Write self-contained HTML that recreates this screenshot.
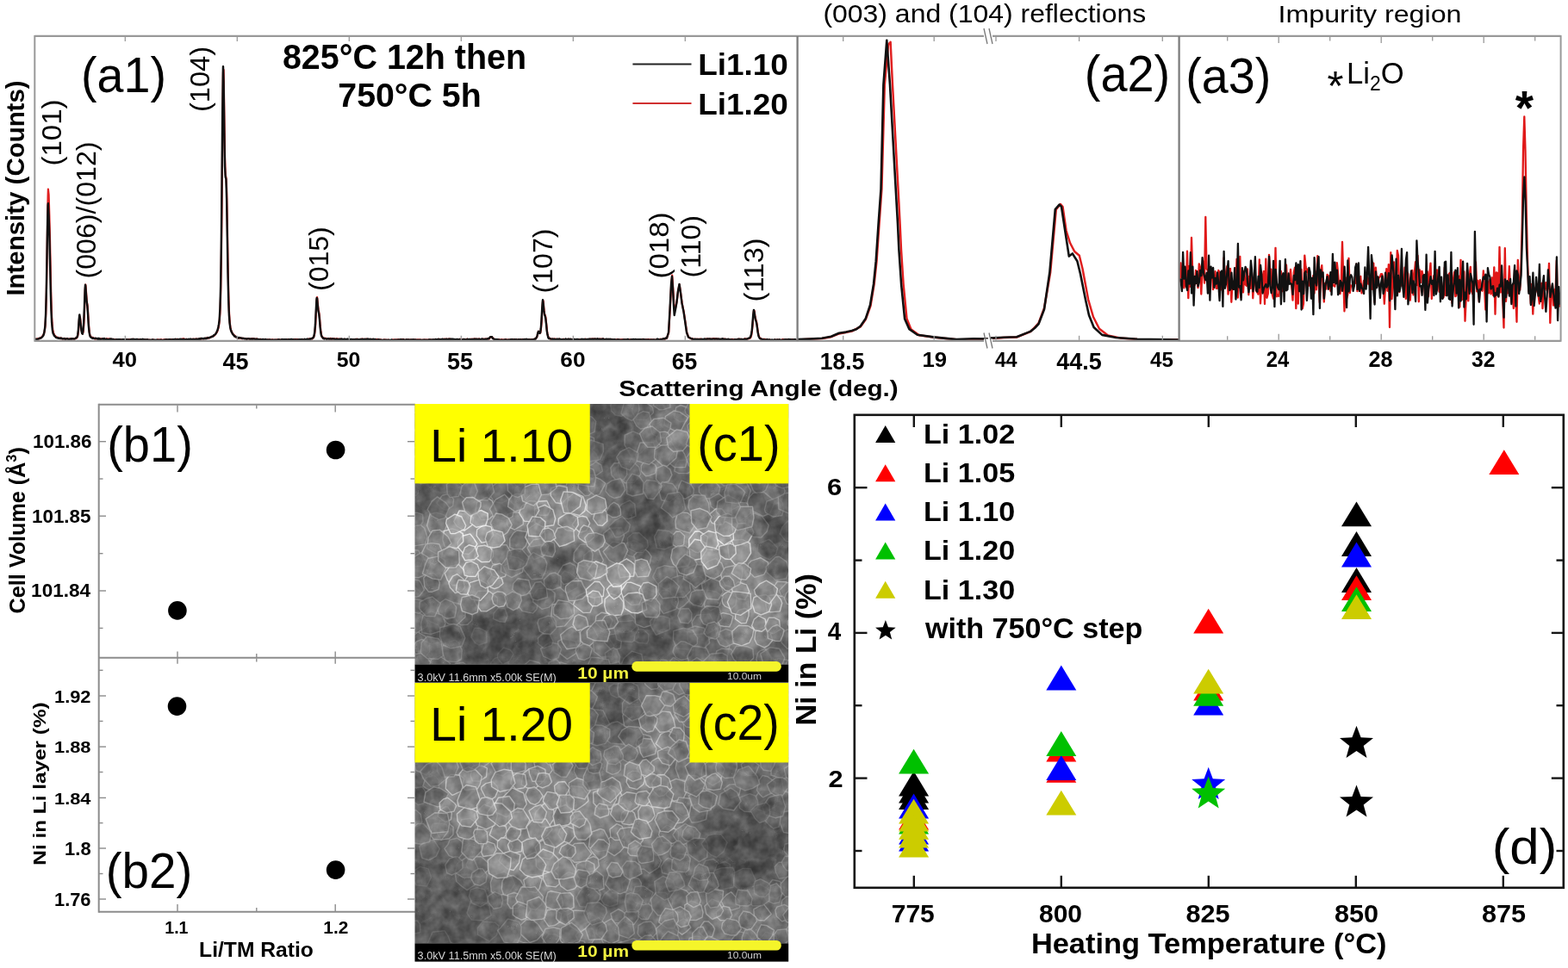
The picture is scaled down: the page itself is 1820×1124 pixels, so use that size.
<!DOCTYPE html><html><head><meta charset="utf-8"><title>Figure</title><style>html,body{margin:0;padding:0;background:#fff;overflow:hidden}svg{display:block}</style></head><body><svg width="1820" height="1124" viewBox="0 0 1820 1124" font-family='"Liberation Sans", Arial, sans-serif'>
<rect width="1820" height="1124" fill="#fff"/>
<polyline points="40.5,393.9 41.2,393.9 41.9,393.7 42.6,393.5 43.3,393.5 44.0,393.2 44.7,393.3 45.4,393.4 46.1,392.7 46.8,392.3 47.5,392.2 48.2,391.7 48.9,391.0 49.6,389.9 50.3,389.0 51.0,387.5 51.7,384.4 52.4,379.5 53.1,367.7 53.8,344.0 54.5,303.0 55.2,252.4 55.6,228.7 55.9,219.5 56.6,225.9 57.3,249.2 58.0,277.6 58.7,314.4 59.4,346.6 60.1,367.7 60.8,378.6 61.5,384.3 62.2,386.9 62.9,388.5 63.6,390.0 64.3,390.3 65.0,391.1 65.7,391.7 66.4,391.7 67.1,392.1 67.8,392.4 68.5,392.5 69.2,392.4 69.9,392.8 70.6,393.2 71.3,392.6 72.0,393.3 72.7,393.2 73.4,393.0 74.1,393.7 74.8,393.5 75.5,393.0 76.2,393.4 76.9,393.5 77.6,393.4 78.3,393.6 79.0,393.5 79.7,393.7 80.4,393.9 81.1,393.4 81.8,393.6 82.5,393.4 83.2,393.5 83.9,393.2 84.6,393.3 85.3,393.4 86.0,393.6 86.7,393.5 87.4,392.8 88.1,392.7 88.8,392.7 89.5,391.4 90.2,390.2 90.9,385.8 91.6,376.9 92.2,368.0 92.3,366.9 93.0,368.2 93.7,375.0 94.4,381.7 95.1,385.8 95.8,387.4 96.5,385.8 97.2,378.9 97.9,364.2 98.6,343.0 99.0,333.7 99.3,330.6 100.0,338.6 100.7,349.1 101.4,353.7 102.1,361.9 102.8,373.8 103.5,383.5 104.2,388.3 104.9,390.6 105.6,391.1 106.3,392.0 107.0,391.9 107.7,392.1 108.4,392.7 109.1,392.7 109.8,393.0 110.5,393.6 111.2,392.9 111.9,393.0 112.6,393.3 113.3,393.4 114.0,393.3 114.7,393.3 115.4,393.6 116.1,393.6 116.8,393.2 117.5,393.5 118.2,393.5 118.9,393.3 119.6,393.7 120.3,393.4 121.0,393.9 121.7,393.7 122.4,393.8 123.1,393.6 123.8,393.8 124.5,393.3 125.2,393.6 125.9,394.0 126.6,393.4 127.3,394.2 128.0,393.6 128.7,394.3 129.4,393.9 130.1,394.3 130.8,394.2 131.5,393.8 132.2,394.6 132.9,394.6 133.6,394.3 134.3,394.3 135.0,394.3 135.7,394.1 136.4,394.7 137.1,394.3 137.8,394.4 138.5,394.2 139.2,394.3 139.9,394.1 140.6,394.8 141.3,394.4 142.0,394.7 142.7,394.5 143.4,394.3 144.1,394.4 144.8,394.3 145.5,394.4 146.2,394.3 146.9,394.3 147.6,394.0 148.3,394.2 149.0,394.8 149.7,394.2 150.4,394.1 151.1,394.4 151.8,394.7 152.5,393.9 153.2,394.2 153.9,394.1 154.6,393.8 155.3,394.4 156.0,394.2 156.7,394.3 157.4,394.1 158.1,394.4 158.8,394.1 159.5,394.2 160.2,394.0 160.9,394.0 161.6,394.6 162.3,394.2 163.0,394.4 163.7,394.3 164.4,394.2 165.1,394.2 165.8,394.6 166.5,394.3 167.2,394.4 167.9,394.5 168.6,394.8 169.3,394.7 170.0,394.7 170.7,394.4 171.4,394.3 172.1,394.9 172.8,394.9 173.5,394.7 174.2,394.9 174.9,394.9 175.6,395.0 176.3,395.0 177.0,394.7 177.7,395.2 178.4,394.5 179.1,395.1 179.8,395.0 180.5,395.1 181.2,395.3 181.9,395.2 182.6,394.6 183.3,394.4 184.0,395.1 184.7,394.6 185.4,394.8 186.1,395.0 186.8,394.4 187.5,394.3 188.2,394.8 188.9,394.8 189.6,394.7 190.3,394.7 191.0,394.4 191.7,394.2 192.4,394.6 193.1,394.3 193.8,394.1 194.5,394.6 195.2,394.5 195.9,394.5 196.6,394.2 197.3,394.2 198.0,394.1 198.7,394.1 199.4,394.3 200.1,394.1 200.8,394.3 201.5,394.3 202.2,394.7 202.9,393.8 203.6,394.4 204.3,394.1 205.0,394.1 205.7,393.7 206.4,394.0 207.1,394.3 207.8,394.1 208.5,394.1 209.2,394.0 209.9,394.4 210.6,394.1 211.3,393.5 212.0,393.9 212.7,393.6 213.4,393.3 214.1,393.9 214.8,394.4 215.5,394.1 216.2,393.8 216.9,393.9 217.6,394.4 218.3,394.1 219.0,394.1 219.7,394.1 220.4,394.1 221.1,394.3 221.8,394.2 222.5,394.1 223.2,393.8 223.9,394.2 224.6,393.9 225.3,394.3 226.0,393.7 226.7,393.9 227.4,393.9 228.1,393.6 228.8,394.3 229.5,394.2 230.2,393.7 230.9,393.9 231.6,393.8 232.3,392.9 233.0,393.6 233.7,393.5 234.4,393.4 235.1,393.0 235.8,393.2 236.5,393.1 237.2,393.3 237.9,393.0 238.6,392.8 239.3,393.1 240.0,392.5 240.7,392.4 241.4,391.9 242.1,392.6 242.8,392.2 243.5,392.0 244.2,391.8 244.9,391.4 245.6,391.2 246.3,390.7 247.0,390.4 247.7,390.1 248.4,390.0 249.1,389.2 249.8,388.4 250.5,387.4 251.2,386.4 251.9,385.7 252.6,383.8 253.3,381.5 254.0,378.2 254.7,372.9 255.4,363.6 256.1,344.0 256.8,305.3 257.5,241.9 258.2,159.6 258.9,89.8 259.0,83.5 259.6,81.1 260.3,129.6 261.0,181.0 261.7,203.3 262.4,205.7 263.1,219.3 263.8,257.7 264.5,302.7 265.2,338.6 265.9,360.9 266.6,372.7 267.3,379.2 268.0,383.1 268.7,384.7 269.4,386.3 270.1,387.3 270.8,388.6 271.5,389.0 272.2,389.6 272.9,390.8 273.6,390.6 274.3,391.5 275.0,391.9 275.7,391.9 276.4,392.2 277.1,392.7 277.8,392.3 278.5,392.4 279.2,392.3 279.9,392.8 280.6,393.2 281.3,393.2 282.0,392.8 282.7,392.9 283.4,393.0 284.1,393.3 284.8,393.2 285.5,393.3 286.2,393.4 286.9,393.3 287.6,393.4 288.3,393.5 289.0,393.4 289.7,393.6 290.4,394.0 291.1,393.7 291.8,393.6 292.5,393.2 293.2,393.7 293.9,393.2 294.6,393.4 295.3,394.0 296.0,394.0 296.7,393.8 297.4,393.4 298.1,393.8 298.8,393.8 299.5,394.1 300.2,394.6 300.9,394.1 301.6,393.9 302.3,393.8 303.0,394.2 303.7,394.2 304.4,394.0 305.1,394.3 305.8,394.1 306.5,394.7 307.2,394.7 307.9,394.7 308.6,394.4 309.3,394.7 310.0,394.5 310.7,394.5 311.4,394.5 312.1,394.3 312.8,394.3 313.5,394.9 314.2,394.7 314.9,394.8 315.6,395.0 316.3,394.3 317.0,394.6 317.7,394.8 318.4,394.9 319.1,394.7 319.8,395.0 320.5,394.8 321.2,394.4 321.9,394.5 322.6,394.9 323.3,394.8 324.0,394.2 324.7,395.0 325.4,394.8 326.1,395.0 326.8,394.5 327.5,394.5 328.2,394.3 328.9,395.2 329.6,394.5 330.3,394.9 331.0,394.3 331.7,394.5 332.4,394.0 333.1,394.3 333.8,394.6 334.5,394.0 335.2,394.6 335.9,394.4 336.6,394.0 337.3,394.2 338.0,394.2 338.7,394.3 339.4,394.1 340.1,394.1 340.8,394.2 341.5,394.0 342.2,393.9 342.9,394.2 343.6,394.5 344.3,393.9 345.0,394.3 345.7,394.1 346.4,394.0 347.1,394.5 347.8,394.2 348.5,394.7 349.2,394.1 349.9,394.4 350.6,394.3 351.3,394.1 352.0,394.5 352.7,394.3 353.4,394.5 354.1,394.3 354.8,394.0 355.5,394.2 356.2,394.2 356.9,394.4 357.6,393.9 358.3,394.0 359.0,393.5 359.7,394.0 360.4,393.5 361.1,393.1 361.8,393.3 362.5,393.3 363.2,392.2 363.9,391.6 364.6,390.3 365.3,387.0 366.0,380.2 366.7,367.2 367.4,352.0 367.7,347.6 368.1,345.2 368.8,352.0 369.5,359.2 370.2,362.5 370.9,367.3 371.6,376.8 372.3,383.9 373.0,388.7 373.7,390.9 374.4,391.9 375.1,392.4 375.8,393.2 376.5,392.7 377.2,392.7 377.9,392.9 378.6,392.9 379.3,393.5 380.0,393.6 380.7,393.2 381.4,393.1 382.1,393.4 382.8,393.9 383.5,392.8 384.2,393.7 384.9,393.3 385.6,393.9 386.3,393.4 387.0,393.6 387.7,393.3 388.4,393.4 389.1,394.1 389.8,393.9 390.5,393.7 391.2,393.6 391.9,393.3 392.6,393.8 393.3,393.9 394.0,393.9 394.7,393.9 395.4,393.7 396.1,394.0 396.8,394.0 397.5,394.4 398.2,394.5 398.9,394.1 399.6,393.9 400.3,394.1 401.0,394.0 401.7,394.0 402.4,394.2 403.1,393.9 403.8,394.4 404.5,394.2 405.2,394.3 405.9,394.2 406.6,394.1 407.3,394.0 408.0,394.2 408.7,394.1 409.4,394.3 410.1,394.2 410.8,393.9 411.5,394.2 412.2,393.9 412.9,394.0 413.6,394.1 414.3,393.6 415.0,394.2 415.7,394.2 416.4,394.1 417.1,394.0 417.8,394.0 418.5,393.8 419.2,394.0 419.9,393.9 420.6,394.1 421.3,393.7 422.0,394.1 422.7,394.0 423.4,394.0 424.1,393.9 424.8,394.1 425.5,393.6 426.2,394.1 426.9,394.1 427.6,394.1 428.3,394.1 429.0,393.9 429.7,394.0 430.4,394.2 431.1,394.2 431.8,394.2 432.5,393.8 433.2,394.3 433.9,394.5 434.6,394.5 435.3,394.3 436.0,393.9 436.7,394.6 437.4,394.3 438.1,393.8 438.8,394.5 439.5,394.1 440.2,394.2 440.9,394.4 441.6,394.9 442.3,394.5 443.0,394.7 443.7,395.1 444.4,395.1 445.1,394.7 445.8,394.7 446.5,394.5 447.2,394.6 447.9,394.9 448.6,394.9 449.3,394.9 450.0,395.1 450.7,394.7 451.4,394.8 452.1,395.0 452.8,395.0 453.5,395.1 454.2,395.0 454.9,394.8 455.6,394.9 456.3,394.6 457.0,394.4 457.7,394.9 458.4,394.8 459.1,394.8 459.8,394.3 460.5,394.6 461.2,394.6 461.9,394.5 462.6,394.1 463.3,394.6 464.0,394.8 464.7,394.7 465.4,394.4 466.1,394.6 466.8,394.7 467.5,393.8 468.2,394.5 468.9,394.6 469.6,394.7 470.3,394.9 471.0,394.8 471.7,394.6 472.4,394.5 473.1,394.7 473.8,394.3 474.5,394.5 475.2,394.7 475.9,395.0 476.6,394.5 477.3,394.5 478.0,394.6 478.7,394.9 479.4,394.5 480.1,394.9 480.8,394.3 481.5,394.6 482.2,394.6 482.9,394.8 483.6,394.9 484.3,394.3 485.0,394.5 485.7,394.8 486.4,394.6 487.1,394.4 487.8,395.0 488.5,394.9 489.2,394.9 489.9,394.7 490.6,395.1 491.3,394.7 492.0,395.1 492.7,394.6 493.4,394.6 494.1,394.8 494.8,394.6 495.5,394.9 496.2,394.8 496.9,394.5 497.6,394.7 498.3,394.6 499.0,394.9 499.7,394.5 500.4,394.5 501.1,394.9 501.8,395.1 502.5,395.0 503.2,394.5 503.9,394.5 504.6,394.8 505.3,394.4 506.0,394.1 506.7,394.4 507.4,394.4 508.1,394.1 508.8,393.8 509.5,393.8 510.2,394.3 510.9,393.9 511.6,394.1 512.3,394.1 513.0,394.2 513.7,394.0 514.4,394.1 515.1,393.8 515.8,393.9 516.5,393.7 517.2,394.2 517.9,393.9 518.6,393.8 519.3,393.9 520.0,393.9 520.7,394.1 521.4,393.6 522.1,393.7 522.8,393.9 523.5,394.6 524.2,394.2 524.9,394.0 525.6,394.2 526.3,394.5 527.0,394.0 527.7,394.0 528.4,394.4 529.1,394.2 529.8,394.3 530.5,394.0 531.2,394.6 531.9,394.6 532.6,394.3 533.3,394.4 534.0,393.7 534.7,394.4 535.4,394.2 536.1,394.4 536.8,394.4 537.5,394.2 538.2,393.8 538.9,394.4 539.6,394.1 540.3,394.2 541.0,394.1 541.7,394.2 542.4,393.7 543.1,394.5 543.8,394.3 544.5,394.5 545.2,394.7 545.9,394.2 546.6,393.7 547.3,393.9 548.0,393.8 548.7,394.0 549.4,394.1 550.1,393.5 550.8,394.1 551.5,393.6 552.2,394.1 552.9,393.9 553.6,393.9 554.3,393.9 555.0,393.8 555.7,393.7 556.4,393.5 557.1,393.9 557.8,394.3 558.5,394.3 559.2,394.2 559.9,394.0 560.6,393.7 561.3,394.2 562.0,393.8 562.7,393.8 563.4,393.7 564.1,393.8 564.8,393.7 565.5,393.7 566.2,393.4 566.9,393.3 567.6,393.6 568.3,392.5 569.0,391.8 569.7,391.4 570.4,391.4 571.1,391.3 571.8,392.3 572.5,393.2 573.2,393.6 573.9,393.9 574.6,394.5 575.3,394.0 576.0,394.3 576.7,394.2 577.4,394.8 578.1,394.0 578.8,394.3 579.5,394.4 580.2,394.7 580.9,394.7 581.6,395.0 582.3,394.2 583.0,394.8 583.7,394.6 584.4,394.5 585.1,394.8 585.8,394.5 586.5,394.2 587.2,394.6 587.9,394.3 588.6,394.5 589.3,394.8 590.0,394.7 590.7,395.1 591.4,394.6 592.1,394.2 592.8,394.4 593.5,394.4 594.2,394.3 594.9,394.7 595.6,394.4 596.3,394.0 597.0,394.7 597.7,394.5 598.4,394.6 599.1,394.5 599.8,394.6 600.5,394.4 601.2,394.7 601.9,394.5 602.6,394.5 603.3,394.5 604.0,394.0 604.7,394.3 605.4,394.3 606.1,394.4 606.8,394.0 607.5,394.7 608.2,394.4 608.9,394.0 609.6,393.9 610.3,394.3 611.0,394.3 611.7,394.2 612.4,394.4 613.1,394.2 613.8,394.5 614.5,394.1 615.2,394.3 615.9,394.5 616.6,394.9 617.3,394.0 618.0,394.1 618.7,394.0 619.4,394.3 620.1,393.7 620.8,393.7 621.5,393.6 622.2,392.8 622.9,391.8 623.6,390.1 624.3,387.0 625.0,384.9 625.7,385.1 626.4,386.5 627.1,386.7 627.8,383.2 628.5,375.6 629.2,363.4 629.9,351.4 630.0,350.1 630.6,349.3 631.3,357.6 632.0,364.0 632.7,366.0 633.4,368.4 634.1,375.4 634.8,382.4 635.5,388.0 636.2,390.5 636.9,392.3 637.6,392.6 638.3,393.1 639.0,394.0 639.7,393.7 640.4,393.5 641.1,393.7 641.8,393.9 642.5,394.1 643.2,393.8 643.9,393.5 644.6,393.8 645.3,393.9 646.0,394.0 646.7,394.3 647.4,394.0 648.1,394.1 648.8,393.7 649.5,394.2 650.2,394.5 650.9,394.1 651.6,394.0 652.3,394.0 653.0,394.4 653.7,393.7 654.4,393.9 655.1,394.1 655.8,394.2 656.5,393.9 657.2,394.1 657.9,394.0 658.6,394.1 659.3,394.0 660.0,393.8 660.7,394.1 661.4,394.3 662.1,393.9 662.8,394.1 663.5,394.3 664.2,393.9 664.9,394.3 665.6,394.0 666.3,394.5 667.0,394.8 667.7,394.8 668.4,394.2 669.1,394.5 669.8,394.3 670.5,394.3 671.2,394.7 671.9,394.0 672.6,394.6 673.3,394.3 674.0,394.6 674.7,394.3 675.4,394.1 676.1,394.3 676.8,394.4 677.5,394.2 678.2,394.3 678.9,394.1 679.6,393.6 680.3,394.4 681.0,394.3 681.7,394.1 682.4,394.1 683.1,394.3 683.8,393.9 684.5,393.8 685.2,393.9 685.9,394.2 686.6,393.6 687.3,394.2 688.0,393.7 688.7,393.6 689.4,394.2 690.1,393.8 690.8,393.5 691.5,393.7 692.2,394.0 692.9,394.1 693.6,393.7 694.3,393.9 695.0,394.0 695.7,393.6 696.4,393.9 697.1,393.8 697.8,393.7 698.5,393.7 699.2,393.9 699.9,393.9 700.6,393.7 701.3,393.8 702.0,394.2 702.7,394.0 703.4,394.2 704.1,394.3 704.8,394.2 705.5,394.6 706.2,393.9 706.9,394.3 707.6,394.1 708.3,394.7 709.0,394.7 709.7,393.8 710.4,394.0 711.1,394.5 711.8,394.5 712.5,394.6 713.2,394.4 713.9,394.5 714.6,394.6 715.3,394.4 716.0,394.7 716.7,393.9 717.4,394.7 718.1,394.3 718.8,394.8 719.5,394.5 720.2,394.3 720.9,394.6 721.6,394.3 722.3,394.3 723.0,394.1 723.7,394.5 724.4,394.6 725.1,394.7 725.8,394.4 726.5,394.7 727.2,394.5 727.9,394.4 728.6,394.6 729.3,394.7 730.0,394.3 730.7,394.3 731.4,394.3 732.1,394.4 732.8,394.1 733.5,394.6 734.2,394.2 734.9,394.4 735.6,394.1 736.3,394.4 737.0,394.4 737.7,394.2 738.4,394.8 739.1,394.4 739.8,394.7 740.5,394.5 741.2,394.1 741.9,394.2 742.6,394.4 743.3,394.3 744.0,394.3 744.7,394.3 745.4,393.9 746.1,394.3 746.8,393.8 747.5,394.5 748.2,394.3 748.9,394.3 749.6,394.4 750.3,394.6 751.0,394.2 751.7,394.1 752.4,394.3 753.1,394.1 753.8,394.3 754.5,395.0 755.2,394.4 755.9,394.8 756.6,394.3 757.3,394.7 758.0,394.6 758.7,394.6 759.4,394.8 760.1,395.0 760.8,394.6 761.5,394.6 762.2,394.3 762.9,394.7 763.6,394.4 764.3,394.6 765.0,394.4 765.7,394.7 766.4,393.7 767.1,394.1 767.8,394.3 768.5,393.9 769.2,393.6 769.9,393.6 770.6,393.2 771.3,393.4 772.0,393.7 772.7,393.1 773.4,392.2 774.0,392.7 776.2,386.0 777.7,360.0 779.2,330.0 780.2,319.5 781.2,334.0 782.2,352.0 783.0,360.0 784.0,358.0 785.6,350.0 787.2,337.0 788.7,330.5 790.2,341.0 791.8,353.0 793.7,362.0 795.3,373.0 797.3,386.5 799.3,391.7 803.0,393.6 803.5,394.2 804.2,393.3 804.9,393.8 805.6,394.4 806.3,394.0 807.0,393.9 807.7,393.9 808.4,393.8 809.1,393.9 809.8,393.8 810.5,394.2 811.2,393.9 811.9,393.9 812.6,393.7 813.3,394.0 814.0,393.7 814.7,393.9 815.4,394.2 816.1,394.0 816.8,394.0 817.5,394.0 818.2,393.9 818.9,393.8 819.6,393.7 820.3,394.0 821.0,393.5 821.7,394.1 822.4,393.7 823.1,393.5 823.8,393.6 824.5,393.5 825.2,393.7 825.9,393.5 826.6,393.9 827.3,393.5 828.0,393.1 828.7,393.5 829.4,393.1 830.1,393.6 830.8,393.9 831.5,393.8 832.2,393.3 832.9,393.5 833.6,394.2 834.3,393.8 835.0,393.8 835.7,394.0 836.4,394.4 837.1,394.1 837.8,393.9 838.5,394.0 839.2,394.1 839.9,393.8 840.6,393.7 841.3,394.0 842.0,393.8 842.7,394.0 843.4,394.1 844.1,394.7 844.8,393.9 845.5,394.1 846.2,394.1 846.9,394.3 847.6,394.5 848.3,394.1 849.0,394.0 849.7,393.9 850.4,394.0 851.1,394.4 851.8,394.3 852.5,394.0 853.2,394.2 853.9,394.3 854.6,394.4 855.3,394.1 856.0,394.2 856.7,393.8 857.4,393.9 858.1,394.6 858.8,393.6 859.5,394.1 860.2,394.2 860.9,394.0 861.6,393.9 862.3,394.0 863.0,394.0 863.7,393.9 864.4,393.4 865.1,393.8 865.8,393.5 866.5,393.5 867.2,393.6 867.9,393.5 868.6,393.4 869.3,392.9 870.0,392.9 870.7,392.5 871.4,391.5 872.1,389.6 872.8,385.2 873.5,378.2 874.2,369.2 874.9,361.1 874.9,361.5 875.6,361.0 876.3,366.2 877.0,370.2 877.7,372.3 878.4,375.1 879.1,380.3 879.8,385.5 880.5,389.0 881.2,391.2 881.9,392.2 882.6,393.1 883.3,393.3 884.0,393.8 884.7,394.3 885.4,394.0 886.1,393.7 886.8,394.0 887.5,393.9 888.2,394.1 888.9,394.8 889.6,394.6 890.3,394.2 891.0,394.8 891.7,395.0 892.4,394.6 893.1,394.6 893.8,394.7 894.5,394.9 895.2,395.0 895.9,395.1 896.6,395.1 897.3,395.1 898.0,395.2 898.7,395.0 899.4,394.5 900.1,394.8 900.8,394.9 901.5,394.7 902.2,395.0 902.9,394.7 903.6,394.6 904.3,395.1 905.0,394.9 905.7,394.8 906.4,394.9 907.1,394.9 907.8,394.7 908.5,394.0 909.2,394.4 909.9,394.5 910.6,394.3 911.3,394.6 912.0,394.8 912.7,394.4 913.4,394.2 914.1,395.0 914.8,394.3 915.5,394.1 916.2,394.5 916.9,394.5 917.6,394.2 918.3,394.6 919.0,394.3 919.7,394.1 920.4,394.4 921.1,394.6 921.8,394.2 922.5,394.5 923.2,394.4 923.9,395.1 924.6,394.2" fill="none" stroke="#e02020" stroke-width="2.2" stroke-linejoin="round" />
<polyline points="40.5,394.3 41.2,393.9 41.9,393.8 42.6,393.9 43.3,393.9 44.0,393.8 44.7,393.4 45.4,393.0 46.1,392.8 46.8,392.7 47.5,392.4 48.2,392.1 48.9,391.2 49.6,390.6 50.3,389.5 51.0,387.5 51.7,384.1 52.4,378.1 53.1,364.5 53.8,338.5 54.5,296.4 55.2,253.0 55.6,238.3 55.9,236.2 56.6,250.2 57.3,272.4 58.0,301.3 58.7,334.0 59.4,359.4 60.1,374.7 60.8,382.7 61.5,386.9 62.2,388.0 62.9,389.7 63.6,390.2 64.3,391.1 65.0,391.8 65.7,391.9 66.4,392.4 67.1,392.0 67.8,392.9 68.5,392.6 69.2,393.0 69.9,393.0 70.6,392.4 71.3,392.9 72.0,393.2 72.7,393.6 73.4,393.4 74.1,393.4 74.8,393.0 75.5,393.8 76.2,393.9 76.9,393.5 77.6,393.4 78.3,393.1 79.0,393.7 79.7,394.2 80.4,393.7 81.1,393.9 81.8,393.7 82.5,393.3 83.2,393.9 83.9,393.2 84.6,393.4 85.3,393.5 86.0,393.5 86.7,393.3 87.4,393.1 88.1,392.6 88.8,392.1 89.5,391.6 90.2,389.0 90.9,382.8 91.6,372.3 92.2,366.0 92.3,365.5 93.0,370.4 93.7,377.0 94.4,383.4 95.1,387.0 95.8,387.8 96.5,383.7 97.2,374.5 97.9,357.3 98.6,336.6 99.0,330.8 99.3,332.1 100.0,342.7 100.7,350.8 101.4,355.4 102.1,366.1 102.8,377.8 103.5,385.2 104.2,389.1 104.9,391.0 105.6,391.8 106.3,392.0 107.0,392.6 107.7,392.8 108.4,392.4 109.1,392.9 109.8,393.1 110.5,393.0 111.2,392.6 111.9,393.2 112.6,393.5 113.3,393.7 114.0,392.8 114.7,394.0 115.4,393.1 116.1,393.7 116.8,393.8 117.5,393.8 118.2,393.6 118.9,393.3 119.6,393.8 120.3,393.5 121.0,393.0 121.7,394.4 122.4,393.9 123.1,394.2 123.8,393.6 124.5,394.2 125.2,394.3 125.9,394.3 126.6,394.0 127.3,393.7 128.0,394.0 128.7,393.5 129.4,393.7 130.1,394.2 130.8,393.9 131.5,394.2 132.2,394.2 132.9,394.8 133.6,394.6 134.3,394.3 135.0,394.7 135.7,394.2 136.4,394.3 137.1,394.6 137.8,394.1 138.5,394.4 139.2,394.1 139.9,394.5 140.6,394.9 141.3,394.3 142.0,394.5 142.7,394.2 143.4,394.2 144.1,394.1 144.8,394.8 145.5,395.0 146.2,394.5 146.9,394.2 147.6,394.6 148.3,394.3 149.0,394.6 149.7,394.4 150.4,394.4 151.1,394.5 151.8,394.2 152.5,394.2 153.2,393.9 153.9,394.2 154.6,393.9 155.3,394.2 156.0,394.0 156.7,394.3 157.4,394.4 158.1,393.9 158.8,394.1 159.5,394.0 160.2,394.5 160.9,394.7 161.6,394.5 162.3,394.2 163.0,394.7 163.7,394.0 164.4,394.7 165.1,394.2 165.8,393.7 166.5,395.1 167.2,394.8 167.9,394.2 168.6,394.5 169.3,394.5 170.0,394.6 170.7,394.2 171.4,394.4 172.1,394.8 172.8,394.7 173.5,395.0 174.2,394.7 174.9,395.3 175.6,394.6 176.3,394.9 177.0,394.3 177.7,394.5 178.4,395.2 179.1,394.6 179.8,395.0 180.5,394.9 181.2,394.6 181.9,394.8 182.6,394.7 183.3,394.7 184.0,395.1 184.7,395.0 185.4,394.7 186.1,394.6 186.8,394.9 187.5,394.8 188.2,395.0 188.9,395.4 189.6,394.9 190.3,394.7 191.0,394.6 191.7,394.4 192.4,394.4 193.1,394.3 193.8,394.4 194.5,394.4 195.2,394.7 195.9,394.3 196.6,394.4 197.3,394.1 198.0,394.7 198.7,394.4 199.4,394.7 200.1,394.4 200.8,394.6 201.5,394.1 202.2,394.4 202.9,394.8 203.6,393.8 204.3,394.4 205.0,394.5 205.7,394.2 206.4,394.3 207.1,394.4 207.8,393.9 208.5,394.2 209.2,393.8 209.9,393.9 210.6,393.9 211.3,394.0 212.0,394.1 212.7,394.2 213.4,393.7 214.1,394.6 214.8,394.4 215.5,394.3 216.2,394.0 216.9,394.1 217.6,394.2 218.3,394.2 219.0,393.7 219.7,394.3 220.4,394.8 221.1,393.6 221.8,394.3 222.5,394.2 223.2,394.0 223.9,394.4 224.6,393.7 225.3,394.1 226.0,394.4 226.7,393.9 227.4,393.8 228.1,393.9 228.8,393.7 229.5,394.2 230.2,393.5 230.9,393.9 231.6,393.3 232.3,393.8 233.0,393.5 233.7,392.8 234.4,393.4 235.1,393.0 235.8,393.1 236.5,393.5 237.2,392.7 237.9,392.7 238.6,393.2 239.3,392.7 240.0,393.0 240.7,392.5 241.4,392.1 242.1,392.1 242.8,392.3 243.5,392.0 244.2,391.5 244.9,391.3 245.6,391.0 246.3,390.6 247.0,390.8 247.7,389.9 248.4,389.1 249.1,388.7 249.8,388.3 250.5,387.4 251.2,386.1 251.9,384.6 252.6,383.0 253.3,380.1 254.0,376.5 254.7,370.8 255.4,358.1 256.1,333.0 256.8,286.3 257.5,214.5 258.2,131.5 258.9,79.5 259.0,77.1 259.6,95.6 260.3,151.2 261.0,193.2 261.7,205.6 262.4,207.9 263.1,231.0 263.8,274.1 264.5,317.3 265.2,348.0 265.9,366.1 266.6,375.3 267.3,380.5 268.0,383.5 268.7,385.4 269.4,386.6 270.1,388.1 270.8,388.5 271.5,389.5 272.2,390.5 272.9,390.4 273.6,390.9 274.3,391.6 275.0,391.5 275.7,391.8 276.4,392.2 277.1,392.6 277.8,391.9 278.5,392.4 279.2,392.4 279.9,392.5 280.6,392.7 281.3,392.8 282.0,393.1 282.7,392.9 283.4,393.2 284.1,393.3 284.8,393.1 285.5,393.3 286.2,393.8 286.9,393.5 287.6,393.3 288.3,393.4 289.0,393.2 289.7,393.6 290.4,393.8 291.1,393.4 291.8,393.5 292.5,393.9 293.2,393.5 293.9,393.7 294.6,393.5 295.3,393.5 296.0,393.7 296.7,394.4 297.4,393.8 298.1,393.8 298.8,393.8 299.5,393.9 300.2,394.2 300.9,394.1 301.6,394.6 302.3,394.2 303.0,394.5 303.7,394.3 304.4,394.4 305.1,393.9 305.8,394.3 306.5,394.4 307.2,394.4 307.9,393.9 308.6,394.7 309.3,394.4 310.0,394.5 310.7,394.5 311.4,394.6 312.1,394.8 312.8,394.4 313.5,394.5 314.2,394.8 314.9,394.8 315.6,394.7 316.3,394.6 317.0,394.6 317.7,394.8 318.4,395.1 319.1,394.5 319.8,395.1 320.5,395.0 321.2,394.6 321.9,394.9 322.6,394.4 323.3,394.3 324.0,394.4 324.7,394.6 325.4,394.6 326.1,394.5 326.8,394.6 327.5,394.0 328.2,394.7 328.9,394.2 329.6,394.3 330.3,394.4 331.0,394.2 331.7,394.1 332.4,394.2 333.1,394.4 333.8,394.5 334.5,394.5 335.2,394.1 335.9,394.1 336.6,394.1 337.3,394.4 338.0,393.8 338.7,394.6 339.4,394.1 340.1,394.1 340.8,394.3 341.5,394.5 342.2,394.3 342.9,394.5 343.6,394.3 344.3,394.6 345.0,394.6 345.7,394.3 346.4,394.6 347.1,394.3 347.8,394.3 348.5,394.1 349.2,394.2 349.9,394.5 350.6,394.0 351.3,394.5 352.0,394.4 352.7,394.4 353.4,393.8 354.1,394.3 354.8,394.4 355.5,394.0 356.2,394.2 356.9,393.6 357.6,394.3 358.3,393.9 359.0,394.2 359.7,393.4 360.4,393.8 361.1,393.4 361.8,393.4 362.5,392.6 363.2,392.2 363.9,392.0 364.6,389.4 365.3,385.1 366.0,376.2 366.7,361.7 367.4,348.4 367.7,346.0 368.1,346.5 368.8,354.6 369.5,361.3 370.2,364.3 370.9,370.9 371.6,379.7 372.3,385.8 373.0,389.7 373.7,391.0 374.4,391.8 375.1,392.8 375.8,392.6 376.5,393.6 377.2,393.1 377.9,393.1 378.6,393.5 379.3,393.8 380.0,393.5 380.7,393.1 381.4,393.6 382.1,393.8 382.8,393.4 383.5,393.4 384.2,393.8 384.9,393.6 385.6,393.3 386.3,393.5 387.0,393.5 387.7,393.7 388.4,393.7 389.1,394.0 389.8,393.9 390.5,393.4 391.2,393.9 391.9,394.0 392.6,394.0 393.3,394.1 394.0,393.8 394.7,393.7 395.4,394.2 396.1,393.7 396.8,393.5 397.5,394.3 398.2,393.9 398.9,394.0 399.6,393.8 400.3,393.8 401.0,393.9 401.7,394.1 402.4,394.3 403.1,393.6 403.8,394.4 404.5,393.9 405.2,394.0 405.9,394.4 406.6,394.2 407.3,393.9 408.0,394.7 408.7,394.0 409.4,394.3 410.1,394.3 410.8,394.6 411.5,394.1 412.2,394.5 412.9,394.0 413.6,394.5 414.3,394.0 415.0,394.1 415.7,394.6 416.4,394.2 417.1,394.1 417.8,394.6 418.5,394.2 419.2,393.9 419.9,394.2 420.6,393.7 421.3,394.3 422.0,394.3 422.7,393.9 423.4,393.8 424.1,394.0 424.8,394.0 425.5,393.8 426.2,394.1 426.9,393.5 427.6,393.9 428.3,393.9 429.0,394.0 429.7,394.1 430.4,393.8 431.1,394.2 431.8,394.1 432.5,394.0 433.2,393.8 433.9,393.9 434.6,394.3 435.3,394.0 436.0,394.3 436.7,394.6 437.4,394.6 438.1,394.8 438.8,394.4 439.5,394.2 440.2,394.8 440.9,394.6 441.6,394.9 442.3,394.6 443.0,394.9 443.7,394.9 444.4,394.9 445.1,394.8 445.8,394.8 446.5,394.8 447.2,394.8 447.9,395.1 448.6,394.7 449.3,395.3 450.0,394.8 450.7,395.1 451.4,394.8 452.1,394.8 452.8,395.4 453.5,394.8 454.2,394.5 454.9,394.7 455.6,394.8 456.3,395.4 457.0,394.9 457.7,395.0 458.4,394.5 459.1,394.8 459.8,394.9 460.5,395.2 461.2,394.5 461.9,394.8 462.6,394.7 463.3,394.4 464.0,394.6 464.7,394.5 465.4,394.0 466.1,394.7 466.8,394.7 467.5,394.4 468.2,394.2 468.9,394.9 469.6,394.6 470.3,394.7 471.0,394.8 471.7,394.3 472.4,394.7 473.1,394.4 473.8,394.5 474.5,394.5 475.2,394.5 475.9,394.8 476.6,394.5 477.3,394.5 478.0,394.5 478.7,394.6 479.4,394.3 480.1,394.4 480.8,394.6 481.5,394.5 482.2,394.6 482.9,394.5 483.6,395.2 484.3,395.0 485.0,394.8 485.7,394.7 486.4,395.3 487.1,394.8 487.8,394.7 488.5,394.8 489.2,394.9 489.9,395.1 490.6,394.8 491.3,395.3 492.0,394.6 492.7,395.0 493.4,394.6 494.1,395.2 494.8,394.7 495.5,394.8 496.2,395.0 496.9,395.1 497.6,394.5 498.3,394.6 499.0,394.3 499.7,394.7 500.4,394.6 501.1,394.5 501.8,394.4 502.5,394.4 503.2,394.3 503.9,394.6 504.6,394.8 505.3,393.9 506.0,394.3 506.7,394.2 507.4,394.4 508.1,394.0 508.8,394.2 509.5,393.9 510.2,394.3 510.9,394.2 511.6,394.1 512.3,394.2 513.0,394.0 513.7,393.6 514.4,394.2 515.1,394.1 515.8,393.9 516.5,394.2 517.2,394.3 517.9,393.7 518.6,393.8 519.3,394.3 520.0,394.3 520.7,393.8 521.4,393.7 522.1,393.8 522.8,393.8 523.5,393.6 524.2,394.0 524.9,393.7 525.6,393.7 526.3,394.3 527.0,393.9 527.7,394.1 528.4,394.2 529.1,394.3 529.8,394.0 530.5,394.2 531.2,394.0 531.9,394.6 532.6,394.4 533.3,393.9 534.0,394.2 534.7,394.4 535.4,394.4 536.1,394.7 536.8,394.6 537.5,394.1 538.2,394.2 538.9,394.0 539.6,394.3 540.3,394.3 541.0,394.9 541.7,394.3 542.4,393.7 543.1,394.1 543.8,394.2 544.5,393.9 545.2,394.0 545.9,394.1 546.6,394.2 547.3,394.1 548.0,393.9 548.7,394.3 549.4,393.9 550.1,393.9 550.8,393.7 551.5,393.8 552.2,394.1 552.9,393.6 553.6,393.9 554.3,394.1 555.0,393.8 555.7,394.0 556.4,393.6 557.1,394.2 557.8,394.1 558.5,393.9 559.2,393.4 559.9,393.6 560.6,394.1 561.3,394.2 562.0,393.9 562.7,394.1 563.4,393.7 564.1,393.7 564.8,393.8 565.5,393.8 566.2,393.2 566.9,393.5 567.6,393.2 568.3,392.0 569.0,391.3 569.7,391.3 570.4,391.1 571.1,391.2 571.8,392.7 572.5,393.2 573.2,393.5 573.9,394.5 574.6,394.1 575.3,394.0 576.0,394.3 576.7,394.1 577.4,394.2 578.1,394.5 578.8,394.4 579.5,394.4 580.2,395.0 580.9,394.8 581.6,394.8 582.3,394.8 583.0,394.8 583.7,395.0 584.4,394.7 585.1,395.1 585.8,394.4 586.5,394.6 587.2,394.3 587.9,394.6 588.6,394.8 589.3,395.0 590.0,394.5 590.7,394.7 591.4,394.6 592.1,394.4 592.8,394.3 593.5,394.6 594.2,394.1 594.9,394.6 595.6,394.5 596.3,394.4 597.0,394.3 597.7,394.1 598.4,394.9 599.1,394.1 599.8,394.8 600.5,394.6 601.2,394.3 601.9,394.1 602.6,394.6 603.3,394.8 604.0,394.1 604.7,394.3 605.4,394.6 606.1,394.4 606.8,394.8 607.5,394.2 608.2,394.5 608.9,394.0 609.6,394.8 610.3,394.1 611.0,393.8 611.7,394.3 612.4,394.3 613.1,394.8 613.8,394.2 614.5,394.3 615.2,394.5 615.9,394.7 616.6,394.3 617.3,394.5 618.0,394.3 618.7,394.1 619.4,394.1 620.1,393.9 620.8,393.5 621.5,393.7 622.2,392.4 622.9,391.8 623.6,389.5 624.3,386.6 625.0,384.8 625.7,385.5 626.4,386.9 627.1,386.3 627.8,381.5 628.5,371.9 629.2,358.2 629.9,349.1 630.0,348.3 630.6,352.1 631.3,360.4 632.0,365.2 632.7,367.0 633.4,370.6 634.1,377.1 634.8,384.6 635.5,388.6 636.2,391.6 636.9,393.0 637.6,392.8 638.3,393.2 639.0,393.4 639.7,393.7 640.4,393.9 641.1,394.1 641.8,393.6 642.5,394.3 643.2,393.7 643.9,394.0 644.6,394.2 645.3,394.1 646.0,393.7 646.7,393.8 647.4,393.8 648.1,393.9 648.8,394.2 649.5,393.6 650.2,394.1 650.9,394.1 651.6,394.1 652.3,394.1 653.0,394.3 653.7,394.1 654.4,394.2 655.1,394.1 655.8,394.4 656.5,393.5 657.2,394.3 657.9,394.0 658.6,394.0 659.3,393.8 660.0,393.6 660.7,394.0 661.4,393.9 662.1,394.3 662.8,393.8 663.5,394.5 664.2,394.3 664.9,394.1 665.6,394.0 666.3,394.0 667.0,394.0 667.7,394.1 668.4,394.3 669.1,394.2 669.8,393.9 670.5,394.2 671.2,394.1 671.9,394.3 672.6,394.8 673.3,394.4 674.0,394.2 674.7,393.9 675.4,393.9 676.1,393.8 676.8,394.4 677.5,394.0 678.2,394.2 678.9,394.0 679.6,394.2 680.3,394.5 681.0,393.9 681.7,394.0 682.4,393.9 683.1,394.3 683.8,393.8 684.5,393.7 685.2,393.6 685.9,393.6 686.6,394.0 687.3,394.5 688.0,393.6 688.7,394.1 689.4,393.9 690.1,393.5 690.8,393.7 691.5,393.7 692.2,393.6 692.9,394.3 693.6,393.3 694.3,393.9 695.0,393.9 695.7,393.6 696.4,393.8 697.1,394.0 697.8,393.8 698.5,393.9 699.2,394.0 699.9,393.3 700.6,394.2 701.3,394.5 702.0,394.2 702.7,394.2 703.4,393.6 704.1,394.0 704.8,393.8 705.5,393.9 706.2,394.3 706.9,393.9 707.6,394.1 708.3,393.7 709.0,394.2 709.7,394.3 710.4,394.1 711.1,394.1 711.8,394.8 712.5,394.1 713.2,394.1 713.9,394.2 714.6,394.7 715.3,395.0 716.0,394.6 716.7,394.3 717.4,394.4 718.1,394.8 718.8,394.3 719.5,394.9 720.2,394.9 720.9,394.6 721.6,394.7 722.3,394.7 723.0,394.9 723.7,394.3 724.4,394.8 725.1,394.4 725.8,394.3 726.5,394.5 727.2,394.4 727.9,394.2 728.6,394.0 729.3,394.2 730.0,394.8 730.7,394.9 731.4,394.5 732.1,394.6 732.8,394.2 733.5,394.3 734.2,394.4 734.9,394.0 735.6,394.0 736.3,394.3 737.0,394.2 737.7,394.0 738.4,394.4 739.1,394.2 739.8,394.5 740.5,394.3 741.2,394.2 741.9,394.3 742.6,394.3 743.3,394.1 744.0,394.2 744.7,394.5 745.4,394.5 746.1,394.7 746.8,394.0 747.5,394.3 748.2,394.3 748.9,394.5 749.6,394.4 750.3,394.4 751.0,394.7 751.7,394.6 752.4,394.3 753.1,394.9 753.8,394.8 754.5,394.5 755.2,394.8 755.9,394.4 756.6,394.9 757.3,394.6 758.0,394.4 758.7,394.5 759.4,394.4 760.1,394.6 760.8,394.6 761.5,394.6 762.2,394.4 762.9,393.6 763.6,394.5 764.3,393.9 765.0,394.4 765.7,394.6 766.4,394.3 767.1,394.0 767.8,394.0 768.5,393.9 769.2,393.7 769.9,393.5 770.6,393.2 771.3,393.6 772.0,393.0 772.7,392.9 773.4,392.2 774.0,392.5 776.0,386.0 777.5,360.0 779.0,330.0 780.0,321.0 781.0,335.0 782.0,355.0 782.7,366.0 783.5,362.0 785.4,351.6 787.0,338.0 788.5,330.0 790.0,340.0 791.5,352.0 793.4,361.4 795.0,372.0 797.0,386.0 799.0,391.5 803.0,393.5 803.5,393.3 804.2,394.1 804.9,394.1 805.6,394.0 806.3,393.6 807.0,393.9 807.7,393.9 808.4,394.0 809.1,393.9 809.8,394.1 810.5,393.9 811.2,394.2 811.9,394.1 812.6,393.9 813.3,393.9 814.0,393.9 814.7,394.2 815.4,393.9 816.1,394.0 816.8,393.8 817.5,393.5 818.2,394.1 818.9,393.6 819.6,394.0 820.3,393.9 821.0,393.4 821.7,393.5 822.4,393.6 823.1,393.5 823.8,393.4 824.5,393.9 825.2,393.6 825.9,393.8 826.6,393.6 827.3,393.7 828.0,393.5 828.7,393.6 829.4,393.8 830.1,393.7 830.8,393.5 831.5,393.4 832.2,393.7 832.9,393.8 833.6,393.6 834.3,393.5 835.0,393.9 835.7,394.4 836.4,393.7 837.1,393.9 837.8,393.9 838.5,393.2 839.2,393.9 839.9,393.8 840.6,394.3 841.3,393.9 842.0,393.8 842.7,394.0 843.4,394.1 844.1,394.0 844.8,394.1 845.5,393.8 846.2,394.1 846.9,394.4 847.6,394.7 848.3,394.4 849.0,394.3 849.7,394.6 850.4,394.5 851.1,394.7 851.8,394.6 852.5,394.3 853.2,394.4 853.9,394.3 854.6,394.4 855.3,394.3 856.0,394.1 856.7,393.7 857.4,394.1 858.1,393.7 858.8,394.2 859.5,394.2 860.2,393.7 860.9,394.3 861.6,394.3 862.3,394.0 863.0,394.4 863.7,394.4 864.4,393.5 865.1,394.0 865.8,393.8 866.5,393.7 867.2,393.7 867.9,393.1 868.6,393.0 869.3,392.7 870.0,392.3 870.7,391.9 871.4,390.3 872.1,387.9 872.8,383.2 873.5,375.1 874.2,365.9 874.9,359.9 874.9,360.2 875.6,362.6 876.3,368.1 877.0,371.3 877.7,373.4 878.4,376.7 879.1,382.0 879.8,386.8 880.5,390.2 881.2,391.7 881.9,393.0 882.6,393.3 883.3,393.5 884.0,393.7 884.7,394.0 885.4,394.3 886.1,394.4 886.8,394.3 887.5,394.5 888.2,394.4 888.9,394.8 889.6,394.5 890.3,394.1 891.0,395.0 891.7,394.7 892.4,394.4 893.1,394.7 893.8,394.5 894.5,395.3 895.2,394.9 895.9,394.4 896.6,395.0 897.3,394.7 898.0,395.3 898.7,394.6 899.4,394.3 900.1,394.9 900.8,394.8 901.5,394.7 902.2,394.3 902.9,394.9 903.6,395.2 904.3,394.3 905.0,395.0 905.7,394.6 906.4,395.3 907.1,394.8 907.8,394.6 908.5,394.9 909.2,394.7 909.9,394.4 910.6,394.7 911.3,394.4 912.0,394.1 912.7,395.0 913.4,394.4 914.1,394.3 914.8,394.5 915.5,394.0 916.2,394.1 916.9,394.3 917.6,394.3 918.3,394.4 919.0,394.7 919.7,394.3 920.4,394.5 921.1,394.5 921.8,394.1 922.5,394.4 923.2,394.2 923.9,394.7 924.6,394.5" fill="none" stroke="#111" stroke-width="2.4" stroke-linejoin="round" />
<polyline points="926.0,394.4 940.0,393.8 954.0,393.0 964.7,391.2 974.0,387.4 988.7,384.6 998.7,379.4 1004.7,371.0 1010.5,355.0 1014.6,330.0 1017.5,303.4 1020.5,260.0 1023.4,219.5 1026.8,98.7 1031.0,52.0 1033.6,48.8 1036.0,98.7 1042.5,219.5 1044.6,260.0 1046.0,290.0 1048.6,330.0 1052.5,370.0 1057.6,382.6 1066.8,389.3 1085.0,391.8 1110.0,394.3 1147.0,393.9" fill="none" stroke="#e02020" stroke-width="2.5" stroke-linejoin="round" />
<polyline points="1150.0,392.9 1165.0,392.1 1180.0,391.6 1196.0,385.2 1201.0,380.0 1205.6,375.0 1212.0,358.0 1219.2,316.0 1225.8,243.2 1230.9,237.0 1233.5,240.0 1237.6,268.0 1242.0,282.0 1247.2,292.0 1252.8,296.8 1256.5,312.0 1263.2,348.0 1269.0,368.0 1276.0,381.7 1286.0,389.5 1300.0,392.4 1320.0,393.9 1368.0,394.6" fill="none" stroke="#e02020" stroke-width="2.5" stroke-linejoin="round" />
<polyline points="926.0,394.1 940.0,393.6 954.0,392.8 964.7,390.8 974.0,386.8 982.0,385.6 988.7,384.1 994.0,382.3 998.7,378.8 1004.7,370.1 1010.0,354.1 1014.0,330.0 1016.7,303.4 1019.6,260.0 1022.5,219.5 1025.4,98.7 1029.3,46.8 1033.0,98.7 1039.7,219.5 1042.0,260.0 1043.4,290.0 1046.1,330.0 1050.1,370.1 1055.4,382.1 1064.8,388.8 1083.4,391.4 1110.0,394.1 1130.0,393.2 1147.0,393.6" fill="none" stroke="#111" stroke-width="2.6" stroke-linejoin="round" />
<polyline points="1150.0,392.6 1165.0,391.8 1180.0,391.3 1196.0,384.9 1201.0,381.0 1205.6,376.0 1212.0,359.3 1218.4,316.0 1224.8,243.2 1229.6,237.6 1232.0,240.0 1236.0,266.4 1240.8,297.6 1244.8,294.4 1250.4,303.2 1254.0,318.0 1260.0,348.0 1264.0,366.0 1269.6,380.0 1279.2,388.9 1295.3,392.0 1320.0,393.8 1368.0,394.5" fill="none" stroke="#111" stroke-width="2.6" stroke-linejoin="round" />
<polyline points="1369.3,327.5 1370.5,305.3 1371.8,322.3 1373.0,317.6 1374.3,334.4 1375.5,317.1 1376.8,333.1 1378.0,291.7 1379.3,346.1 1380.5,308.9 1381.8,332.9 1383.0,276.0 1384.3,319.1 1385.5,332.6 1386.8,330.7 1388.0,314.0 1389.3,323.1 1390.5,334.1 1391.8,306.4 1393.0,310.4 1394.3,341.5 1395.5,311.7 1396.8,303.6 1398.0,328.7 1399.3,252.0 1400.5,312.0 1401.8,313.9 1403.0,337.1 1404.3,336.4 1405.5,314.3 1406.8,316.6 1408.0,336.1 1409.3,331.5 1410.5,315.1 1411.8,334.9 1413.0,334.8 1414.3,314.0 1415.5,316.0 1416.8,336.7 1418.0,326.0 1419.3,338.4 1420.5,299.4 1421.8,327.2 1423.0,319.8 1424.3,309.2 1425.5,341.7 1426.8,332.1 1428.0,311.8 1429.3,350.8 1430.5,326.1 1431.8,328.1 1433.0,326.7 1434.3,336.1 1435.5,300.8 1436.8,345.6 1438.0,329.8 1439.3,297.9 1440.5,345.8 1441.8,320.6 1443.0,339.5 1444.3,314.7 1445.5,330.3 1446.8,331.8 1448.0,312.5 1449.3,342.3 1450.5,320.9 1451.8,334.8 1453.0,316.3 1454.3,346.3 1455.5,326.8 1456.8,320.2 1458.0,337.5 1459.3,339.4 1460.5,341.6 1461.8,301.3 1463.0,352.4 1464.3,326.9 1465.5,322.7 1466.8,315.0 1468.0,353.0 1469.3,300.7 1470.5,345.8 1471.8,340.9 1473.0,295.9 1474.3,317.1 1475.5,312.8 1476.8,342.0 1478.0,346.6 1479.3,343.2 1480.5,287.8 1481.8,344.3 1483.0,342.4 1484.3,343.9 1485.5,321.2 1486.8,314.8 1488.0,338.4 1489.3,325.7 1490.5,325.8 1491.8,320.1 1493.0,307.6 1494.3,329.4 1495.5,324.7 1496.8,326.2 1498.0,312.9 1499.3,332.3 1500.5,348.7 1501.8,316.2 1503.0,310.6 1504.3,358.2 1505.5,324.9 1506.8,352.7 1508.0,312.3 1509.3,321.8 1510.5,312.8 1511.8,358.2 1513.0,352.5 1514.3,296.7 1515.5,309.3 1516.8,315.9 1518.0,312.5 1519.3,331.7 1520.5,326.1 1521.8,334.0 1523.0,341.8 1524.3,320.0 1525.5,340.8 1526.8,315.5 1528.0,336.4 1529.3,297.1 1530.5,326.3 1531.8,351.1 1533.0,314.1 1534.3,308.2 1535.5,331.2 1536.8,350.5 1538.0,328.8 1539.3,335.7 1540.5,318.8 1541.8,320.0 1543.0,324.3 1544.3,337.9 1545.5,317.2 1546.8,330.2 1548.0,331.7 1549.3,332.6 1550.5,321.8 1551.8,305.2 1553.0,316.2 1554.3,332.0 1555.5,341.2 1556.8,327.4 1558.0,281.0 1559.3,323.8 1560.5,361.4 1561.8,322.3 1563.0,347.0 1564.3,342.3 1565.5,300.0 1566.8,340.2 1568.0,331.4 1569.3,332.2 1570.5,331.1 1571.8,326.6 1573.0,329.0 1574.3,306.6 1575.5,338.2 1576.8,319.5 1578.0,336.0 1579.3,320.9 1580.5,340.4 1581.8,334.3 1583.0,325.8 1584.3,330.0 1585.5,326.9 1586.8,321.4 1588.0,329.6 1589.3,322.9 1590.5,337.5 1591.8,325.3 1593.0,335.9 1594.3,305.6 1595.5,351.0 1596.8,310.7 1598.0,324.5 1599.3,331.5 1600.5,322.2 1601.8,321.5 1603.0,318.1 1604.3,318.4 1605.5,325.5 1606.8,352.8 1608.0,333.8 1609.3,312.1 1610.5,337.8 1611.8,307.2 1613.0,380.0 1614.3,293.2 1615.5,347.1 1616.8,331.8 1618.0,304.4 1619.3,344.1 1620.5,339.4 1621.8,291.0 1623.0,296.7 1624.3,339.1 1625.5,322.9 1626.8,331.7 1628.0,324.0 1629.3,338.1 1630.5,310.7 1631.8,346.9 1633.0,315.3 1634.3,318.0 1635.5,342.4 1636.8,348.6 1638.0,328.0 1639.3,314.0 1640.5,342.4 1641.8,317.0 1643.0,304.1 1644.3,331.1 1645.5,296.9 1646.8,350.3 1648.0,313.5 1649.3,327.9 1650.5,314.8 1651.8,320.6 1653.0,328.7 1654.3,348.0 1655.5,345.0 1656.8,315.4 1658.0,344.3 1659.3,317.0 1660.5,305.7 1661.8,347.0 1663.0,334.3 1664.3,320.2 1665.5,337.2 1666.8,335.0 1668.0,313.4 1669.3,316.9 1670.5,338.8 1671.8,328.9 1673.0,326.9 1674.3,346.2 1675.5,345.4 1676.8,310.6 1678.0,343.0 1679.3,337.3 1680.5,332.4 1681.8,318.1 1683.0,316.7 1684.3,343.7 1685.5,352.0 1686.8,325.1 1688.0,315.9 1689.3,344.1 1690.5,343.0 1691.8,325.7 1693.0,320.5 1694.3,356.5 1695.5,301.8 1696.8,348.2 1698.0,327.1 1699.3,315.5 1700.5,372.8 1701.8,344.3 1703.0,313.1 1704.3,349.4 1705.5,321.2 1706.8,309.8 1708.0,338.1 1709.3,341.2 1710.5,338.6 1711.8,329.4 1713.0,304.5 1714.3,338.4 1715.5,325.9 1716.8,350.2 1718.0,325.2 1719.3,335.6 1720.5,337.8 1721.8,314.3 1723.0,332.1 1724.3,359.6 1725.5,325.4 1726.8,326.8 1728.0,340.3 1729.3,324.3 1730.5,341.3 1731.8,322.5 1733.0,342.9 1734.3,310.4 1735.5,364.8 1736.8,316.4 1738.0,317.0 1739.3,344.1 1740.5,287.0 1741.8,339.5 1743.0,317.9 1744.3,349.3 1745.5,380.5 1746.8,288.2 1748.0,349.9 1749.3,328.1 1750.5,340.3 1751.8,309.2 1753.0,334.5 1754.3,350.9 1755.5,331.3 1756.8,358.0 1758.0,312.9 1759.3,343.9 1760.5,373.8 1761.8,302.0 1763.0,329.2 1764.3,336.7 1765.5,308.0 1766.8,257.8 1768.0,174.8 1769.3,135.5 1769.3,135.5 1770.5,175.0 1771.8,248.4 1773.0,300.6 1774.3,338.1 1775.5,325.4 1776.8,352.5 1778.0,329.8 1779.3,364.7 1780.5,334.2 1781.8,341.9 1783.0,332.8 1784.3,335.5 1785.5,342.6 1786.8,352.5 1788.0,334.6 1789.3,328.8 1790.5,358.1 1791.8,330.3 1793.0,335.6 1794.3,328.2 1795.5,337.1 1796.8,334.4 1798.0,305.9 1799.3,374.9 1800.5,338.0 1801.8,331.2 1803.0,354.6 1804.3,336.3 1805.5,340.4 1806.8,302.6 1808.0,355.9 1809.3,348.2 1810.5,356.6" fill="none" stroke="#e01818" stroke-width="2.3" stroke-linejoin="round" />
<polyline points="1369.4,323.6 1370.6,325.9 1371.9,338.2 1373.1,292.9 1374.4,323.7 1375.6,309.7 1376.9,331.8 1378.1,337.0 1379.4,314.4 1380.6,329.7 1381.9,293.2 1383.1,340.5 1384.4,309.7 1385.6,354.6 1386.9,320.9 1388.1,329.1 1389.4,315.1 1390.6,332.4 1391.9,327.6 1393.1,313.8 1394.4,320.0 1395.6,299.1 1396.9,316.8 1398.1,321.0 1399.4,325.2 1400.6,316.8 1401.9,340.7 1403.1,296.7 1404.4,348.6 1405.6,309.6 1406.9,322.5 1408.1,311.0 1409.4,333.9 1410.6,322.8 1411.9,329.7 1413.1,316.4 1414.4,330.8 1415.6,349.1 1416.9,316.2 1418.1,314.4 1419.4,355.9 1420.6,292.0 1421.9,334.8 1423.1,329.3 1424.4,315.6 1425.6,303.1 1426.9,337.0 1428.1,336.3 1429.4,316.6 1430.6,335.2 1431.9,336.0 1433.1,311.1 1434.4,347.5 1435.6,338.4 1436.9,283.0 1438.1,333.6 1439.4,332.1 1440.6,348.3 1441.9,311.1 1443.1,325.4 1444.4,316.7 1445.6,309.8 1446.9,313.4 1448.1,327.8 1449.4,339.3 1450.6,330.6 1451.9,302.7 1453.1,314.3 1454.4,338.4 1455.6,327.4 1456.9,298.2 1458.1,337.0 1459.4,338.7 1460.6,320.8 1461.9,334.1 1463.1,307.9 1464.4,320.7 1465.6,340.5 1466.9,334.9 1468.1,332.3 1469.4,330.0 1470.6,333.7 1471.9,332.5 1473.1,297.8 1474.4,332.3 1475.6,340.2 1476.9,332.5 1478.1,302.9 1479.4,356.2 1480.6,312.8 1481.9,328.6 1483.1,333.8 1484.4,336.2 1485.6,302.9 1486.9,353.3 1488.1,321.4 1489.4,317.3 1490.6,350.1 1491.9,301.1 1493.1,337.4 1494.4,336.1 1495.6,317.4 1496.9,329.8 1498.1,329.1 1499.4,330.3 1500.6,341.9 1501.9,319.9 1503.1,325.2 1504.4,305.3 1505.6,329.5 1506.9,307.1 1508.1,338.3 1509.4,303.1 1510.6,359.5 1511.9,326.6 1513.1,341.2 1514.4,317.0 1515.6,315.0 1516.9,349.0 1518.1,331.6 1519.4,310.8 1520.6,315.7 1521.9,346.6 1523.1,322.6 1524.4,365.2 1525.6,299.1 1526.9,326.4 1528.1,331.4 1529.4,307.0 1530.6,298.2 1531.9,358.0 1533.1,313.5 1534.4,321.4 1535.6,316.3 1536.9,346.7 1538.1,332.7 1539.4,326.7 1540.6,321.2 1541.9,335.8 1543.1,331.2 1544.4,316.2 1545.6,342.4 1546.9,294.9 1548.1,328.2 1549.4,304.7 1550.6,329.4 1551.9,313.6 1553.1,342.3 1554.4,340.0 1555.6,326.0 1556.9,327.8 1558.1,337.8 1559.4,327.1 1560.6,309.7 1561.9,334.9 1563.1,357.1 1564.4,302.5 1565.6,338.4 1566.9,322.6 1568.1,319.3 1569.4,321.9 1570.6,337.9 1571.9,331.7 1573.1,310.7 1574.4,306.3 1575.6,336.1 1576.9,305.5 1578.1,338.2 1579.4,329.7 1580.6,334.0 1581.9,336.3 1583.1,341.0 1584.4,310.5 1585.6,335.6 1586.9,318.1 1588.1,286.9 1589.4,324.8 1590.6,370.0 1591.9,296.2 1593.1,307.0 1594.4,338.5 1595.6,353.5 1596.9,315.3 1598.1,334.1 1599.4,321.3 1600.6,329.3 1601.9,346.0 1603.1,328.7 1604.4,320.6 1605.6,341.0 1606.9,335.5 1608.1,316.6 1609.4,333.7 1610.6,329.5 1611.9,317.2 1613.1,349.2 1614.4,316.7 1615.6,296.3 1616.9,310.7 1618.1,324.8 1619.4,359.2 1620.6,300.6 1621.9,343.4 1623.1,320.0 1624.4,338.3 1625.6,332.4 1626.9,289.0 1628.1,330.8 1629.4,344.9 1630.6,329.3 1631.9,301.9 1633.1,293.2 1634.4,353.4 1635.6,341.3 1636.9,325.3 1638.1,314.3 1639.4,340.1 1640.6,326.4 1641.9,334.5 1643.1,350.0 1644.4,279.3 1645.6,303.5 1646.9,317.1 1648.1,332.3 1649.4,332.2 1650.6,342.8 1651.9,320.2 1653.1,319.0 1654.4,359.9 1655.6,295.7 1656.9,351.7 1658.1,336.1 1659.4,328.9 1660.6,321.2 1661.9,329.8 1663.1,325.9 1664.4,343.0 1665.6,291.8 1666.9,341.6 1668.1,335.9 1669.4,320.7 1670.6,310.0 1671.9,350.3 1673.1,321.7 1674.4,347.0 1675.6,342.5 1676.9,304.4 1678.1,303.6 1679.4,343.3 1680.6,319.5 1681.9,347.1 1683.1,347.8 1684.4,293.0 1685.6,355.5 1686.9,334.7 1688.1,327.9 1689.4,313.6 1690.6,340.7 1691.9,311.2 1693.1,357.5 1694.4,325.0 1695.6,349.5 1696.9,324.8 1698.1,303.6 1699.4,356.7 1700.6,339.7 1701.9,347.3 1703.1,305.9 1704.4,328.0 1705.6,341.0 1706.9,318.0 1708.1,322.8 1709.4,329.2 1710.6,376.8 1711.9,268.8 1713.1,324.4 1714.4,335.2 1715.6,336.8 1716.9,350.6 1718.1,335.6 1719.4,336.4 1720.6,327.7 1721.9,321.7 1723.1,323.7 1724.4,318.6 1725.6,373.5 1726.9,311.2 1728.1,318.6 1729.4,321.6 1730.6,335.5 1731.9,332.9 1733.1,332.1 1734.4,344.5 1735.6,340.3 1736.9,342.7 1738.1,334.6 1739.4,344.6 1740.6,330.6 1741.9,332.5 1743.1,308.5 1744.4,343.8 1745.6,368.6 1746.9,324.4 1748.1,345.2 1749.4,326.2 1750.6,328.2 1751.9,343.7 1753.1,324.0 1754.4,353.2 1755.6,331.0 1756.9,327.8 1758.1,308.2 1759.4,355.7 1760.6,314.4 1761.9,319.1 1763.1,341.0 1764.4,331.9 1765.6,319.3 1766.9,277.0 1768.1,229.0 1769.3,205.5 1769.4,205.6 1770.6,233.0 1771.9,288.3 1773.1,312.2 1774.4,340.8 1775.6,321.1 1776.9,354.1 1778.1,346.5 1779.4,316.7 1780.6,355.2 1781.9,341.9 1783.1,321.8 1784.4,336.3 1785.6,343.6 1786.9,306.8 1788.1,349.9 1789.4,344.1 1790.6,330.5 1791.9,320.2 1793.1,345.9 1794.4,361.9 1795.6,344.0 1796.9,313.4 1798.1,328.6 1799.4,344.9 1800.6,339.0 1801.9,329.4 1803.1,339.8 1804.4,350.0 1805.6,357.7 1806.9,298.5 1808.1,372.1 1809.4,333.1 1810.6,353.7" fill="none" stroke="#111" stroke-width="2.3" stroke-linejoin="round" />
<line x1="40.3" y1="41.8" x2="1811.6" y2="41.8" stroke="#999999" stroke-width="2.3"/>
<line x1="40.3" y1="395.8" x2="1811.6" y2="395.8" stroke="#999999" stroke-width="2.3"/>
<line x1="40.3" y1="41.0" x2="40.3" y2="396.8" stroke="#999999" stroke-width="2"/>
<line x1="925.6" y1="42.0" x2="925.6" y2="395.8" stroke="#7c7c7c" stroke-width="2.3"/>
<line x1="1368.6" y1="42.0" x2="1368.6" y2="395.8" stroke="#7c7c7c" stroke-width="2.3"/>
<line x1="1811.6" y1="41.0" x2="1811.6" y2="396.8" stroke="#999999" stroke-width="2"/>
<line x1="145.3" y1="43.0" x2="145.3" y2="48.0" stroke="#999999" stroke-width="1.3"/>
<line x1="145.3" y1="394.8" x2="145.3" y2="389.8" stroke="#999999" stroke-width="1.3"/>
<line x1="275.3" y1="43.0" x2="275.3" y2="48.0" stroke="#999999" stroke-width="1.3"/>
<line x1="275.3" y1="394.8" x2="275.3" y2="389.8" stroke="#999999" stroke-width="1.3"/>
<line x1="405.3" y1="43.0" x2="405.3" y2="48.0" stroke="#999999" stroke-width="1.3"/>
<line x1="405.3" y1="394.8" x2="405.3" y2="389.8" stroke="#999999" stroke-width="1.3"/>
<line x1="535.3" y1="43.0" x2="535.3" y2="48.0" stroke="#999999" stroke-width="1.3"/>
<line x1="535.3" y1="394.8" x2="535.3" y2="389.8" stroke="#999999" stroke-width="1.3"/>
<line x1="665.3" y1="43.0" x2="665.3" y2="48.0" stroke="#999999" stroke-width="1.3"/>
<line x1="665.3" y1="394.8" x2="665.3" y2="389.8" stroke="#999999" stroke-width="1.3"/>
<line x1="795.3" y1="43.0" x2="795.3" y2="48.0" stroke="#999999" stroke-width="1.3"/>
<line x1="795.3" y1="394.8" x2="795.3" y2="389.8" stroke="#999999" stroke-width="1.3"/>
<line x1="978.7" y1="43.0" x2="978.7" y2="48.0" stroke="#999999" stroke-width="1.3"/>
<line x1="978.7" y1="394.8" x2="978.7" y2="389.8" stroke="#999999" stroke-width="1.3"/>
<line x1="1084.2" y1="43.0" x2="1084.2" y2="48.0" stroke="#999999" stroke-width="1.3"/>
<line x1="1084.2" y1="394.8" x2="1084.2" y2="389.8" stroke="#999999" stroke-width="1.3"/>
<line x1="1156.0" y1="43.0" x2="1156.0" y2="48.0" stroke="#999999" stroke-width="1.3"/>
<line x1="1156.0" y1="394.8" x2="1156.0" y2="389.8" stroke="#999999" stroke-width="1.3"/>
<line x1="1252.6" y1="43.0" x2="1252.6" y2="48.0" stroke="#999999" stroke-width="1.3"/>
<line x1="1252.6" y1="394.8" x2="1252.6" y2="389.8" stroke="#999999" stroke-width="1.3"/>
<line x1="1349.3" y1="43.0" x2="1349.3" y2="48.0" stroke="#999999" stroke-width="1.3"/>
<line x1="1349.3" y1="394.8" x2="1349.3" y2="389.8" stroke="#999999" stroke-width="1.3"/>
<line x1="1424.7" y1="43.0" x2="1424.7" y2="47.5" stroke="#999999" stroke-width="1.3"/>
<line x1="1424.7" y1="394.8" x2="1424.7" y2="390.3" stroke="#999999" stroke-width="1.3"/>
<line x1="1484.2" y1="43.0" x2="1484.2" y2="50.0" stroke="#999999" stroke-width="1.3"/>
<line x1="1484.2" y1="394.8" x2="1484.2" y2="387.8" stroke="#999999" stroke-width="1.3"/>
<line x1="1543.7" y1="43.0" x2="1543.7" y2="47.5" stroke="#999999" stroke-width="1.3"/>
<line x1="1543.7" y1="394.8" x2="1543.7" y2="390.3" stroke="#999999" stroke-width="1.3"/>
<line x1="1603.2" y1="43.0" x2="1603.2" y2="50.0" stroke="#999999" stroke-width="1.3"/>
<line x1="1603.2" y1="394.8" x2="1603.2" y2="387.8" stroke="#999999" stroke-width="1.3"/>
<line x1="1662.7" y1="43.0" x2="1662.7" y2="47.5" stroke="#999999" stroke-width="1.3"/>
<line x1="1662.7" y1="394.8" x2="1662.7" y2="390.3" stroke="#999999" stroke-width="1.3"/>
<line x1="1722.2" y1="43.0" x2="1722.2" y2="50.0" stroke="#999999" stroke-width="1.3"/>
<line x1="1722.2" y1="394.8" x2="1722.2" y2="387.8" stroke="#999999" stroke-width="1.3"/>
<line x1="1781.7" y1="43.0" x2="1781.7" y2="47.5" stroke="#999999" stroke-width="1.3"/>
<line x1="1781.7" y1="394.8" x2="1781.7" y2="390.3" stroke="#999999" stroke-width="1.3"/>
<rect x="1142" y="40" width="10" height="4" fill="#fff"/>
<line x1="1142.0" y1="33.0" x2="1146.0" y2="51.0" stroke="#777" stroke-width="1.3"/>
<line x1="1148.0" y1="33.0" x2="1152.0" y2="51.0" stroke="#777" stroke-width="1.3"/>
<rect x="1142" y="393.5" width="10" height="4" fill="#fff"/>
<line x1="1142.0" y1="386.5" x2="1146.0" y2="404.5" stroke="#777" stroke-width="1.3"/>
<line x1="1148.0" y1="386.5" x2="1152.0" y2="404.5" stroke="#777" stroke-width="1.3"/>
<text x="144.7" y="426.3" font-size="24.59" font-weight="bold" text-anchor="middle" textLength="28.5" lengthAdjust="spacingAndGlyphs" >40</text>
<text x="273.5" y="428.9" font-size="27.14" font-weight="bold" text-anchor="middle" textLength="30.0" lengthAdjust="spacingAndGlyphs" >45</text>
<text x="404.5" y="426.3" font-size="24.59" font-weight="bold" text-anchor="middle" textLength="27.6" lengthAdjust="spacingAndGlyphs" >50</text>
<text x="534.0" y="428.9" font-size="27.14" font-weight="bold" text-anchor="middle" textLength="30.0" lengthAdjust="spacingAndGlyphs" >55</text>
<text x="664.9" y="426.3" font-size="24.59" font-weight="bold" text-anchor="middle" textLength="29.1" lengthAdjust="spacingAndGlyphs" >60</text>
<text x="794.6" y="428.9" font-size="28.56" font-weight="bold" text-anchor="middle" textLength="29.5" lengthAdjust="spacingAndGlyphs" >65</text>
<text x="977.6" y="428.9" font-size="28.56" font-weight="bold" text-anchor="middle" textLength="51.5" lengthAdjust="spacingAndGlyphs" >18.5</text>
<text x="1084.7" y="426.3" font-size="24.59" font-weight="bold" text-anchor="middle" textLength="28.6" lengthAdjust="spacingAndGlyphs" >19</text>
<text x="1167.8" y="426.3" font-size="24.59" font-weight="bold" text-anchor="middle" textLength="25.5" lengthAdjust="spacingAndGlyphs" >44</text>
<text x="1252.4" y="428.9" font-size="28.56" font-weight="bold" text-anchor="middle" textLength="52.5" lengthAdjust="spacingAndGlyphs" >44.5</text>
<text x="1348.4" y="426.3" font-size="24.59" font-weight="bold" text-anchor="middle" textLength="26.9" lengthAdjust="spacingAndGlyphs" >45</text>
<text x="1482.9" y="425.6" font-size="26.56" font-weight="bold" text-anchor="middle" textLength="26.5" lengthAdjust="spacingAndGlyphs" >24</text>
<text x="1602.4" y="425.6" font-size="26.56" font-weight="bold" text-anchor="middle" textLength="28.0" lengthAdjust="spacingAndGlyphs" >28</text>
<text x="1721.8" y="425.6" font-size="26.56" font-weight="bold" text-anchor="middle" textLength="27.5" lengthAdjust="spacingAndGlyphs" >32</text>
<text x="880.5" y="460.3" font-size="26.59" font-weight="bold" text-anchor="middle" textLength="324.6" lengthAdjust="spacingAndGlyphs" >Scattering Angle (deg.)</text>
<text x="28.3" y="218.5" font-size="29.51" font-weight="bold" text-anchor="middle" textLength="250.2" lengthAdjust="spacingAndGlyphs" transform="rotate(-90 28.3 218.5)" >Intensity (Counts)</text>
<text x="70.6" y="154.0" font-size="31.58" text-anchor="middle" textLength="77.0" lengthAdjust="spacingAndGlyphs" transform="rotate(-90 70.6 154.0)" >(101)</text>
<text x="110.9" y="244.0" font-size="31.20" text-anchor="middle" textLength="159.0" lengthAdjust="spacingAndGlyphs" transform="rotate(-90 110.9 244.0)" >(006)/(012)</text>
<text x="243.1" y="92.0" font-size="31.58" text-anchor="middle" textLength="76.0" lengthAdjust="spacingAndGlyphs" transform="rotate(-90 243.1 92.0)" >(104)</text>
<text x="381.3" y="300.7" font-size="32.00" text-anchor="middle" textLength="74.5" lengthAdjust="spacingAndGlyphs" transform="rotate(-90 381.3 300.7)" >(015)</text>
<text x="641.1" y="303.0" font-size="31.58" text-anchor="middle" textLength="75.0" lengthAdjust="spacingAndGlyphs" transform="rotate(-90 641.1 303.0)" >(107)</text>
<text x="776.2" y="285.0" font-size="31.80" text-anchor="middle" textLength="77.1" lengthAdjust="spacingAndGlyphs" transform="rotate(-90 776.2 285.0)" >(018)</text>
<text x="813.4" y="286.2" font-size="31.20" text-anchor="middle" textLength="72.5" lengthAdjust="spacingAndGlyphs" transform="rotate(-90 813.4 286.2)" >(110)</text>
<text x="885.7" y="313.5" font-size="30.77" text-anchor="middle" textLength="74.1" lengthAdjust="spacingAndGlyphs" transform="rotate(-90 885.7 313.5)" >(113)</text>
<text x="143.5" y="107.2" font-size="57.42" text-anchor="middle" textLength="98.9" lengthAdjust="spacingAndGlyphs" >(a1)</text>
<text x="1308.5" y="105.9" font-size="58.32" text-anchor="middle" textLength="99.4" lengthAdjust="spacingAndGlyphs" >(a2)</text>
<text x="1425.8" y="107.9" font-size="58.28" text-anchor="middle" textLength="99.0" lengthAdjust="spacingAndGlyphs" >(a3)</text>
<text x="469.5" y="80.3" font-size="40.13" font-weight="bold" text-anchor="middle" textLength="283.2" lengthAdjust="spacingAndGlyphs" >825°C 12h then</text>
<text x="475.5" y="123.8" font-size="38.78" font-weight="bold" text-anchor="middle" textLength="166.4" lengthAdjust="spacingAndGlyphs" >750°C 5h</text>
<line x1="734.4" y1="74.5" x2="802.5" y2="74.5" stroke="#222" stroke-width="2.2"/>
<line x1="734.4" y1="120.0" x2="802.5" y2="120.0" stroke="#d03030" stroke-width="2.2"/>
<text x="862.5" y="86.9" font-size="35.44" font-weight="bold" text-anchor="middle" textLength="104.7" lengthAdjust="spacingAndGlyphs" >Li1.10</text>
<text x="862.5" y="132.5" font-size="35.15" font-weight="bold" text-anchor="middle" textLength="104.7" lengthAdjust="spacingAndGlyphs" >Li1.20</text>
<text x="1142.8" y="25.9" font-size="29.57" text-anchor="middle" textLength="374.8" lengthAdjust="spacingAndGlyphs" >(003) and (104) reflections</text>
<text x="1590.0" y="26.3" font-size="27.92" text-anchor="middle" textLength="212.9" lengthAdjust="spacingAndGlyphs" >Impurity region</text>
<text x="1550.0" y="115.9" font-size="48.70" text-anchor="middle" >*</text>
<text x="1596.3" y="97.2" font-size="35.06" text-anchor="middle" textLength="66.6" lengthAdjust="spacingAndGlyphs" >Li<tspan font-size="0.66em" dy="8">2</tspan><tspan dy="-8">O</tspan></text>
<text x="1769.5" y="143.5" font-size="54.67" font-weight="bold" text-anchor="middle" >*</text>
<line x1="114.7" y1="469.7" x2="482.0" y2="469.7" stroke="#8c8c8c" stroke-width="2"/>
<line x1="114.7" y1="468.7" x2="114.7" y2="1059.8" stroke="#8c8c8c" stroke-width="2"/>
<line x1="114.7" y1="763.7" x2="482.0" y2="763.7" stroke="#8c8c8c" stroke-width="2"/>
<line x1="114.7" y1="1058.8" x2="482.0" y2="1058.8" stroke="#8c8c8c" stroke-width="2"/>
<line x1="115.0" y1="512.7" x2="123.0" y2="512.7" stroke="#8c8c8c" stroke-width="1.4"/>
<line x1="481.0" y1="512.7" x2="473.0" y2="512.7" stroke="#8c8c8c" stroke-width="1.4"/>
<line x1="115.0" y1="599.2" x2="123.0" y2="599.2" stroke="#8c8c8c" stroke-width="1.4"/>
<line x1="481.0" y1="599.2" x2="473.0" y2="599.2" stroke="#8c8c8c" stroke-width="1.4"/>
<line x1="115.0" y1="686.0" x2="123.0" y2="686.0" stroke="#8c8c8c" stroke-width="1.4"/>
<line x1="481.0" y1="686.0" x2="473.0" y2="686.0" stroke="#8c8c8c" stroke-width="1.4"/>
<line x1="115.0" y1="556.0" x2="119.5" y2="556.0" stroke="#8c8c8c" stroke-width="1.4"/>
<line x1="481.0" y1="556.0" x2="476.5" y2="556.0" stroke="#8c8c8c" stroke-width="1.4"/>
<line x1="115.0" y1="642.7" x2="119.5" y2="642.7" stroke="#8c8c8c" stroke-width="1.4"/>
<line x1="481.0" y1="642.7" x2="476.5" y2="642.7" stroke="#8c8c8c" stroke-width="1.4"/>
<line x1="115.0" y1="729.4" x2="119.5" y2="729.4" stroke="#8c8c8c" stroke-width="1.4"/>
<line x1="481.0" y1="729.4" x2="476.5" y2="729.4" stroke="#8c8c8c" stroke-width="1.4"/>
<line x1="115.0" y1="808.0" x2="123.0" y2="808.0" stroke="#8c8c8c" stroke-width="1.4"/>
<line x1="481.0" y1="808.0" x2="473.0" y2="808.0" stroke="#8c8c8c" stroke-width="1.4"/>
<line x1="115.0" y1="867.1" x2="123.0" y2="867.1" stroke="#8c8c8c" stroke-width="1.4"/>
<line x1="481.0" y1="867.1" x2="473.0" y2="867.1" stroke="#8c8c8c" stroke-width="1.4"/>
<line x1="115.0" y1="926.4" x2="123.0" y2="926.4" stroke="#8c8c8c" stroke-width="1.4"/>
<line x1="481.0" y1="926.4" x2="473.0" y2="926.4" stroke="#8c8c8c" stroke-width="1.4"/>
<line x1="115.0" y1="985.0" x2="123.0" y2="985.0" stroke="#8c8c8c" stroke-width="1.4"/>
<line x1="481.0" y1="985.0" x2="473.0" y2="985.0" stroke="#8c8c8c" stroke-width="1.4"/>
<line x1="115.0" y1="1044.0" x2="123.0" y2="1044.0" stroke="#8c8c8c" stroke-width="1.4"/>
<line x1="481.0" y1="1044.0" x2="473.0" y2="1044.0" stroke="#8c8c8c" stroke-width="1.4"/>
<line x1="115.0" y1="778.3" x2="119.5" y2="778.3" stroke="#8c8c8c" stroke-width="1.4"/>
<line x1="481.0" y1="778.3" x2="476.5" y2="778.3" stroke="#8c8c8c" stroke-width="1.4"/>
<line x1="115.0" y1="837.4" x2="119.5" y2="837.4" stroke="#8c8c8c" stroke-width="1.4"/>
<line x1="481.0" y1="837.4" x2="476.5" y2="837.4" stroke="#8c8c8c" stroke-width="1.4"/>
<line x1="115.0" y1="896.5" x2="119.5" y2="896.5" stroke="#8c8c8c" stroke-width="1.4"/>
<line x1="481.0" y1="896.5" x2="476.5" y2="896.5" stroke="#8c8c8c" stroke-width="1.4"/>
<line x1="115.0" y1="955.6" x2="119.5" y2="955.6" stroke="#8c8c8c" stroke-width="1.4"/>
<line x1="481.0" y1="955.6" x2="476.5" y2="955.6" stroke="#8c8c8c" stroke-width="1.4"/>
<line x1="115.0" y1="1014.5" x2="119.5" y2="1014.5" stroke="#8c8c8c" stroke-width="1.4"/>
<line x1="481.0" y1="1014.5" x2="476.5" y2="1014.5" stroke="#8c8c8c" stroke-width="1.4"/>
<line x1="206.0" y1="470.5" x2="206.0" y2="478.5" stroke="#8c8c8c" stroke-width="1.4"/>
<line x1="206.0" y1="756.6" x2="206.0" y2="770.8" stroke="#8c8c8c" stroke-width="1.4"/>
<line x1="206.0" y1="1058.0" x2="206.0" y2="1050.0" stroke="#8c8c8c" stroke-width="1.4"/>
<line x1="389.2" y1="470.5" x2="389.2" y2="478.5" stroke="#8c8c8c" stroke-width="1.4"/>
<line x1="389.2" y1="756.6" x2="389.2" y2="770.8" stroke="#8c8c8c" stroke-width="1.4"/>
<line x1="389.2" y1="1058.0" x2="389.2" y2="1050.0" stroke="#8c8c8c" stroke-width="1.4"/>
<line x1="297.8" y1="470.5" x2="297.8" y2="474.5" stroke="#8c8c8c" stroke-width="1.4"/>
<line x1="297.8" y1="763.0" x2="297.8" y2="759.0" stroke="#8c8c8c" stroke-width="1.4"/>
<line x1="297.8" y1="764.5" x2="297.8" y2="768.5" stroke="#8c8c8c" stroke-width="1.4"/>
<line x1="297.8" y1="1058.0" x2="297.8" y2="1054.0" stroke="#8c8c8c" stroke-width="1.4"/>
<text x="106.5" y="520.2" font-size="21.38" font-weight="bold" text-anchor="end" textLength="68.5" lengthAdjust="spacingAndGlyphs" >101.86</text>
<text x="105.5" y="606.7" font-size="21.38" font-weight="bold" text-anchor="end" textLength="68.5" lengthAdjust="spacingAndGlyphs" >101.85</text>
<text x="105.1" y="693.3" font-size="22.56" font-weight="bold" text-anchor="end" textLength="69.0" lengthAdjust="spacingAndGlyphs" >101.84</text>
<text x="105.5" y="815.6" font-size="20.25" font-weight="bold" text-anchor="end" textLength="42.5" lengthAdjust="spacingAndGlyphs" >1.92</text>
<text x="105.5" y="874.2" font-size="18.53" font-weight="bold" text-anchor="end" textLength="42.5" lengthAdjust="spacingAndGlyphs" >1.88</text>
<text x="105.5" y="934.2" font-size="18.53" font-weight="bold" text-anchor="end" textLength="42.5" lengthAdjust="spacingAndGlyphs" >1.84</text>
<text x="105.6" y="993.0" font-size="21.96" font-weight="bold" text-anchor="end" textLength="30.5" lengthAdjust="spacingAndGlyphs" >1.8</text>
<text x="105.5" y="1051.8" font-size="22.56" font-weight="bold" text-anchor="end" textLength="42.5" lengthAdjust="spacingAndGlyphs" >1.76</text>
<text x="204.9" y="1084.4" font-size="19.35" font-weight="bold" text-anchor="middle" textLength="27.2" lengthAdjust="spacingAndGlyphs" >1.1</text>
<text x="389.8" y="1084.4" font-size="19.35" font-weight="bold" text-anchor="middle" textLength="28.9" lengthAdjust="spacingAndGlyphs" >1.2</text>
<text x="297.5" y="1111.2" font-size="23.16" font-weight="bold" text-anchor="middle" textLength="132.8" lengthAdjust="spacingAndGlyphs" >Li/TM Ratio</text>
<text x="28.7" y="615.8" font-size="26.55" font-weight="bold" text-anchor="middle" textLength="193.2" lengthAdjust="spacingAndGlyphs" transform="rotate(-90 28.7 615.8)" >Cell Volume (Å<tspan font-size="0.65em" dy="-10">3</tspan><tspan dy="10">)</tspan></text>
<text x="52.6" y="910.0" font-size="21.08" font-weight="bold" text-anchor="middle" textLength="189.4" lengthAdjust="spacingAndGlyphs" transform="rotate(-90 52.6 910.0)" >Ni in Li layer (%)</text>
<circle cx="205.9" cy="708.9" r="10.8" fill="#000"/>
<circle cx="389.6" cy="522.5" r="10.8" fill="#000"/>
<circle cx="205.5" cy="820.1" r="10.8" fill="#000"/>
<circle cx="389.6" cy="1010.1" r="10.8" fill="#000"/>
<text x="174.0" y="536.2" font-size="56.61" text-anchor="middle" textLength="99.6" lengthAdjust="spacingAndGlyphs" >(b1)</text>
<text x="173.0" y="1031.4" font-size="57.00" text-anchor="middle" textLength="100.7" lengthAdjust="spacingAndGlyphs" >(b2)</text>
<defs>
<filter id="soft" x="-5%" y="-5%" width="110%" height="110%"><feGaussianBlur stdDeviation="0.7"/></filter>
<filter id="blurmap" x="0" y="0" width="100%" height="100%"><feGaussianBlur stdDeviation="10"/></filter>
<filter id="semtex" x="0" y="0" width="100%" height="100%" color-interpolation-filters="sRGB">
  <feTurbulence type="fractalNoise" baseFrequency="0.07" numOctaves="3" seed="9" result="n"/>
  <feColorMatrix in="n" type="matrix" values="1 0 0 0 0  1 0 0 0 0  1 0 0 0 0  0 0 0 0 1" result="ng"/>
  <feComposite in="ng" in2="SourceGraphic" operator="arithmetic" k1="0" k2="0.28" k3="1" k4="-0.14" result="base"/>
  <feTurbulence type="turbulence" baseFrequency="0.03" numOctaves="2" seed="4" result="t"/>
  <feColorMatrix in="t" type="matrix" values="0 0 0 0 1  0 0 0 0 1  0 0 0 0 1  -5 0 0 0 0.9" result="ridge"/>
  <feComponentTransfer in="ridge" result="ridge2"><feFuncA type="linear" slope="0.12"/></feComponentTransfer>
  <feComposite in="ridge2" in2="base" operator="over"/>
</filter>
<clipPath id="c1"><rect x="481.5" y="469" width="433.7" height="302.5"/></clipPath>
<clipPath id="c2"><rect x="481.5" y="793" width="433.7" height="302.3"/></clipPath>
</defs>
<g clip-path="url(#c1)"><g filter="url(#semtex)"><g filter="url(#blurmap)">
<rect x="451.5" y="439.0" width="493.70000000000005" height="362.5" fill="rgb(100,100,100)"/>
<ellipse cx="547" cy="622" rx="34" ry="38" fill="rgb(158,158,158)"/>
<ellipse cx="651" cy="600" rx="58" ry="38" fill="rgb(140,140,140)"/>
<ellipse cx="558" cy="680" rx="42" ry="24" fill="rgb(145,145,145)"/>
<ellipse cx="714" cy="681" rx="45" ry="35" fill="rgb(150,150,150)"/>
<ellipse cx="831" cy="628" rx="47" ry="32" fill="rgb(150,150,150)"/>
<ellipse cx="873" cy="704" rx="38" ry="48" fill="rgb(138,138,138)"/>
<ellipse cx="675" cy="723" rx="30" ry="24" fill="rgb(130,130,130)"/>
<ellipse cx="500" cy="640" rx="18" ry="40" fill="rgb(118,118,118)"/>
<ellipse cx="760" cy="530" rx="25" ry="35" fill="rgb(110,110,110)"/>
<ellipse cx="785" cy="500" rx="18" ry="30" fill="rgb(118,118,118)"/>
<ellipse cx="652" cy="646" rx="20" ry="14" fill="rgb(70,70,70)"/>
<ellipse cx="749" cy="608" rx="30" ry="36" fill="rgb(78,78,78)"/>
<ellipse cx="582" cy="740" rx="54" ry="32" fill="rgb(78,78,78)"/>
<ellipse cx="747" cy="744" rx="40" ry="28" fill="rgb(82,82,82)"/>
<ellipse cx="895" cy="626" rx="20" ry="30" fill="rgb(75,75,75)"/>
<ellipse cx="490" cy="580" rx="12" ry="20" fill="rgb(75,75,75)"/>
<ellipse cx="710" cy="500" rx="25" ry="40" fill="rgb(80,80,80)"/>
</g>
<g filter="url(#soft)">
<polygon points="844.8,634.8 849.7,627.2 862.1,626.6 870.5,630.8 871.6,642.1 866.0,651.3 858.8,656.8 852.8,655.3 846.3,647.1" fill="rgb(152,152,152)" fill-opacity="0.75" stroke="rgb(229,229,229)" stroke-opacity="0.75" stroke-width="1.4" stroke-linejoin="round"/>
<polygon points="830.6,648.5 837.8,654.1 841.3,664.3 836.3,668.0 828.0,672.6 820.0,668.7 818.1,666.9 815.1,657.8 821.7,651.9" fill="rgb(136,136,136)" fill-opacity="0.75" stroke="rgb(198,198,198)" stroke-opacity="0.63" stroke-width="1.4" stroke-linejoin="round"/>
<polygon points="689.9,535.2 697.8,539.9 699.4,547.0 692.5,551.9 682.7,551.4 680.3,541.6 682.5,537.7" fill="rgb(107,107,107)" fill-opacity="0.75" stroke="rgb(158,158,158)" stroke-opacity="0.45" stroke-width="1.4" stroke-linejoin="round"/>
<polygon points="759.4,467.9 761.5,458.5 770.9,458.5 773.7,457.8 777.4,463.8 778.0,473.0 769.9,475.6 765.4,475.9 758.1,470.6" fill="rgb(111,111,111)" fill-opacity="0.75" stroke="rgb(164,164,164)" stroke-opacity="0.48" stroke-width="1.4" stroke-linejoin="round"/>
<polygon points="665.9,500.0 667.2,507.5 662.6,512.2 653.1,517.3 647.7,509.9 646.7,507.1 648.4,496.7 655.8,494.4 660.6,494.2" fill="rgb(106,106,106)" fill-opacity="0.75" stroke="rgb(160,160,160)" stroke-opacity="0.46" stroke-width="1.4" stroke-linejoin="round"/>
<polygon points="898.2,684.0 898.9,680.4 902.3,675.2 912.5,675.8 915.3,678.5 914.0,687.0 906.9,692.5 900.8,690.7" fill="rgb(119,119,119)" fill-opacity="0.75" stroke="rgb(192,192,192)" stroke-opacity="0.61" stroke-width="1.4" stroke-linejoin="round"/>
<polygon points="586.8,479.1 588.4,473.5 591.9,465.5 600.3,460.8 605.5,464.3 609.2,469.5 611.6,477.8 601.4,487.5 593.3,483.8" fill="rgb(108,108,108)" fill-opacity="0.75" stroke="rgb(161,161,161)" stroke-opacity="0.46" stroke-width="1.4" stroke-linejoin="round"/>
<polygon points="743.4,680.7 745.9,687.4 746.3,691.7 741.8,701.9 732.5,702.4 723.6,694.7 720.8,686.7 727.5,676.4 732.1,676.1" fill="rgb(143,143,143)" fill-opacity="0.75" stroke="rgb(239,239,239)" stroke-opacity="0.75" stroke-width="1.4" stroke-linejoin="round"/>
<polygon points="591.8,493.2 586.3,499.7 574.9,496.5 569.7,485.5 575.5,477.2 584.6,475.5 595.1,484.4" fill="rgb(110,110,110)" fill-opacity="0.75" stroke="rgb(161,161,161)" stroke-opacity="0.46" stroke-width="1.4" stroke-linejoin="round"/>
<polygon points="516.3,488.3 508.3,485.0 503.7,479.8 501.4,470.0 508.7,459.5 520.1,459.4 530.0,463.7 531.7,475.1 527.4,483.9" fill="rgb(99,99,99)" fill-opacity="0.75" stroke="rgb(161,161,161)" stroke-opacity="0.46" stroke-width="1.4" stroke-linejoin="round"/>
<polygon points="588.3,607.6 589.0,597.0 596.1,594.9 604.4,595.4 607.2,599.3 607.3,608.8 597.3,615.2 590.0,611.5" fill="rgb(125,125,125)" fill-opacity="0.75" stroke="rgb(198,198,198)" stroke-opacity="0.63" stroke-width="1.4" stroke-linejoin="round"/>
<polygon points="551.7,700.3 549.8,694.4 554.8,686.2 566.8,686.2 570.1,688.2 577.4,694.2 577.1,702.2 564.8,709.9 558.4,709.6" fill="rgb(124,124,124)" fill-opacity="0.75" stroke="rgb(209,209,209)" stroke-opacity="0.68" stroke-width="1.4" stroke-linejoin="round"/>
<polygon points="894.6,768.9 886.6,771.5 879.8,771.2 877.8,765.4 879.4,758.6 881.5,756.2 888.0,753.4 892.1,758.0 895.2,764.4" fill="rgb(102,102,102)" fill-opacity="0.75" stroke="rgb(165,165,165)" stroke-opacity="0.48" stroke-width="1.4" stroke-linejoin="round"/>
<polygon points="915.9,541.1 912.3,532.9 917.9,520.5 925.1,521.2 933.2,527.5 934.4,536.3 930.0,541.7 919.0,545.1" fill="rgb(111,111,111)" fill-opacity="0.75" stroke="rgb(161,161,161)" stroke-opacity="0.46" stroke-width="1.4" stroke-linejoin="round"/>
<polygon points="501.4,747.7 491.4,745.4 486.4,734.8 488.1,728.1 497.2,720.6 508.2,725.4 513.2,733.0 512.2,745.2" fill="rgb(94,94,94)" fill-opacity="0.75" stroke="rgb(160,160,160)" stroke-opacity="0.46" stroke-width="1.4" stroke-linejoin="round"/>
<polygon points="670.2,682.3 657.7,688.6 652.3,684.1 647.6,679.5 649.3,670.3 655.2,663.0 661.3,665.3 666.7,669.4 671.4,673.2" fill="rgb(104,104,104)" fill-opacity="0.75" stroke="rgb(167,167,167)" stroke-opacity="0.49" stroke-width="1.4" stroke-linejoin="round"/>
<polygon points="496.3,555.2 496.7,546.6 501.8,541.8 504.5,540.6 511.0,540.9 515.8,550.6 513.2,556.9 505.7,558.8 502.6,559.1" fill="rgb(96,96,96)" fill-opacity="0.75" stroke="rgb(159,159,159)" stroke-opacity="0.46" stroke-width="1.4" stroke-linejoin="round"/>
<polygon points="793.2,686.1 799.7,697.5 793.4,703.7 787.9,707.1 779.6,701.2 781.1,690.9 787.3,687.8" fill="rgb(101,101,101)" fill-opacity="0.75" stroke="rgb(160,160,160)" stroke-opacity="0.46" stroke-width="1.4" stroke-linejoin="round"/>
<polygon points="671.7,559.1 680.3,553.0 689.3,556.5 691.3,559.2 690.1,569.3 683.6,575.1 679.1,575.8 670.9,567.8" fill="rgb(121,121,121)" fill-opacity="0.75" stroke="rgb(182,182,182)" stroke-opacity="0.56" stroke-width="1.4" stroke-linejoin="round"/>
<polygon points="487.2,756.9 478.6,755.7 472.4,746.7 476.8,740.2 485.1,734.0 493.8,738.8 495.9,744.1 493.0,755.2" fill="rgb(94,94,94)" fill-opacity="0.75" stroke="rgb(161,161,161)" stroke-opacity="0.46" stroke-width="1.4" stroke-linejoin="round"/>
<polygon points="835.7,482.4 847.7,483.4 853.9,489.6 852.6,497.3 844.4,502.4 838.0,502.8 830.6,497.0 830.9,490.9" fill="rgb(96,96,96)" fill-opacity="0.75" stroke="rgb(161,161,161)" stroke-opacity="0.46" stroke-width="1.4" stroke-linejoin="round"/>
<polygon points="934.8,652.1 939.8,659.1 933.8,670.9 927.1,671.2 920.0,668.5 914.7,665.5 916.6,655.9 920.6,652.3 927.6,650.2" fill="rgb(112,112,112)" fill-opacity="0.75" stroke="rgb(160,160,160)" stroke-opacity="0.46" stroke-width="1.4" stroke-linejoin="round"/>
<polygon points="798.3,549.6 787.8,549.6 782.8,547.0 784.0,539.3 787.2,535.1 794.6,533.9 801.7,539.5 801.7,547.4" fill="rgb(106,106,106)" fill-opacity="0.75" stroke="rgb(164,164,164)" stroke-opacity="0.48" stroke-width="1.4" stroke-linejoin="round"/>
<polygon points="838.8,520.4 832.3,516.5 834.5,504.1 840.5,497.7 850.8,496.0 858.1,507.1 859.4,514.1 850.6,524.2" fill="rgb(101,101,101)" fill-opacity="0.75" stroke="rgb(161,161,161)" stroke-opacity="0.46" stroke-width="1.4" stroke-linejoin="round"/>
<polygon points="840.7,477.1 837.1,469.5 843.4,457.0 854.4,455.2 864.6,467.7 860.2,479.6 850.7,483.6" fill="rgb(103,103,103)" fill-opacity="0.75" stroke="rgb(161,161,161)" stroke-opacity="0.46" stroke-width="1.4" stroke-linejoin="round"/>
<polygon points="827.0,536.2 817.1,534.1 817.9,522.3 819.6,514.2 831.5,512.4 837.9,524.2 838.2,533.7" fill="rgb(108,108,108)" fill-opacity="0.75" stroke="rgb(161,161,161)" stroke-opacity="0.46" stroke-width="1.4" stroke-linejoin="round"/>
<polygon points="831.0,729.9 822.0,735.3 807.7,736.7 804.9,731.8 803.0,722.4 808.4,714.4 823.3,712.9 826.6,718.5" fill="rgb(101,101,101)" fill-opacity="0.75" stroke="rgb(161,161,161)" stroke-opacity="0.47" stroke-width="1.4" stroke-linejoin="round"/>
<polygon points="849.9,732.9 857.4,726.2 868.0,726.7 875.0,730.6 873.4,739.0 869.8,746.4 860.8,749.8 850.6,746.7 849.8,738.5" fill="rgb(131,131,131)" fill-opacity="0.75" stroke="rgb(210,210,210)" stroke-opacity="0.69" stroke-width="1.4" stroke-linejoin="round"/>
<polygon points="677.3,651.3 677.5,645.3 683.2,640.3 694.7,637.5 696.9,643.2 700.4,650.5 696.3,658.1 682.6,657.5" fill="rgb(114,114,114)" fill-opacity="0.75" stroke="rgb(187,187,187)" stroke-opacity="0.58" stroke-width="1.4" stroke-linejoin="round"/>
<polygon points="580.0,721.8 572.6,718.6 572.9,712.3 578.0,706.5 585.9,706.4 589.1,715.2 586.2,722.4" fill="rgb(96,96,96)" fill-opacity="0.75" stroke="rgb(142,142,142)" stroke-opacity="0.38" stroke-width="1.4" stroke-linejoin="round"/>
<polygon points="632.3,581.7 634.8,581.5 638.7,589.9 638.1,593.8 635.5,598.1 626.5,598.5 622.1,593.6 620.6,589.1 624.4,582.3" fill="rgb(145,145,145)" fill-opacity="0.75" stroke="rgb(224,224,224)" stroke-opacity="0.75" stroke-width="1.4" stroke-linejoin="round"/>
<polygon points="668.1,759.0 658.4,765.4 647.9,757.1 647.7,744.7 653.6,741.7 667.8,744.5 671.6,753.8" fill="rgb(104,104,104)" fill-opacity="0.75" stroke="rgb(168,168,168)" stroke-opacity="0.50" stroke-width="1.4" stroke-linejoin="round"/>
<polygon points="503.3,495.5 497.3,501.3 485.7,502.4 478.0,497.1 479.9,493.0 482.3,481.9 489.0,480.1 496.0,480.5 502.4,483.0" fill="rgb(101,101,101)" fill-opacity="0.75" stroke="rgb(161,161,161)" stroke-opacity="0.46" stroke-width="1.4" stroke-linejoin="round"/>
<polygon points="584.3,505.5 590.1,514.4 588.1,519.2 584.6,527.6 573.5,528.1 564.8,524.5 561.9,514.7 564.3,505.1 573.2,499.3" fill="rgb(101,101,101)" fill-opacity="0.75" stroke="rgb(161,161,161)" stroke-opacity="0.46" stroke-width="1.4" stroke-linejoin="round"/>
<polygon points="628.5,531.8 623.8,541.6 617.8,545.7 612.1,539.2 610.8,535.4 616.9,526.5 621.0,527.3" fill="rgb(96,96,96)" fill-opacity="0.75" stroke="rgb(161,161,161)" stroke-opacity="0.46" stroke-width="1.4" stroke-linejoin="round"/>
<polygon points="557.7,514.3 548.4,520.2 539.4,519.9 535.8,510.1 537.7,502.4 547.8,498.0 554.8,505.2" fill="rgb(110,110,110)" fill-opacity="0.75" stroke="rgb(161,161,161)" stroke-opacity="0.46" stroke-width="1.4" stroke-linejoin="round"/>
<polygon points="573.9,466.1 578.6,463.8 584.0,467.0 589.3,470.8 584.8,480.0 579.6,483.2 574.4,480.1 571.8,477.8 569.7,469.2" fill="rgb(108,108,108)" fill-opacity="0.75" stroke="rgb(161,161,161)" stroke-opacity="0.46" stroke-width="1.4" stroke-linejoin="round"/>
<polygon points="799.3,540.4 796.7,531.3 801.3,525.3 808.3,520.3 815.3,522.0 819.4,529.9 819.7,541.2 816.2,544.9 805.6,547.4" fill="rgb(109,109,109)" fill-opacity="0.75" stroke="rgb(162,162,162)" stroke-opacity="0.47" stroke-width="1.4" stroke-linejoin="round"/>
<polygon points="834.4,643.7 834.8,634.4 846.8,631.2 853.6,633.2 854.2,642.7 847.5,649.6 841.6,649.0" fill="rgb(143,143,143)" fill-opacity="0.75" stroke="rgb(238,238,238)" stroke-opacity="0.75" stroke-width="1.4" stroke-linejoin="round"/>
<polygon points="626.0,518.2 619.1,518.8 615.1,510.6 614.6,506.7 622.2,499.3 628.8,501.7 634.9,505.5 631.7,514.1" fill="rgb(111,111,111)" fill-opacity="0.75" stroke="rgb(161,161,161)" stroke-opacity="0.46" stroke-width="1.4" stroke-linejoin="round"/>
<polygon points="665.3,702.3 669.2,692.8 680.7,686.8 690.2,690.9 690.1,699.4 685.0,711.1 677.0,711.5" fill="rgb(134,134,134)" fill-opacity="0.75" stroke="rgb(215,215,215)" stroke-opacity="0.71" stroke-width="1.4" stroke-linejoin="round"/>
<polygon points="553.9,631.7 549.0,639.1 544.0,643.5 537.9,642.7 531.4,635.3 531.3,629.3 536.4,622.5 545.6,619.9 549.7,624.9" fill="rgb(152,152,152)" fill-opacity="0.75" stroke="rgb(245,245,245)" stroke-opacity="0.75" stroke-width="1.4" stroke-linejoin="round"/>
<polygon points="847.1,621.8 845.0,614.1 855.0,608.2 865.1,607.5 872.2,612.2 874.9,618.2 868.9,628.9 860.4,632.1 851.9,634.1" fill="rgb(150,150,150)" fill-opacity="0.75" stroke="rgb(230,230,230)" stroke-opacity="0.75" stroke-width="1.4" stroke-linejoin="round"/>
<polygon points="658.5,730.5 663.9,727.7 673.0,733.1 673.5,747.0 669.7,751.9 657.8,753.7 652.2,745.2 650.6,737.1" fill="rgb(115,115,115)" fill-opacity="0.75" stroke="rgb(188,188,188)" stroke-opacity="0.59" stroke-width="1.4" stroke-linejoin="round"/>
<polygon points="851.0,690.6 849.3,683.0 856.3,675.7 866.5,678.9 869.7,687.0 864.8,696.3 857.2,695.2" fill="rgb(147,147,147)" fill-opacity="0.75" stroke="rgb(220,220,220)" stroke-opacity="0.73" stroke-width="1.4" stroke-linejoin="round"/>
<polygon points="849.2,563.4 840.2,564.1 834.8,559.5 833.9,552.7 837.0,546.3 844.5,544.9 854.0,551.6 851.5,558.5" fill="rgb(103,103,103)" fill-opacity="0.75" stroke="rgb(161,161,161)" stroke-opacity="0.46" stroke-width="1.4" stroke-linejoin="round"/>
<polygon points="842.3,605.6 849.3,609.3 851.1,618.8 851.4,626.4 840.7,632.8 830.5,624.7 829.8,620.9 834.7,609.7" fill="rgb(148,148,148)" fill-opacity="0.75" stroke="rgb(239,239,239)" stroke-opacity="0.75" stroke-width="1.4" stroke-linejoin="round"/>
<polygon points="547.8,720.2 542.7,725.3 534.6,725.7 529.6,720.0 529.1,718.1 533.4,708.4 539.8,708.2 545.6,711.3 548.3,714.8" fill="rgb(90,90,90)" fill-opacity="0.75" stroke="rgb(155,155,155)" stroke-opacity="0.44" stroke-width="1.4" stroke-linejoin="round"/>
<polygon points="630.1,611.8 621.0,606.6 620.7,598.5 620.5,591.0 632.4,586.4 641.8,591.8 644.6,602.2 642.7,609.8" fill="rgb(134,134,134)" fill-opacity="0.75" stroke="rgb(224,224,224)" stroke-opacity="0.75" stroke-width="1.4" stroke-linejoin="round"/>
<polygon points="725.1,560.8 719.3,554.2 717.2,546.9 717.9,536.6 729.1,535.5 735.7,536.9 741.8,542.6 743.7,550.6 736.2,560.4" fill="rgb(105,105,105)" fill-opacity="0.75" stroke="rgb(161,161,161)" stroke-opacity="0.47" stroke-width="1.4" stroke-linejoin="round"/>
<polygon points="747.5,641.9 738.8,647.2 729.8,645.0 724.6,641.2 727.7,630.3 735.7,627.7 745.6,632.3" fill="rgb(95,95,95)" fill-opacity="0.75" stroke="rgb(149,149,149)" stroke-opacity="0.41" stroke-width="1.4" stroke-linejoin="round"/>
<polygon points="535.7,702.0 540.1,706.4 540.1,716.6 530.5,725.5 520.3,724.4 515.6,719.9 517.1,707.7 525.5,699.5" fill="rgb(102,102,102)" fill-opacity="0.75" stroke="rgb(162,162,162)" stroke-opacity="0.47" stroke-width="1.4" stroke-linejoin="round"/>
<polygon points="521.1,573.4 526.6,579.6 525.7,587.3 518.1,592.5 514.0,591.0 506.6,584.2 513.4,575.2" fill="rgb(111,111,111)" fill-opacity="0.75" stroke="rgb(164,164,164)" stroke-opacity="0.48" stroke-width="1.4" stroke-linejoin="round"/>
<polygon points="762.5,780.7 760.1,774.5 767.4,766.4 773.6,766.7 777.0,770.2 779.0,775.9 778.7,779.7 774.3,783.4 767.2,784.1" fill="rgb(99,99,99)" fill-opacity="0.75" stroke="rgb(149,149,149)" stroke-opacity="0.42" stroke-width="1.4" stroke-linejoin="round"/>
<polygon points="819.6,745.2 824.3,741.5 833.4,738.5 843.1,744.9 847.1,749.5 844.0,762.6 833.1,763.8 827.1,766.0 818.5,758.9" fill="rgb(100,100,100)" fill-opacity="0.75" stroke="rgb(162,162,162)" stroke-opacity="0.47" stroke-width="1.4" stroke-linejoin="round"/>
<polygon points="706.9,650.4 700.1,640.6 711.1,629.1 724.5,630.6 728.8,639.1 722.8,651.8 716.5,655.5" fill="rgb(120,120,120)" fill-opacity="0.75" stroke="rgb(181,181,181)" stroke-opacity="0.56" stroke-width="1.4" stroke-linejoin="round"/>
<polygon points="903.1,764.8 918.2,767.0 923.8,776.7 914.4,791.4 904.6,791.0 898.0,786.5 898.0,772.6" fill="rgb(97,97,97)" fill-opacity="0.75" stroke="rgb(161,161,161)" stroke-opacity="0.46" stroke-width="1.4" stroke-linejoin="round"/>
<polygon points="536.3,754.9 535.4,765.4 529.7,768.8 516.9,767.4 514.0,758.2 513.6,750.7 516.9,746.6 527.9,743.1 532.3,746.1" fill="rgb(101,101,101)" fill-opacity="0.75" stroke="rgb(155,155,155)" stroke-opacity="0.44" stroke-width="1.4" stroke-linejoin="round"/>
<polygon points="720.1,773.9 724.2,764.5 733.4,756.1 744.7,759.7 746.3,768.5 743.9,779.1 738.6,784.0 729.2,782.4" fill="rgb(83,83,83)" fill-opacity="0.75" stroke="rgb(143,143,143)" stroke-opacity="0.38" stroke-width="1.4" stroke-linejoin="round"/>
<polygon points="732.8,732.9 727.6,734.5 717.3,733.7 714.3,725.0 713.1,720.4 724.0,713.7 730.9,712.8 737.0,718.7 738.1,727.2" fill="rgb(104,104,104)" fill-opacity="0.75" stroke="rgb(157,157,157)" stroke-opacity="0.45" stroke-width="1.4" stroke-linejoin="round"/>
<polygon points="602.0,691.1 594.8,684.6 595.8,677.4 601.1,671.7 613.7,673.7 616.7,684.6 610.3,691.6" fill="rgb(111,111,111)" fill-opacity="0.75" stroke="rgb(175,175,175)" stroke-opacity="0.53" stroke-width="1.4" stroke-linejoin="round"/>
<polygon points="535.5,796.5 530.0,793.7 525.4,785.5 524.9,779.3 528.3,770.7 537.5,769.3 544.5,774.2 546.7,782.3 545.3,790.0" fill="rgb(98,98,98)" fill-opacity="0.75" stroke="rgb(157,157,157)" stroke-opacity="0.45" stroke-width="1.4" stroke-linejoin="round"/>
<polygon points="906.7,560.2 911.3,570.0 906.9,582.0 895.2,587.5 888.1,579.5 885.3,569.5 890.1,558.3" fill="rgb(108,108,108)" fill-opacity="0.75" stroke="rgb(160,160,160)" stroke-opacity="0.46" stroke-width="1.4" stroke-linejoin="round"/>
<polygon points="758.5,479.1 750.5,487.5 738.7,487.4 733.6,477.8 735.7,468.3 745.0,464.2 757.4,472.9" fill="rgb(97,97,97)" fill-opacity="0.75" stroke="rgb(158,158,158)" stroke-opacity="0.45" stroke-width="1.4" stroke-linejoin="round"/>
<polygon points="670.7,600.4 675.9,599.3 680.7,600.4 684.6,607.4 680.6,616.2 673.2,618.2 668.1,613.8 664.1,609.5" fill="rgb(137,137,137)" fill-opacity="0.75" stroke="rgb(224,224,224)" stroke-opacity="0.75" stroke-width="1.4" stroke-linejoin="round"/>
<polygon points="833.2,593.9 825.3,588.1 823.2,579.4 825.8,573.8 834.4,573.4 842.6,580.2 840.0,588.1" fill="rgb(107,107,107)" fill-opacity="0.75" stroke="rgb(166,166,166)" stroke-opacity="0.49" stroke-width="1.4" stroke-linejoin="round"/>
<polygon points="828.6,768.1 831.9,755.8 837.7,753.1 848.2,753.7 855.1,763.0 853.9,772.0 842.5,778.4 832.7,774.1" fill="rgb(108,108,108)" fill-opacity="0.75" stroke="rgb(161,161,161)" stroke-opacity="0.47" stroke-width="1.4" stroke-linejoin="round"/>
<polygon points="853.4,718.8 853.9,713.4 857.4,708.5 864.8,706.5 869.1,709.0 869.0,715.1 866.0,723.4 860.3,723.8" fill="rgb(144,144,144)" fill-opacity="0.75" stroke="rgb(221,221,221)" stroke-opacity="0.73" stroke-width="1.4" stroke-linejoin="round"/>
<polygon points="554.5,634.4 562.7,633.3 569.0,635.5 572.2,639.9 572.6,646.0 567.9,652.3 558.9,652.6 550.8,646.7 552.5,640.6" fill="rgb(154,154,154)" fill-opacity="0.75" stroke="rgb(242,242,242)" stroke-opacity="0.75" stroke-width="1.4" stroke-linejoin="round"/>
<polygon points="942.2,565.2 940.9,574.3 936.8,581.5 926.9,579.9 920.4,576.6 915.4,565.1 919.6,561.2 924.7,553.6 939.0,556.4" fill="rgb(99,99,99)" fill-opacity="0.75" stroke="rgb(160,160,160)" stroke-opacity="0.46" stroke-width="1.4" stroke-linejoin="round"/>
<polygon points="799.7,626.2 806.5,617.3 811.7,616.8 821.5,623.4 820.6,628.3 819.5,634.5 810.5,641.8 807.5,641.3 799.9,636.4" fill="rgb(150,150,150)" fill-opacity="0.75" stroke="rgb(239,239,239)" stroke-opacity="0.75" stroke-width="1.4" stroke-linejoin="round"/>
<polygon points="519.0,718.4 509.9,713.5 507.1,706.4 508.0,702.0 516.8,695.7 525.3,699.2 529.6,704.9 529.2,710.0 527.9,716.8" fill="rgb(112,112,112)" fill-opacity="0.75" stroke="rgb(165,165,165)" stroke-opacity="0.48" stroke-width="1.4" stroke-linejoin="round"/>
<polygon points="662.1,596.1 670.3,600.2 671.3,609.3 666.5,616.6 658.1,616.0 647.9,608.8 648.5,602.1 656.9,596.6" fill="rgb(142,142,142)" fill-opacity="0.75" stroke="rgb(224,224,224)" stroke-opacity="0.75" stroke-width="1.4" stroke-linejoin="round"/>
<polygon points="694.4,739.7 691.2,743.8 684.2,750.0 676.0,746.7 674.2,743.8 673.5,734.5 677.2,728.6 685.5,726.9 689.3,729.8" fill="rgb(117,117,117)" fill-opacity="0.75" stroke="rgb(196,196,196)" stroke-opacity="0.62" stroke-width="1.4" stroke-linejoin="round"/>
<polygon points="509.2,529.7 506.6,519.4 516.8,514.4 528.1,512.9 535.1,517.8 535.7,529.2 530.9,537.5 513.7,538.6" fill="rgb(95,95,95)" fill-opacity="0.75" stroke="rgb(161,161,161)" stroke-opacity="0.46" stroke-width="1.4" stroke-linejoin="round"/>
<polygon points="746.7,698.2 757.0,705.1 763.5,710.3 757.8,725.3 747.5,728.7 737.7,724.6 736.8,710.0" fill="rgb(96,96,96)" fill-opacity="0.75" stroke="rgb(164,164,164)" stroke-opacity="0.48" stroke-width="1.4" stroke-linejoin="round"/>
<polygon points="803.1,559.4 812.3,558.6 817.4,559.2 819.7,565.9 819.3,575.8 811.8,579.4 806.2,577.7 802.1,575.2 800.5,566.7" fill="rgb(104,104,104)" fill-opacity="0.75" stroke="rgb(161,161,161)" stroke-opacity="0.46" stroke-width="1.4" stroke-linejoin="round"/>
<polygon points="564.9,577.3 571.3,581.7 576.8,594.9 567.4,603.0 558.6,603.8 552.1,593.5 553.6,583.0" fill="rgb(123,123,123)" fill-opacity="0.75" stroke="rgb(205,205,205)" stroke-opacity="0.66" stroke-width="1.4" stroke-linejoin="round"/>
<polygon points="806.7,727.0 817.2,729.2 822.4,738.5 823.7,746.5 816.7,753.3 802.2,749.3 798.1,743.2 797.9,730.3" fill="rgb(108,108,108)" fill-opacity="0.75" stroke="rgb(160,160,160)" stroke-opacity="0.46" stroke-width="1.4" stroke-linejoin="round"/>
<polygon points="825.8,606.8 822.7,600.0 823.9,596.8 830.9,590.8 837.8,590.8 843.0,597.1 841.6,601.2 839.5,608.9 831.5,609.2" fill="rgb(131,131,131)" fill-opacity="0.75" stroke="rgb(210,210,210)" stroke-opacity="0.69" stroke-width="1.4" stroke-linejoin="round"/>
<polygon points="712.7,749.7 710.4,762.6 698.2,763.2 689.4,756.5 688.4,744.2 695.0,738.0 706.1,740.2" fill="rgb(109,109,109)" fill-opacity="0.75" stroke="rgb(160,160,160)" stroke-opacity="0.46" stroke-width="1.4" stroke-linejoin="round"/>
<polygon points="725.6,669.9 719.6,670.7 717.2,661.1 719.3,653.5 727.2,648.8 733.4,652.7 736.3,655.1 736.4,663.1 735.6,669.0" fill="rgb(143,143,143)" fill-opacity="0.75" stroke="rgb(230,230,230)" stroke-opacity="0.75" stroke-width="1.4" stroke-linejoin="round"/>
<polygon points="692.0,715.4 698.5,711.2 706.2,712.9 710.8,720.2 707.6,730.0 698.4,730.1 691.0,722.9" fill="rgb(119,119,119)" fill-opacity="0.75" stroke="rgb(201,201,201)" stroke-opacity="0.64" stroke-width="1.4" stroke-linejoin="round"/>
<polygon points="928.2,741.6 925.3,751.4 913.7,753.3 907.2,746.3 905.8,735.6 914.1,730.8 924.8,734.5" fill="rgb(113,113,113)" fill-opacity="0.75" stroke="rgb(165,165,165)" stroke-opacity="0.48" stroke-width="1.4" stroke-linejoin="round"/>
<polygon points="569.6,682.0 565.5,674.7 569.6,669.6 571.0,666.1 579.8,668.7 582.8,672.9 584.0,677.5 579.1,681.8 574.1,683.7" fill="rgb(149,149,149)" fill-opacity="0.75" stroke="rgb(228,228,228)" stroke-opacity="0.75" stroke-width="1.4" stroke-linejoin="round"/>
<polygon points="701.7,703.3 702.1,695.6 709.5,689.3 718.9,692.7 723.6,698.8 723.4,707.8 721.0,713.9 709.9,714.9 703.6,710.6" fill="rgb(152,152,152)" fill-opacity="0.75" stroke="rgb(231,231,231)" stroke-opacity="0.75" stroke-width="1.4" stroke-linejoin="round"/>
<polygon points="891.7,658.5 886.7,667.2 875.7,670.3 868.3,663.1 868.5,654.7 872.2,651.1 882.8,647.6 891.5,652.8" fill="rgb(117,117,117)" fill-opacity="0.75" stroke="rgb(188,188,188)" stroke-opacity="0.59" stroke-width="1.4" stroke-linejoin="round"/>
<polygon points="624.7,517.1 624.8,505.6 630.4,499.2 636.9,495.8 644.2,500.7 646.9,506.4 645.2,517.4 636.5,519.6 630.3,520.6" fill="rgb(107,107,107)" fill-opacity="0.75" stroke="rgb(161,161,161)" stroke-opacity="0.46" stroke-width="1.4" stroke-linejoin="round"/>
<polygon points="936.2,759.8 928.2,763.2 922.1,759.3 920.2,754.3 920.8,747.3 930.7,746.5 934.6,750.3" fill="rgb(95,95,95)" fill-opacity="0.75" stroke="rgb(161,161,161)" stroke-opacity="0.47" stroke-width="1.4" stroke-linejoin="round"/>
<polygon points="629.9,473.9 630.4,484.0 628.5,489.6 618.2,490.8 611.9,485.1 612.4,477.4 613.8,474.5 621.1,467.9 625.5,469.2" fill="rgb(110,110,110)" fill-opacity="0.75" stroke="rgb(161,161,161)" stroke-opacity="0.46" stroke-width="1.4" stroke-linejoin="round"/>
<polygon points="708.8,543.2 712.9,537.8 719.2,537.7 727.2,542.4 727.9,551.1 724.0,556.9 714.8,557.2 709.9,551.7" fill="rgb(107,107,107)" fill-opacity="0.75" stroke="rgb(156,156,156)" stroke-opacity="0.45" stroke-width="1.4" stroke-linejoin="round"/>
<polygon points="897.6,480.9 893.4,486.7 887.8,487.1 880.3,483.6 875.9,477.9 880.1,469.0 885.9,467.1 890.3,469.4 896.7,476.2" fill="rgb(96,96,96)" fill-opacity="0.75" stroke="rgb(161,161,161)" stroke-opacity="0.46" stroke-width="1.4" stroke-linejoin="round"/>
<polygon points="798.5,473.4 801.7,480.1 796.8,488.7 789.6,489.9 782.5,485.3 784.6,473.1 790.1,470.5" fill="rgb(122,122,122)" fill-opacity="0.75" stroke="rgb(177,177,177)" stroke-opacity="0.54" stroke-width="1.4" stroke-linejoin="round"/>
<polygon points="486.8,692.1 483.9,693.2 473.0,692.0 471.3,685.4 470.8,680.8 478.3,672.8 486.2,673.8 488.2,676.3 492.5,684.8" fill="rgb(104,104,104)" fill-opacity="0.75" stroke="rgb(163,163,163)" stroke-opacity="0.47" stroke-width="1.4" stroke-linejoin="round"/>
<polygon points="707.9,691.7 704.3,684.5 707.3,680.6 713.3,677.7 721.1,680.4 721.4,688.7 717.5,693.2 712.6,695.8" fill="rgb(149,149,149)" fill-opacity="0.75" stroke="rgb(240,240,240)" stroke-opacity="0.75" stroke-width="1.4" stroke-linejoin="round"/>
<polygon points="671.0,621.9 674.4,612.9 677.7,609.8 685.0,612.3 688.8,618.3 690.2,623.0 684.6,628.6 679.3,629.9 672.4,625.2" fill="rgb(137,137,137)" fill-opacity="0.75" stroke="rgb(216,216,216)" stroke-opacity="0.71" stroke-width="1.4" stroke-linejoin="round"/>
<polygon points="814.5,471.9 811.1,480.2 803.0,484.9 796.4,480.9 794.9,476.0 800.5,465.6 808.4,467.3" fill="rgb(106,106,106)" fill-opacity="0.75" stroke="rgb(166,166,166)" stroke-opacity="0.49" stroke-width="1.4" stroke-linejoin="round"/>
<polygon points="806.8,602.4 808.5,606.9 800.8,618.7 792.6,616.7 784.6,613.3 783.8,605.1 785.9,597.8 792.9,594.9 798.2,595.6" fill="rgb(124,124,124)" fill-opacity="0.75" stroke="rgb(190,190,190)" stroke-opacity="0.60" stroke-width="1.4" stroke-linejoin="round"/>
<polygon points="777.8,545.1 780.0,551.4 776.1,558.9 766.2,561.6 761.4,556.4 762.2,543.7 770.7,540.0" fill="rgb(118,118,118)" fill-opacity="0.75" stroke="rgb(172,172,172)" stroke-opacity="0.52" stroke-width="1.4" stroke-linejoin="round"/>
<polygon points="888.2,529.3 882.0,539.0 873.4,537.9 865.8,532.5 868.0,524.2 869.7,518.1 878.9,517.0 888.1,520.3" fill="rgb(111,111,111)" fill-opacity="0.75" stroke="rgb(161,161,161)" stroke-opacity="0.46" stroke-width="1.4" stroke-linejoin="round"/>
<polygon points="802.6,719.8 798.7,723.9 789.9,722.7 786.6,714.7 789.6,706.9 799.2,706.5 803.0,711.9" fill="rgb(112,112,112)" fill-opacity="0.75" stroke="rgb(160,160,160)" stroke-opacity="0.46" stroke-width="1.4" stroke-linejoin="round"/>
<polygon points="781.4,743.2 781.8,732.6 792.9,729.3 803.9,731.8 809.6,740.7 809.2,747.5 800.5,754.2 785.8,753.0" fill="rgb(98,98,98)" fill-opacity="0.75" stroke="rgb(156,156,156)" stroke-opacity="0.44" stroke-width="1.4" stroke-linejoin="round"/>
<polygon points="790.6,744.6 795.2,745.3 804.7,750.2 804.3,760.1 800.4,763.8 790.8,766.6 784.2,763.0 781.0,757.0 782.5,751.2" fill="rgb(99,99,99)" fill-opacity="0.75" stroke="rgb(156,156,156)" stroke-opacity="0.44" stroke-width="1.4" stroke-linejoin="round"/>
<polygon points="789.2,617.0 794.6,622.2 793.6,632.3 786.7,635.8 781.0,632.6 779.3,623.4 784.6,617.3" fill="rgb(125,125,125)" fill-opacity="0.75" stroke="rgb(197,197,197)" stroke-opacity="0.63" stroke-width="1.4" stroke-linejoin="round"/>
<polygon points="651.6,753.7 648.0,763.8 640.0,766.4 630.7,762.2 627.4,753.2 638.2,745.8 647.4,747.7" fill="rgb(107,107,107)" fill-opacity="0.75" stroke="rgb(156,156,156)" stroke-opacity="0.44" stroke-width="1.4" stroke-linejoin="round"/>
<polygon points="735.8,644.9 739.5,641.2 749.3,638.2 752.3,640.7 756.0,646.2 754.1,654.4 750.5,657.4 745.0,660.1 738.7,654.7" fill="rgb(99,99,99)" fill-opacity="0.75" stroke="rgb(167,167,167)" stroke-opacity="0.49" stroke-width="1.4" stroke-linejoin="round"/>
<polygon points="662.8,773.2 664.8,780.2 657.0,786.8 650.0,788.7 644.9,782.2 644.9,771.0 650.9,768.9" fill="rgb(103,103,103)" fill-opacity="0.75" stroke="rgb(161,161,161)" stroke-opacity="0.46" stroke-width="1.4" stroke-linejoin="round"/>
<polygon points="575.0,473.1 569.9,475.6 560.1,476.3 555.8,471.0 554.9,460.8 561.0,458.2 566.8,458.1 575.2,462.7" fill="rgb(99,99,99)" fill-opacity="0.75" stroke="rgb(161,161,161)" stroke-opacity="0.46" stroke-width="1.4" stroke-linejoin="round"/>
<polygon points="803.4,751.0 808.7,750.3 819.9,752.7 823.4,759.9 823.1,767.6 814.7,773.4 805.9,774.9 800.5,771.8 797.7,762.1" fill="rgb(100,100,100)" fill-opacity="0.75" stroke="rgb(160,160,160)" stroke-opacity="0.46" stroke-width="1.4" stroke-linejoin="round"/>
<polygon points="801.8,562.3 805.3,567.9 804.8,573.8 795.2,579.3 789.4,576.6 786.4,570.6 788.4,563.2 791.1,558.0" fill="rgb(94,94,94)" fill-opacity="0.75" stroke="rgb(161,161,161)" stroke-opacity="0.47" stroke-width="1.4" stroke-linejoin="round"/>
<polygon points="784.7,707.4 778.0,709.8 770.1,712.7 762.9,702.0 760.8,696.3 768.0,685.6 774.4,685.3 786.3,691.9 787.5,699.2" fill="rgb(104,104,104)" fill-opacity="0.75" stroke="rgb(162,162,162)" stroke-opacity="0.47" stroke-width="1.4" stroke-linejoin="round"/>
<polygon points="848.4,707.2 841.8,704.2 839.0,701.0 837.2,692.8 840.7,689.5 845.0,686.9 853.6,689.2 855.0,695.7 854.0,702.3" fill="rgb(142,142,142)" fill-opacity="0.75" stroke="rgb(210,210,210)" stroke-opacity="0.69" stroke-width="1.4" stroke-linejoin="round"/>
<polygon points="749.5,552.8 744.3,547.3 744.1,541.2 747.7,535.8 754.6,536.3 760.1,539.4 761.8,542.3 760.6,549.6 753.6,552.2" fill="rgb(115,115,115)" fill-opacity="0.75" stroke="rgb(175,175,175)" stroke-opacity="0.53" stroke-width="1.4" stroke-linejoin="round"/>
<polygon points="851.7,656.7 861.2,657.6 861.9,666.3 858.9,678.4 851.4,682.1 841.8,679.7 838.1,673.1 836.7,666.8 841.6,658.9" fill="rgb(136,136,136)" fill-opacity="0.75" stroke="rgb(201,201,201)" stroke-opacity="0.65" stroke-width="1.4" stroke-linejoin="round"/>
<polygon points="801.8,768.3 808.9,763.7 819.7,770.5 821.9,775.5 815.9,783.5 804.1,782.5 799.8,775.4" fill="rgb(103,103,103)" fill-opacity="0.75" stroke="rgb(160,160,160)" stroke-opacity="0.46" stroke-width="1.4" stroke-linejoin="round"/>
<polygon points="556.0,749.0 551.3,746.7 546.6,739.7 550.8,729.1 556.5,729.2 564.9,733.3 565.1,745.9" fill="rgb(92,92,92)" fill-opacity="0.75" stroke="rgb(126,126,126)" stroke-opacity="0.31" stroke-width="1.4" stroke-linejoin="round"/>
<polygon points="783.3,522.3 791.2,522.1 794.6,527.1 797.4,535.2 795.6,542.5 790.2,542.7 783.0,542.6 777.8,538.5 776.5,532.1" fill="rgb(118,118,118)" fill-opacity="0.75" stroke="rgb(172,172,172)" stroke-opacity="0.51" stroke-width="1.4" stroke-linejoin="round"/>
<polygon points="690.3,575.2 683.8,570.3 682.0,562.1 684.1,557.6 690.9,554.1 697.1,556.7 702.8,561.2 699.7,567.2 696.0,573.9" fill="rgb(113,113,113)" fill-opacity="0.75" stroke="rgb(173,173,173)" stroke-opacity="0.52" stroke-width="1.4" stroke-linejoin="round"/>
<polygon points="887.3,555.5 891.7,561.9 888.5,569.4 879.8,574.4 874.2,569.6 870.8,561.1 873.9,554.4 879.7,551.5" fill="rgb(96,96,96)" fill-opacity="0.75" stroke="rgb(161,161,161)" stroke-opacity="0.46" stroke-width="1.4" stroke-linejoin="round"/>
<polygon points="482.6,497.4 490.1,497.6 495.8,504.1 494.2,509.3 490.1,513.9 484.6,516.1 480.2,513.4 476.2,508.7 479.9,501.8" fill="rgb(113,113,113)" fill-opacity="0.75" stroke="rgb(161,161,161)" stroke-opacity="0.46" stroke-width="1.4" stroke-linejoin="round"/>
<polygon points="813.1,686.5 807.7,686.4 804.8,683.1 801.5,675.2 805.7,671.1 810.0,669.2 815.0,671.0 818.5,677.4 819.3,681.1" fill="rgb(96,96,96)" fill-opacity="0.75" stroke="rgb(162,162,162)" stroke-opacity="0.47" stroke-width="1.4" stroke-linejoin="round"/>
<polygon points="479.9,711.3 485.1,710.7 490.6,714.1 496.8,723.1 495.0,728.0 483.7,734.7 480.8,734.0 471.0,724.7 473.1,718.3" fill="rgb(111,111,111)" fill-opacity="0.75" stroke="rgb(161,161,161)" stroke-opacity="0.46" stroke-width="1.4" stroke-linejoin="round"/>
<polygon points="904.4,685.7 913.3,676.4 921.5,676.0 925.5,688.9 922.6,696.6 914.4,696.5 906.8,691.6" fill="rgb(116,116,116)" fill-opacity="0.75" stroke="rgb(176,176,176)" stroke-opacity="0.53" stroke-width="1.4" stroke-linejoin="round"/>
<polygon points="666.7,627.9 657.0,632.5 649.5,634.7 641.7,624.8 647.1,613.2 658.5,611.3 665.7,614.8" fill="rgb(143,143,143)" fill-opacity="0.75" stroke="rgb(213,213,213)" stroke-opacity="0.70" stroke-width="1.4" stroke-linejoin="round"/>
<polygon points="840.0,727.3 835.8,726.5 832.7,720.8 834.9,713.4 839.2,711.6 846.8,713.2 850.9,715.6 848.8,723.7 846.7,727.7" fill="rgb(121,121,121)" fill-opacity="0.75" stroke="rgb(199,199,199)" stroke-opacity="0.64" stroke-width="1.4" stroke-linejoin="round"/>
<polygon points="857.8,579.8 863.8,580.0 871.3,590.1 871.3,595.8 859.1,604.7 854.9,602.7 848.6,594.2 849.6,582.9" fill="rgb(118,118,118)" fill-opacity="0.75" stroke="rgb(171,171,171)" stroke-opacity="0.51" stroke-width="1.4" stroke-linejoin="round"/>
<polygon points="842.7,780.1 830.2,786.6 826.4,785.4 818.0,776.4 816.4,767.7 825.0,759.3 838.3,758.2 844.1,761.5 844.6,770.4" fill="rgb(106,106,106)" fill-opacity="0.75" stroke="rgb(161,161,161)" stroke-opacity="0.46" stroke-width="1.4" stroke-linejoin="round"/>
<polygon points="757.7,669.9 762.3,659.9 771.4,656.6 777.5,657.7 785.0,658.4 787.1,672.5 786.8,678.3 773.4,684.6 764.7,679.6" fill="rgb(114,114,114)" fill-opacity="0.75" stroke="rgb(164,164,164)" stroke-opacity="0.48" stroke-width="1.4" stroke-linejoin="round"/>
<polygon points="595.1,563.9 593.5,578.3 582.4,584.1 573.5,582.5 566.5,571.8 570.9,565.5 579.5,558.1 586.8,557.9" fill="rgb(103,103,103)" fill-opacity="0.75" stroke="rgb(161,161,161)" stroke-opacity="0.47" stroke-width="1.4" stroke-linejoin="round"/>
<polygon points="848.8,524.3 856.5,531.6 856.5,541.4 847.0,545.0 836.0,542.4 833.4,530.4 839.7,524.5" fill="rgb(108,108,108)" fill-opacity="0.75" stroke="rgb(161,161,161)" stroke-opacity="0.46" stroke-width="1.4" stroke-linejoin="round"/>
<polygon points="590.0,654.7 583.9,657.4 571.7,654.5 569.5,648.3 571.8,633.1 581.8,632.7 587.9,632.7 593.9,642.4" fill="rgb(121,121,121)" fill-opacity="0.75" stroke="rgb(186,186,186)" stroke-opacity="0.58" stroke-width="1.4" stroke-linejoin="round"/>
<polygon points="625.8,592.7 617.9,605.9 608.5,605.1 602.5,595.3 605.6,587.7 614.6,581.6 621.7,582.2" fill="rgb(145,145,145)" fill-opacity="0.75" stroke="rgb(221,221,221)" stroke-opacity="0.73" stroke-width="1.4" stroke-linejoin="round"/>
<polygon points="899.4,581.9 894.0,595.8 885.8,599.4 869.0,591.0 867.0,580.4 874.3,572.4 886.9,571.6" fill="rgb(94,94,94)" fill-opacity="0.75" stroke="rgb(159,159,159)" stroke-opacity="0.46" stroke-width="1.4" stroke-linejoin="round"/>
<polygon points="778.4,689.6 777.8,680.3 779.7,671.5 789.2,668.1 801.5,672.5 800.9,680.6 801.7,685.9 794.6,693.2 783.4,693.8" fill="rgb(108,108,108)" fill-opacity="0.75" stroke="rgb(161,161,161)" stroke-opacity="0.46" stroke-width="1.4" stroke-linejoin="round"/>
<polygon points="667.0,697.5 660.2,697.5 656.2,685.1 656.6,680.7 663.2,674.8 674.6,674.4 677.7,681.2 682.5,688.8 676.4,695.1" fill="rgb(123,123,123)" fill-opacity="0.75" stroke="rgb(195,195,195)" stroke-opacity="0.62" stroke-width="1.4" stroke-linejoin="round"/>
<polygon points="920.2,762.6 930.6,765.5 934.0,772.9 935.5,784.0 927.8,788.5 919.1,790.4 912.4,783.9 910.1,775.6 913.8,767.8" fill="rgb(107,107,107)" fill-opacity="0.75" stroke="rgb(161,161,161)" stroke-opacity="0.46" stroke-width="1.4" stroke-linejoin="round"/>
<polygon points="584.0,555.0 580.1,561.1 570.7,559.8 565.5,558.2 560.6,548.4 564.7,543.3 572.5,538.2 578.6,536.6 583.4,545.8" fill="rgb(100,100,100)" fill-opacity="0.75" stroke="rgb(161,161,161)" stroke-opacity="0.46" stroke-width="1.4" stroke-linejoin="round"/>
<polygon points="822.3,552.8 819.8,556.8 807.9,560.6 801.3,553.7 802.5,549.9 803.1,543.1 811.7,534.7 816.6,535.9 823.8,542.1" fill="rgb(108,108,108)" fill-opacity="0.75" stroke="rgb(161,161,161)" stroke-opacity="0.46" stroke-width="1.4" stroke-linejoin="round"/>
<polygon points="585.5,784.6 577.9,782.8 569.5,780.7 569.2,770.2 574.2,764.3 580.9,762.2 588.2,763.8 592.0,775.3" fill="rgb(92,92,92)" fill-opacity="0.75" stroke="rgb(129,129,129)" stroke-opacity="0.32" stroke-width="1.4" stroke-linejoin="round"/>
<polygon points="537.1,517.1 529.1,524.0 519.6,526.1 513.3,517.0 512.9,503.5 521.2,499.6 533.0,504.8" fill="rgb(113,113,113)" fill-opacity="0.75" stroke="rgb(161,161,161)" stroke-opacity="0.46" stroke-width="1.4" stroke-linejoin="round"/>
<polygon points="515.1,597.6 521.1,603.8 516.1,616.0 508.3,618.7 498.9,617.7 495.6,610.2 499.0,597.0 506.2,595.1" fill="rgb(126,126,126)" fill-opacity="0.75" stroke="rgb(188,188,188)" stroke-opacity="0.59" stroke-width="1.4" stroke-linejoin="round"/>
<polygon points="890.7,501.9 878.9,500.3 875.7,487.8 879.9,479.2 891.5,480.3 898.5,487.4 895.0,499.0" fill="rgb(111,111,111)" fill-opacity="0.75" stroke="rgb(161,161,161)" stroke-opacity="0.46" stroke-width="1.4" stroke-linejoin="round"/>
<polygon points="539.8,650.8 536.3,644.7 539.6,635.8 544.3,632.8 551.2,634.6 555.2,645.7 550.8,649.7" fill="rgb(160,160,160)" fill-opacity="0.75" stroke="rgb(245,245,245)" stroke-opacity="0.75" stroke-width="1.4" stroke-linejoin="round"/>
<polygon points="651.7,584.7 645.2,583.8 639.2,575.5 639.4,567.0 648.8,563.8 658.0,565.8 659.1,577.4" fill="rgb(134,134,134)" fill-opacity="0.75" stroke="rgb(213,213,213)" stroke-opacity="0.70" stroke-width="1.4" stroke-linejoin="round"/>
<polygon points="880.6,503.7 881.6,507.5 873.4,519.6 866.1,520.5 859.0,517.1 855.7,504.7 855.0,497.2 867.7,488.5 876.4,493.9" fill="rgb(97,97,97)" fill-opacity="0.75" stroke="rgb(161,161,161)" stroke-opacity="0.46" stroke-width="1.4" stroke-linejoin="round"/>
<polygon points="906.7,507.1 912.0,495.5 923.9,492.8 935.2,505.4 929.2,515.9 918.1,518.1 911.3,516.9" fill="rgb(107,107,107)" fill-opacity="0.75" stroke="rgb(161,161,161)" stroke-opacity="0.46" stroke-width="1.4" stroke-linejoin="round"/>
<polygon points="617.2,557.7 611.7,553.1 610.2,545.3 611.3,539.6 620.0,535.5 629.7,540.7 632.8,549.8 628.6,557.5" fill="rgb(112,112,112)" fill-opacity="0.75" stroke="rgb(162,162,162)" stroke-opacity="0.47" stroke-width="1.4" stroke-linejoin="round"/>
<polygon points="746.4,506.2 749.5,519.8 743.3,526.4 732.4,529.1 724.8,516.3 725.2,505.2 735.1,500.9" fill="rgb(103,103,103)" fill-opacity="0.75" stroke="rgb(155,155,155)" stroke-opacity="0.44" stroke-width="1.4" stroke-linejoin="round"/>
<polygon points="875.9,742.3 876.8,733.5 886.8,728.2 893.7,733.4 896.7,743.5 891.8,749.5 887.2,751.9 878.4,747.8" fill="rgb(130,130,130)" fill-opacity="0.75" stroke="rgb(205,205,205)" stroke-opacity="0.66" stroke-width="1.4" stroke-linejoin="round"/>
<polygon points="569.6,557.3 564.2,560.4 557.1,553.6 554.6,548.5 559.2,540.3 567.1,537.1 570.9,538.7 576.4,545.8 572.8,553.8" fill="rgb(98,98,98)" fill-opacity="0.75" stroke="rgb(161,161,161)" stroke-opacity="0.46" stroke-width="1.4" stroke-linejoin="round"/>
<polygon points="701.9,592.2 704.6,595.1 704.8,605.2 699.1,610.4 694.0,609.8 688.5,602.4 690.7,594.3" fill="rgb(140,140,140)" fill-opacity="0.75" stroke="rgb(213,213,213)" stroke-opacity="0.70" stroke-width="1.4" stroke-linejoin="round"/>
<polygon points="865.6,611.4 866.1,602.1 875.5,595.8 884.6,599.7 892.3,609.9 890.1,617.3 883.7,624.1 874.5,623.3 865.4,616.4" fill="rgb(101,101,101)" fill-opacity="0.75" stroke="rgb(158,158,158)" stroke-opacity="0.45" stroke-width="1.4" stroke-linejoin="round"/>
<polygon points="638.2,781.8 636.6,773.7 637.2,769.2 645.8,765.5 649.0,768.9 652.5,775.8 649.7,781.3 644.9,785.7" fill="rgb(112,112,112)" fill-opacity="0.75" stroke="rgb(160,160,160)" stroke-opacity="0.46" stroke-width="1.4" stroke-linejoin="round"/>
<polygon points="905.3,619.9 907.8,612.0 914.3,605.0 920.4,605.2 928.5,609.0 928.6,621.7 929.0,626.2 917.9,629.5 911.9,628.2" fill="rgb(97,97,97)" fill-opacity="0.75" stroke="rgb(136,136,136)" stroke-opacity="0.35" stroke-width="1.4" stroke-linejoin="round"/>
<polygon points="770.9,493.6 772.3,483.5 782.1,477.0 789.0,478.4 798.2,484.7 790.8,499.2 782.7,500.2" fill="rgb(117,117,117)" fill-opacity="0.75" stroke="rgb(185,185,185)" stroke-opacity="0.57" stroke-width="1.4" stroke-linejoin="round"/>
<polygon points="822.4,557.0 831.0,560.6 835.9,565.9 834.3,573.0 824.3,578.7 818.4,578.7 811.4,571.5 811.3,565.4 819.8,558.5" fill="rgb(112,112,112)" fill-opacity="0.75" stroke="rgb(161,161,161)" stroke-opacity="0.46" stroke-width="1.4" stroke-linejoin="round"/>
<polygon points="490.9,715.4 500.2,709.6 513.1,714.3 517.1,723.9 513.6,732.1 500.3,736.4 489.7,734.6 488.7,724.0" fill="rgb(102,102,102)" fill-opacity="0.75" stroke="rgb(160,160,160)" stroke-opacity="0.46" stroke-width="1.4" stroke-linejoin="round"/>
<polygon points="666.6,779.2 671.9,773.0 676.9,772.4 686.7,776.3 688.2,782.1 685.5,791.3 677.9,795.8 670.2,792.1 668.2,784.9" fill="rgb(102,102,102)" fill-opacity="0.75" stroke="rgb(161,161,161)" stroke-opacity="0.47" stroke-width="1.4" stroke-linejoin="round"/>
<polygon points="806.7,487.6 813.4,487.8 817.3,494.3 817.5,501.3 810.5,507.6 806.6,507.5 799.3,500.6 797.8,494.0 800.7,491.1" fill="rgb(103,103,103)" fill-opacity="0.75" stroke="rgb(169,169,169)" stroke-opacity="0.50" stroke-width="1.4" stroke-linejoin="round"/>
<polygon points="658.2,559.9 657.2,563.9 648.0,563.3 641.7,561.2 640.1,553.2 641.8,548.5 651.7,544.5 656.7,545.3 660.5,551.1" fill="rgb(102,102,102)" fill-opacity="0.75" stroke="rgb(173,173,173)" stroke-opacity="0.52" stroke-width="1.4" stroke-linejoin="round"/>
<polygon points="856.4,608.3 852.6,618.5 846.3,622.3 839.8,622.4 830.5,617.1 829.4,606.2 834.5,599.7 844.6,596.1 853.6,600.0" fill="rgb(144,144,144)" fill-opacity="0.75" stroke="rgb(230,230,230)" stroke-opacity="0.75" stroke-width="1.4" stroke-linejoin="round"/>
<polygon points="646.7,467.8 646.0,476.3 642.7,483.4 634.9,486.4 627.3,486.2 624.2,480.1 625.4,468.0 629.3,465.3 639.0,463.0" fill="rgb(97,97,97)" fill-opacity="0.75" stroke="rgb(161,161,161)" stroke-opacity="0.46" stroke-width="1.4" stroke-linejoin="round"/>
<polygon points="795.0,774.8 795.7,782.3 784.4,790.2 776.5,788.2 770.5,775.0 781.7,763.3 787.8,766.8" fill="rgb(111,111,111)" fill-opacity="0.75" stroke="rgb(157,157,157)" stroke-opacity="0.45" stroke-width="1.4" stroke-linejoin="round"/>
<polygon points="922.0,474.9 918.8,466.4 921.6,460.4 930.4,457.8 936.7,464.2 938.4,470.1 932.5,477.2" fill="rgb(110,110,110)" fill-opacity="0.75" stroke="rgb(161,161,161)" stroke-opacity="0.46" stroke-width="1.4" stroke-linejoin="round"/>
<polygon points="470.3,649.2 473.2,644.3 478.5,638.4 485.8,639.1 487.7,643.5 491.2,649.0 488.2,657.2 481.7,657.7 474.5,656.8" fill="rgb(115,115,115)" fill-opacity="0.75" stroke="rgb(173,173,173)" stroke-opacity="0.52" stroke-width="1.4" stroke-linejoin="round"/>
<polygon points="819.2,673.1 807.0,682.7 803.3,678.6 793.3,672.1 794.9,660.7 807.8,655.7 815.5,656.1 819.0,668.6" fill="rgb(102,102,102)" fill-opacity="0.75" stroke="rgb(169,169,169)" stroke-opacity="0.50" stroke-width="1.4" stroke-linejoin="round"/>
<polygon points="876.1,731.8 872.6,726.7 875.3,719.1 880.5,715.0 888.2,719.0 889.8,728.9 884.3,733.2" fill="rgb(135,135,135)" fill-opacity="0.75" stroke="rgb(220,220,220)" stroke-opacity="0.73" stroke-width="1.4" stroke-linejoin="round"/>
<polygon points="661.1,676.6 654.5,678.7 649.1,671.9 647.6,666.2 653.4,656.5 661.7,653.5 668.1,657.2 670.8,666.0 669.1,671.0" fill="rgb(92,92,92)" fill-opacity="0.75" stroke="rgb(157,157,157)" stroke-opacity="0.45" stroke-width="1.4" stroke-linejoin="round"/>
<polygon points="913.2,652.4 916.2,663.6 912.6,671.6 900.4,673.7 889.5,663.9 889.2,658.0 900.0,646.9 904.4,646.2" fill="rgb(102,102,102)" fill-opacity="0.75" stroke="rgb(160,160,160)" stroke-opacity="0.46" stroke-width="1.4" stroke-linejoin="round"/>
<polygon points="618.6,688.6 625.2,694.8 623.0,707.5 618.7,712.1 606.3,709.6 601.9,704.1 604.0,692.4 613.2,689.3" fill="rgb(100,100,100)" fill-opacity="0.75" stroke="rgb(159,159,159)" stroke-opacity="0.46" stroke-width="1.4" stroke-linejoin="round"/>
<polygon points="617.8,530.2 621.4,524.1 629.8,518.5 637.7,518.2 643.5,532.1 640.0,542.7 634.5,544.1 620.0,540.3" fill="rgb(97,97,97)" fill-opacity="0.75" stroke="rgb(161,161,161)" stroke-opacity="0.46" stroke-width="1.4" stroke-linejoin="round"/>
<polygon points="556.8,502.1 549.7,492.3 549.7,481.8 558.8,479.4 569.4,480.4 576.8,491.3 574.0,501.6 563.4,502.4" fill="rgb(96,96,96)" fill-opacity="0.75" stroke="rgb(161,161,161)" stroke-opacity="0.46" stroke-width="1.4" stroke-linejoin="round"/>
<polygon points="763.8,615.2 776.6,616.7 782.7,621.7 780.9,633.6 771.7,637.7 762.4,636.5 759.4,623.5" fill="rgb(90,90,90)" fill-opacity="0.75" stroke="rgb(142,142,142)" stroke-opacity="0.38" stroke-width="1.4" stroke-linejoin="round"/>
<polygon points="918.2,534.6 911.1,540.8 902.7,541.0 896.4,535.4 898.8,531.4 903.4,523.0 908.6,523.8 915.5,527.1" fill="rgb(98,98,98)" fill-opacity="0.75" stroke="rgb(161,161,161)" stroke-opacity="0.46" stroke-width="1.4" stroke-linejoin="round"/>
<polygon points="767.6,580.6 764.6,568.9 768.5,559.8 780.7,561.7 785.4,567.8 786.2,575.8 777.1,582.9" fill="rgb(95,95,95)" fill-opacity="0.75" stroke="rgb(158,158,158)" stroke-opacity="0.45" stroke-width="1.4" stroke-linejoin="round"/>
<polygon points="820.1,638.6 813.5,648.9 805.6,650.3 797.4,644.4 798.3,636.2 806.4,626.2 813.0,627.5 819.9,631.1" fill="rgb(143,143,143)" fill-opacity="0.75" stroke="rgb(236,236,236)" stroke-opacity="0.75" stroke-width="1.4" stroke-linejoin="round"/>
<polygon points="830.2,638.2 820.4,638.1 813.7,628.8 813.5,622.0 822.3,616.5 830.8,618.9 833.9,632.0" fill="rgb(161,161,161)" fill-opacity="0.75" stroke="rgb(240,240,240)" stroke-opacity="0.75" stroke-width="1.4" stroke-linejoin="round"/>
<polygon points="768.1,563.5 766.6,569.3 758.6,579.6 751.6,578.9 746.1,569.5 747.9,560.5 750.8,557.4 761.6,558.6" fill="rgb(110,110,110)" fill-opacity="0.75" stroke="rgb(158,158,158)" stroke-opacity="0.45" stroke-width="1.4" stroke-linejoin="round"/>
<polygon points="596.2,618.7 600.1,615.8 611.8,617.8 614.0,623.7 610.0,634.3 603.4,640.4 591.8,635.6 591.7,625.7" fill="rgb(111,111,111)" fill-opacity="0.75" stroke="rgb(181,181,181)" stroke-opacity="0.56" stroke-width="1.4" stroke-linejoin="round"/>
<polygon points="839.3,693.1 834.9,703.4 825.0,709.0 817.4,703.9 818.5,692.1 821.3,685.0 831.3,687.3" fill="rgb(100,100,100)" fill-opacity="0.75" stroke="rgb(171,171,171)" stroke-opacity="0.51" stroke-width="1.4" stroke-linejoin="round"/>
<polygon points="724.5,622.0 721.3,630.6 711.5,636.1 701.7,629.1 700.6,619.4 708.3,613.2 721.4,612.8" fill="rgb(98,98,98)" fill-opacity="0.75" stroke="rgb(164,164,164)" stroke-opacity="0.48" stroke-width="1.4" stroke-linejoin="round"/>
<polygon points="909.4,592.5 907.7,598.5 897.5,600.1 888.8,595.4 887.4,591.9 889.9,582.2 899.7,578.7 902.9,577.3 908.4,584.4" fill="rgb(101,101,101)" fill-opacity="0.75" stroke="rgb(155,155,155)" stroke-opacity="0.44" stroke-width="1.4" stroke-linejoin="round"/>
<polygon points="498.2,474.2 514.7,475.4 519.0,491.0 510.8,500.6 503.8,501.5 490.7,495.8 490.9,481.7" fill="rgb(100,100,100)" fill-opacity="0.75" stroke="rgb(161,161,161)" stroke-opacity="0.46" stroke-width="1.4" stroke-linejoin="round"/>
<polygon points="530.4,636.6 520.3,635.1 516.3,634.9 513.7,626.8 515.3,616.7 525.0,613.9 531.0,615.9 537.2,619.6 537.8,628.9" fill="rgb(158,158,158)" fill-opacity="0.75" stroke="rgb(241,241,241)" stroke-opacity="0.75" stroke-width="1.4" stroke-linejoin="round"/>
<polygon points="528.2,501.7 521.7,502.6 512.3,494.6 515.4,485.7 518.8,477.8 529.1,476.2 536.9,479.2 538.8,487.8 536.6,495.7" fill="rgb(111,111,111)" fill-opacity="0.75" stroke="rgb(161,161,161)" stroke-opacity="0.46" stroke-width="1.4" stroke-linejoin="round"/>
<polygon points="619.0,793.3 614.5,791.8 607.4,781.1 606.6,774.0 615.0,766.6 625.8,769.5 631.0,776.8 633.0,788.3" fill="rgb(92,92,92)" fill-opacity="0.75" stroke="rgb(153,153,153)" stroke-opacity="0.43" stroke-width="1.4" stroke-linejoin="round"/>
<polygon points="711.6,681.3 705.3,673.3 702.2,661.6 706.0,659.3 715.9,653.8 722.7,655.7 731.2,666.6 730.9,671.6 719.6,680.7" fill="rgb(153,153,153)" fill-opacity="0.75" stroke="rgb(239,239,239)" stroke-opacity="0.75" stroke-width="1.4" stroke-linejoin="round"/>
<polygon points="851.5,582.7 846.6,579.0 844.6,567.4 849.7,559.8 857.2,557.6 865.7,559.2 871.2,569.5 868.8,578.3 867.3,584.0" fill="rgb(96,96,96)" fill-opacity="0.75" stroke="rgb(161,161,161)" stroke-opacity="0.46" stroke-width="1.4" stroke-linejoin="round"/>
<polygon points="749.2,696.7 743.3,693.1 741.8,684.9 746.7,677.0 752.4,676.2 761.7,680.9 762.1,690.8 755.9,698.0" fill="rgb(131,131,131)" fill-opacity="0.75" stroke="rgb(218,218,218)" stroke-opacity="0.72" stroke-width="1.4" stroke-linejoin="round"/>
<polygon points="697.1,670.0 690.0,672.1 681.6,663.1 687.3,654.2 691.7,651.8 703.7,656.5 704.7,665.1" fill="rgb(145,145,145)" fill-opacity="0.75" stroke="rgb(224,224,224)" stroke-opacity="0.75" stroke-width="1.4" stroke-linejoin="round"/>
<polygon points="743.1,514.0 758.1,513.6 760.9,520.4 761.7,532.8 753.4,539.4 738.8,535.1 738.2,528.6" fill="rgb(111,111,111)" fill-opacity="0.75" stroke="rgb(174,174,174)" stroke-opacity="0.53" stroke-width="1.4" stroke-linejoin="round"/>
<polygon points="923.2,482.7 930.2,484.5 934.6,493.3 929.5,499.8 925.7,502.4 917.1,498.1 916.8,493.7 918.2,485.3" fill="rgb(106,106,106)" fill-opacity="0.75" stroke="rgb(161,161,161)" stroke-opacity="0.46" stroke-width="1.4" stroke-linejoin="round"/>
<polygon points="615.8,634.9 609.7,623.9 613.4,613.9 622.1,608.2 631.7,612.7 633.2,624.7 629.7,632.5" fill="rgb(137,137,137)" fill-opacity="0.75" stroke="rgb(212,212,212)" stroke-opacity="0.70" stroke-width="1.4" stroke-linejoin="round"/>
<polygon points="509.1,516.7 500.8,517.5 494.4,515.1 491.7,502.1 497.6,495.3 505.3,495.1 513.1,496.9 515.7,503.4 515.6,513.2" fill="rgb(108,108,108)" fill-opacity="0.75" stroke="rgb(161,161,161)" stroke-opacity="0.46" stroke-width="1.4" stroke-linejoin="round"/>
<polygon points="799.8,581.0 806.1,574.6 817.8,575.3 822.7,584.7 823.6,596.9 811.5,604.5 803.3,600.9 798.8,588.6" fill="rgb(117,117,117)" fill-opacity="0.75" stroke="rgb(170,170,170)" stroke-opacity="0.51" stroke-width="1.4" stroke-linejoin="round"/>
<polygon points="659.9,595.3 658.1,588.2 659.4,578.2 666.4,572.3 676.6,576.3 680.1,586.4 678.8,593.4 672.6,598.5" fill="rgb(146,146,146)" fill-opacity="0.75" stroke="rgb(223,223,223)" stroke-opacity="0.74" stroke-width="1.4" stroke-linejoin="round"/>
<polygon points="635.9,638.3 630.9,645.9 619.6,649.7 617.0,644.8 611.9,636.2 619.1,627.0 627.6,625.2 637.1,633.2" fill="rgb(121,121,121)" fill-opacity="0.75" stroke="rgb(178,178,178)" stroke-opacity="0.54" stroke-width="1.4" stroke-linejoin="round"/>
<polygon points="564.8,689.6 557.6,697.4 547.4,696.0 542.7,689.0 543.4,683.0 545.3,676.6 556.7,673.2 565.8,678.4 566.4,687.4" fill="rgb(140,140,140)" fill-opacity="0.75" stroke="rgb(229,229,229)" stroke-opacity="0.75" stroke-width="1.4" stroke-linejoin="round"/>
<polygon points="708.6,736.9 717.4,735.6 721.4,744.8 720.3,752.5 710.3,755.5 702.4,747.1 701.3,740.7" fill="rgb(87,87,87)" fill-opacity="0.75" stroke="rgb(147,147,147)" stroke-opacity="0.40" stroke-width="1.4" stroke-linejoin="round"/>
<polygon points="639.7,716.1 641.1,701.7 653.5,700.7 659.8,701.3 665.4,715.4 655.4,726.9 645.8,728.0" fill="rgb(121,121,121)" fill-opacity="0.75" stroke="rgb(184,184,184)" stroke-opacity="0.57" stroke-width="1.4" stroke-linejoin="round"/>
<polygon points="572.9,701.2 571.0,695.1 572.4,689.7 577.2,687.0 583.2,687.5 586.9,690.4 588.9,695.7 585.0,703.8 579.0,704.9" fill="rgb(128,128,128)" fill-opacity="0.75" stroke="rgb(205,205,205)" stroke-opacity="0.66" stroke-width="1.4" stroke-linejoin="round"/>
<polygon points="687.3,753.1 684.6,763.3 678.1,766.5 671.6,764.9 667.8,755.5 669.0,752.1 677.0,747.9 684.1,749.9" fill="rgb(114,114,114)" fill-opacity="0.75" stroke="rgb(168,168,168)" stroke-opacity="0.50" stroke-width="1.4" stroke-linejoin="round"/>
<polygon points="495.8,537.4 488.3,532.0 487.6,523.4 490.8,518.2 501.7,515.3 505.5,515.6 509.7,524.5 510.2,530.9 501.8,536.3" fill="rgb(110,110,110)" fill-opacity="0.75" stroke="rgb(161,161,161)" stroke-opacity="0.46" stroke-width="1.4" stroke-linejoin="round"/>
<polygon points="622.4,482.4 627.6,486.6 632.2,492.5 627.5,500.0 623.0,502.7 615.7,502.3 610.9,493.6 615.8,486.0" fill="rgb(99,99,99)" fill-opacity="0.75" stroke="rgb(161,161,161)" stroke-opacity="0.46" stroke-width="1.4" stroke-linejoin="round"/>
<polygon points="631.2,672.9 638.2,666.2 644.1,664.9 651.1,669.3 651.1,681.5 641.6,684.9 632.3,683.1" fill="rgb(102,102,102)" fill-opacity="0.75" stroke="rgb(159,159,159)" stroke-opacity="0.46" stroke-width="1.4" stroke-linejoin="round"/>
<polygon points="831.6,735.1 842.8,730.3 848.9,732.6 850.0,738.6 851.4,747.1 842.4,751.4 835.6,748.6 831.5,740.9" fill="rgb(118,118,118)" fill-opacity="0.75" stroke="rgb(174,174,174)" stroke-opacity="0.53" stroke-width="1.4" stroke-linejoin="round"/>
<polygon points="689.6,564.8 684.4,564.6 674.2,563.0 669.6,562.2 669.9,549.3 673.9,544.5 682.4,542.7 688.9,545.2 691.7,554.7" fill="rgb(114,114,114)" fill-opacity="0.75" stroke="rgb(168,168,168)" stroke-opacity="0.50" stroke-width="1.4" stroke-linejoin="round"/>
<polygon points="553.7,615.0 561.3,609.5 570.2,611.9 572.5,621.2 568.0,628.6 559.0,630.1 553.1,622.0" fill="rgb(160,160,160)" fill-opacity="0.75" stroke="rgb(245,245,245)" stroke-opacity="0.75" stroke-width="1.4" stroke-linejoin="round"/>
<polygon points="823.4,514.9 819.5,506.9 819.5,503.3 824.7,496.3 830.7,493.9 837.1,499.7 840.4,505.1 835.0,513.6 829.4,516.8" fill="rgb(97,97,97)" fill-opacity="0.75" stroke="rgb(161,161,161)" stroke-opacity="0.46" stroke-width="1.4" stroke-linejoin="round"/>
<polygon points="681.9,721.8 682.7,726.8 676.0,730.9 669.2,732.1 665.0,725.1 667.2,716.1 671.3,713.5 679.9,716.6" fill="rgb(141,141,141)" fill-opacity="0.75" stroke="rgb(208,208,208)" stroke-opacity="0.68" stroke-width="1.4" stroke-linejoin="round"/>
<polygon points="471.1,619.7 476.4,611.3 488.0,609.3 492.8,613.6 496.1,623.7 493.2,631.9 479.5,634.1 472.9,628.9" fill="rgb(115,115,115)" fill-opacity="0.75" stroke="rgb(172,172,172)" stroke-opacity="0.52" stroke-width="1.4" stroke-linejoin="round"/>
<polygon points="493.7,537.1 483.7,533.7 479.5,526.8 480.9,519.8 486.7,515.8 493.4,514.4 499.8,518.0 502.8,525.5 498.3,535.1" fill="rgb(97,97,97)" fill-opacity="0.75" stroke="rgb(161,161,161)" stroke-opacity="0.46" stroke-width="1.4" stroke-linejoin="round"/>
<polygon points="753.9,492.3 758.8,486.6 769.9,485.2 778.9,491.1 777.9,497.8 771.5,508.0 765.8,508.5 757.1,503.8" fill="rgb(114,114,114)" fill-opacity="0.75" stroke="rgb(177,177,177)" stroke-opacity="0.54" stroke-width="1.4" stroke-linejoin="round"/>
<polygon points="651.1,460.2 658.7,459.1 668.8,464.3 670.0,467.6 667.2,478.0 662.7,480.6 657.0,481.5 649.4,474.8 648.9,466.3" fill="rgb(104,104,104)" fill-opacity="0.75" stroke="rgb(160,160,160)" stroke-opacity="0.46" stroke-width="1.4" stroke-linejoin="round"/>
<polygon points="813.6,641.3 819.4,634.3 828.5,636.1 834.7,638.7 836.5,648.2 832.6,656.4 821.2,661.0 814.3,652.1" fill="rgb(153,153,153)" fill-opacity="0.75" stroke="rgb(232,232,232)" stroke-opacity="0.75" stroke-width="1.4" stroke-linejoin="round"/>
<polygon points="498.4,746.3 498.7,757.0 494.6,761.4 485.8,762.6 480.8,757.1 478.4,751.1 483.7,744.8 489.3,742.4" fill="rgb(107,107,107)" fill-opacity="0.75" stroke="rgb(161,161,161)" stroke-opacity="0.46" stroke-width="1.4" stroke-linejoin="round"/>
<polygon points="816.4,689.6 814.4,678.2 825.7,671.0 835.8,675.6 839.2,687.3 833.8,696.4 821.3,695.3" fill="rgb(107,107,107)" fill-opacity="0.75" stroke="rgb(168,168,168)" stroke-opacity="0.50" stroke-width="1.4" stroke-linejoin="round"/>
<polygon points="545.2,574.2 549.4,559.1 561.4,556.0 570.9,560.3 573.6,571.3 566.0,581.0 552.1,580.1" fill="rgb(109,109,109)" fill-opacity="0.75" stroke="rgb(165,165,165)" stroke-opacity="0.48" stroke-width="1.4" stroke-linejoin="round"/>
<polygon points="768.3,539.9 759.4,531.8 760.0,521.8 771.7,514.5 779.1,512.9 786.2,523.8 784.9,531.7 774.2,541.5" fill="rgb(117,117,117)" fill-opacity="0.75" stroke="rgb(179,179,179)" stroke-opacity="0.55" stroke-width="1.4" stroke-linejoin="round"/>
<polygon points="501.6,687.2 497.6,687.3 492.9,681.5 491.7,671.3 495.4,666.8 503.5,665.4 507.7,669.4 510.4,676.9 508.9,684.3" fill="rgb(104,104,104)" fill-opacity="0.75" stroke="rgb(177,177,177)" stroke-opacity="0.54" stroke-width="1.4" stroke-linejoin="round"/>
<polygon points="594.8,600.1 584.3,605.2 574.2,602.3 568.5,591.3 575.2,580.1 585.8,574.2 597.5,587.2" fill="rgb(106,106,106)" fill-opacity="0.75" stroke="rgb(175,175,175)" stroke-opacity="0.53" stroke-width="1.4" stroke-linejoin="round"/>
<polygon points="779.9,510.8 773.8,516.8 766.6,517.2 762.4,513.5 761.4,508.9 765.9,501.7 771.7,501.1 775.5,502.6" fill="rgb(122,122,122)" fill-opacity="0.75" stroke="rgb(182,182,182)" stroke-opacity="0.56" stroke-width="1.4" stroke-linejoin="round"/>
<polygon points="509.8,645.0 495.5,636.8 497.3,623.8 501.7,616.3 510.7,615.3 520.1,623.2 523.9,631.1 514.6,640.2" fill="rgb(130,130,130)" fill-opacity="0.75" stroke="rgb(203,203,203)" stroke-opacity="0.65" stroke-width="1.4" stroke-linejoin="round"/>
<polygon points="517.7,583.9 521.4,589.4 516.4,601.3 509.5,603.3 500.8,598.8 496.1,591.6 501.3,582.1 507.6,576.9" fill="rgb(106,106,106)" fill-opacity="0.75" stroke="rgb(161,161,161)" stroke-opacity="0.47" stroke-width="1.4" stroke-linejoin="round"/>
<polygon points="855.9,615.6 849.7,610.6 849.4,592.0 856.4,588.4 873.5,588.3 875.0,601.0 872.8,611.6" fill="rgb(118,118,118)" fill-opacity="0.75" stroke="rgb(185,185,185)" stroke-opacity="0.57" stroke-width="1.4" stroke-linejoin="round"/>
<polygon points="494.6,631.7 501.1,630.6 509.9,631.9 513.7,641.6 512.1,649.8 504.7,655.7 493.1,650.2 489.4,642.4" fill="rgb(128,128,128)" fill-opacity="0.75" stroke="rgb(190,190,190)" stroke-opacity="0.60" stroke-width="1.4" stroke-linejoin="round"/>
<polygon points="855.9,538.0 862.2,534.9 868.9,537.4 874.1,549.1 875.7,555.1 864.6,561.1 854.8,561.8 849.2,554.8 847.9,548.8" fill="rgb(107,107,107)" fill-opacity="0.75" stroke="rgb(161,161,161)" stroke-opacity="0.46" stroke-width="1.4" stroke-linejoin="round"/>
<polygon points="512.0,786.9 504.0,786.0 496.6,774.2 501.0,765.4 510.3,761.6 522.6,770.3 519.0,780.6" fill="rgb(102,102,102)" fill-opacity="0.75" stroke="rgb(160,160,160)" stroke-opacity="0.46" stroke-width="1.4" stroke-linejoin="round"/>
<polygon points="911.8,503.7 914.8,518.2 910.9,526.2 899.1,524.5 887.6,515.5 889.7,503.7 905.2,498.8" fill="rgb(99,99,99)" fill-opacity="0.75" stroke="rgb(161,161,161)" stroke-opacity="0.46" stroke-width="1.4" stroke-linejoin="round"/>
<polygon points="720.2,601.1 716.3,591.9 721.5,585.6 731.1,581.1 736.7,585.4 738.1,599.2 729.6,602.6" fill="rgb(81,81,81)" fill-opacity="0.75" stroke="rgb(140,140,140)" stroke-opacity="0.37" stroke-width="1.4" stroke-linejoin="round"/>
<polygon points="590.0,521.7 585.2,511.0 589.2,498.3 603.9,498.4 610.7,507.3 608.4,514.5 596.7,523.9" fill="rgb(102,102,102)" fill-opacity="0.75" stroke="rgb(161,161,161)" stroke-opacity="0.46" stroke-width="1.4" stroke-linejoin="round"/>
<polygon points="778.7,647.8 780.6,637.7 786.6,634.0 795.3,633.9 800.3,638.2 801.1,652.1 798.6,657.2 786.3,658.7 781.6,655.3" fill="rgb(127,127,127)" fill-opacity="0.75" stroke="rgb(190,190,190)" stroke-opacity="0.59" stroke-width="1.4" stroke-linejoin="round"/>
<polygon points="589.1,704.9 585.7,692.4 594.9,687.0 604.0,690.5 605.5,697.1 601.8,705.6 595.9,708.7" fill="rgb(123,123,123)" fill-opacity="0.75" stroke="rgb(176,176,176)" stroke-opacity="0.53" stroke-width="1.4" stroke-linejoin="round"/>
<polygon points="655.1,525.3 656.4,527.2 660.9,532.5 660.6,538.3 652.2,543.5 649.5,543.2 645.5,538.1 642.8,533.2 648.4,524.2" fill="rgb(104,104,104)" fill-opacity="0.75" stroke="rgb(161,161,161)" stroke-opacity="0.46" stroke-width="1.4" stroke-linejoin="round"/>
<polygon points="785.4,498.7 797.8,501.7 801.4,512.7 792.7,523.2 781.6,524.5 775.7,519.4 773.7,508.2" fill="rgb(127,127,127)" fill-opacity="0.75" stroke="rgb(186,186,186)" stroke-opacity="0.58" stroke-width="1.4" stroke-linejoin="round"/>
<polygon points="654.1,570.9 664.7,571.6 675.2,577.6 673.1,588.2 662.6,595.8 654.5,595.3 650.6,580.9" fill="rgb(140,140,140)" fill-opacity="0.75" stroke="rgb(223,223,223)" stroke-opacity="0.74" stroke-width="1.4" stroke-linejoin="round"/>
<polygon points="714.2,482.0 709.4,476.9 708.7,470.1 714.5,464.8 721.9,465.0 723.9,466.4 730.4,471.1 727.0,479.8 721.3,483.4" fill="rgb(93,93,93)" fill-opacity="0.75" stroke="rgb(133,133,133)" stroke-opacity="0.34" stroke-width="1.4" stroke-linejoin="round"/>
<polygon points="714.3,623.9 710.2,616.7 706.5,611.7 713.8,604.3 722.3,599.4 728.9,606.6 731.5,609.3 729.6,616.6 720.0,623.2" fill="rgb(92,92,92)" fill-opacity="0.75" stroke="rgb(149,149,149)" stroke-opacity="0.41" stroke-width="1.4" stroke-linejoin="round"/>
<polygon points="854.6,750.0 866.7,750.7 873.8,753.6 874.7,764.0 865.4,773.5 860.9,773.3 852.1,766.1 848.7,759.6" fill="rgb(102,102,102)" fill-opacity="0.75" stroke="rgb(167,167,167)" stroke-opacity="0.49" stroke-width="1.4" stroke-linejoin="round"/>
<polygon points="496.7,647.0 500.2,653.9 495.2,666.6 486.3,670.7 478.4,670.3 473.1,654.8 478.6,647.8 488.5,641.8" fill="rgb(120,120,120)" fill-opacity="0.75" stroke="rgb(178,178,178)" stroke-opacity="0.54" stroke-width="1.4" stroke-linejoin="round"/>
<polygon points="835.2,674.9 840.8,669.2 846.5,669.0 851.3,674.0 852.8,680.9 846.2,686.3 842.0,685.4 836.0,679.7" fill="rgb(118,118,118)" fill-opacity="0.75" stroke="rgb(195,195,195)" stroke-opacity="0.62" stroke-width="1.4" stroke-linejoin="round"/>
<polygon points="688.7,694.2 681.1,692.0 680.3,684.6 690.2,675.3 695.9,675.7 701.2,682.7 700.2,692.2" fill="rgb(146,146,146)" fill-opacity="0.75" stroke="rgb(238,238,238)" stroke-opacity="0.75" stroke-width="1.4" stroke-linejoin="round"/>
<polygon points="720.8,480.0 724.4,467.6 734.0,465.0 741.4,469.4 742.0,475.9 738.9,484.7 733.5,488.5 726.7,485.4" fill="rgb(103,103,103)" fill-opacity="0.75" stroke="rgb(147,147,147)" stroke-opacity="0.40" stroke-width="1.4" stroke-linejoin="round"/>
<polygon points="504.8,461.4 512.5,463.4 516.6,467.4 520.4,477.0 513.8,483.0 506.0,484.1 500.0,479.0 498.6,469.6" fill="rgb(111,111,111)" fill-opacity="0.75" stroke="rgb(161,161,161)" stroke-opacity="0.46" stroke-width="1.4" stroke-linejoin="round"/>
<polygon points="526.5,724.5 534.1,727.6 539.9,740.6 536.0,750.2 523.7,752.8 514.6,749.0 510.5,739.2 510.9,728.8" fill="rgb(92,92,92)" fill-opacity="0.75" stroke="rgb(152,152,152)" stroke-opacity="0.42" stroke-width="1.4" stroke-linejoin="round"/>
<polygon points="629.2,707.4 618.8,699.0 618.7,691.0 624.4,683.6 630.8,682.9 640.0,685.3 644.1,688.8 643.6,698.1 637.3,705.1" fill="rgb(103,103,103)" fill-opacity="0.75" stroke="rgb(161,161,161)" stroke-opacity="0.46" stroke-width="1.4" stroke-linejoin="round"/>
<polygon points="713.0,730.3 717.4,721.6 724.8,721.7 734.8,720.5 741.1,728.5 741.4,739.8 734.0,745.5 720.7,744.6 715.9,742.7" fill="rgb(99,99,99)" fill-opacity="0.75" stroke="rgb(139,139,139)" stroke-opacity="0.37" stroke-width="1.4" stroke-linejoin="round"/>
<polygon points="898.6,771.6 900.0,779.9 895.2,784.1 889.6,786.1 884.0,781.9 880.5,775.5 886.9,767.7 894.6,769.2" fill="rgb(104,104,104)" fill-opacity="0.75" stroke="rgb(161,161,161)" stroke-opacity="0.47" stroke-width="1.4" stroke-linejoin="round"/>
<polygon points="583.6,656.5 587.6,665.8 586.5,669.1 578.7,671.7 571.8,668.9 569.0,662.2 572.0,656.4 580.2,654.3" fill="rgb(124,124,124)" fill-opacity="0.75" stroke="rgb(208,208,208)" stroke-opacity="0.68" stroke-width="1.4" stroke-linejoin="round"/>
<polygon points="917.6,561.1 912.4,560.2 908.9,555.1 908.4,546.8 913.2,542.1 922.0,540.4 923.1,544.2 928.7,551.2 925.8,558.1" fill="rgb(104,104,104)" fill-opacity="0.75" stroke="rgb(161,161,161)" stroke-opacity="0.46" stroke-width="1.4" stroke-linejoin="round"/>
<polygon points="889.7,510.6 884.8,520.4 876.6,519.0 872.1,515.4 870.8,511.5 876.8,503.2 881.3,503.0 889.9,507.6" fill="rgb(99,99,99)" fill-opacity="0.75" stroke="rgb(161,161,161)" stroke-opacity="0.46" stroke-width="1.4" stroke-linejoin="round"/>
<polygon points="851.2,784.7 842.5,794.2 831.0,788.9 826.6,779.2 832.5,770.1 845.3,768.8 853.0,776.9" fill="rgb(111,111,111)" fill-opacity="0.75" stroke="rgb(161,161,161)" stroke-opacity="0.46" stroke-width="1.4" stroke-linejoin="round"/>
<polygon points="548.1,690.8 556.5,694.5 555.6,701.3 554.3,710.9 548.1,713.5 536.4,709.6 534.5,702.1 536.3,693.6" fill="rgb(116,116,116)" fill-opacity="0.75" stroke="rgb(197,197,197)" stroke-opacity="0.63" stroke-width="1.4" stroke-linejoin="round"/>
<polygon points="720.6,598.2 715.9,600.4 711.2,600.8 704.1,596.5 703.6,594.0 708.1,586.5 712.4,583.2 717.5,586.0 720.2,591.0" fill="rgb(107,107,107)" fill-opacity="0.75" stroke="rgb(175,175,175)" stroke-opacity="0.53" stroke-width="1.4" stroke-linejoin="round"/>
<polygon points="635.5,693.5 623.4,697.2 617.6,695.3 614.8,687.4 621.2,676.4 627.8,675.5 634.2,682.6" fill="rgb(95,95,95)" fill-opacity="0.75" stroke="rgb(161,161,161)" stroke-opacity="0.46" stroke-width="1.4" stroke-linejoin="round"/>
<polygon points="516.1,665.8 522.4,657.4 532.6,655.5 538.8,662.5 542.5,669.6 536.1,678.7 525.1,679.7 519.5,674.1" fill="rgb(139,139,139)" fill-opacity="0.75" stroke="rgb(213,213,213)" stroke-opacity="0.70" stroke-width="1.4" stroke-linejoin="round"/>
<polygon points="628.0,635.0 634.3,628.3 637.9,628.3 643.3,630.7 644.5,640.2 641.4,646.7 635.6,645.6 629.3,643.9 627.8,637.7" fill="rgb(108,108,108)" fill-opacity="0.75" stroke="rgb(170,170,170)" stroke-opacity="0.51" stroke-width="1.4" stroke-linejoin="round"/>
<polygon points="927.7,701.0 922.2,703.5 913.3,701.1 910.4,694.8 912.1,689.9 916.3,684.8 924.0,686.0 929.6,693.4" fill="rgb(111,111,111)" fill-opacity="0.75" stroke="rgb(179,179,179)" stroke-opacity="0.55" stroke-width="1.4" stroke-linejoin="round"/>
<polygon points="740.1,669.8 736.6,663.1 737.2,651.1 744.5,649.0 751.1,651.2 755.3,661.4 752.2,669.1" fill="rgb(136,136,136)" fill-opacity="0.75" stroke="rgb(204,204,204)" stroke-opacity="0.66" stroke-width="1.4" stroke-linejoin="round"/>
<polygon points="645.9,566.8 637.0,573.8 628.2,574.6 623.7,571.0 622.5,558.5 625.7,552.5 639.2,550.3 644.3,556.3" fill="rgb(113,113,113)" fill-opacity="0.75" stroke="rgb(188,188,188)" stroke-opacity="0.59" stroke-width="1.4" stroke-linejoin="round"/>
<polygon points="699.5,726.1 698.3,721.4 702.6,715.1 711.1,713.4 714.7,715.8 717.6,722.2 712.1,729.3 704.8,730.8" fill="rgb(112,112,112)" fill-opacity="0.75" stroke="rgb(190,190,190)" stroke-opacity="0.59" stroke-width="1.4" stroke-linejoin="round"/>
<polygon points="808.5,685.0 816.7,685.3 820.2,694.9 814.7,704.6 804.5,702.1 800.1,698.0 802.4,687.8" fill="rgb(97,97,97)" fill-opacity="0.75" stroke="rgb(161,161,161)" stroke-opacity="0.47" stroke-width="1.4" stroke-linejoin="round"/>
<polygon points="831.4,466.6 835.1,471.5 836.6,480.6 830.7,489.3 818.8,486.8 814.6,483.5 813.4,471.0 816.6,466.1" fill="rgb(109,109,109)" fill-opacity="0.75" stroke="rgb(161,161,161)" stroke-opacity="0.46" stroke-width="1.4" stroke-linejoin="round"/>
<polygon points="656.9,496.6 652.5,491.5 652.2,484.5 655.4,476.6 665.8,476.0 667.3,479.4 671.5,484.9 671.4,494.1 662.3,497.2" fill="rgb(111,111,111)" fill-opacity="0.75" stroke="rgb(160,160,160)" stroke-opacity="0.46" stroke-width="1.4" stroke-linejoin="round"/>
<polygon points="536.1,556.0 533.9,546.6 543.4,540.2 549.4,542.0 555.0,549.9 548.9,560.5 539.8,559.6" fill="rgb(102,102,102)" fill-opacity="0.75" stroke="rgb(161,161,161)" stroke-opacity="0.46" stroke-width="1.4" stroke-linejoin="round"/>
<polygon points="482.0,695.5 490.6,697.4 496.0,703.3 491.2,709.5 485.8,712.4 478.6,710.1 476.8,704.5 476.7,700.2" fill="rgb(112,112,112)" fill-opacity="0.75" stroke="rgb(161,161,161)" stroke-opacity="0.46" stroke-width="1.4" stroke-linejoin="round"/>
<polygon points="595.9,759.7 590.9,768.0 583.7,771.3 577.7,764.6 577.5,759.8 584.5,752.1 592.1,754.5" fill="rgb(73,73,73)" fill-opacity="0.75" stroke="rgb(127,127,127)" stroke-opacity="0.31" stroke-width="1.4" stroke-linejoin="round"/>
<polygon points="902.6,636.1 900.7,643.8 893.6,649.8 883.7,645.5 879.3,640.3 880.7,631.3 892.4,626.4 895.9,628.9" fill="rgb(81,81,81)" fill-opacity="0.75" stroke="rgb(131,131,131)" stroke-opacity="0.33" stroke-width="1.4" stroke-linejoin="round"/>
<polygon points="589.3,541.3 581.6,543.2 574.1,538.8 574.3,530.5 579.4,526.5 589.7,529.6 592.9,534.4" fill="rgb(113,113,113)" fill-opacity="0.75" stroke="rgb(161,161,161)" stroke-opacity="0.46" stroke-width="1.4" stroke-linejoin="round"/>
<polygon points="781.9,674.2 788.3,681.1 783.7,693.1 779.2,693.8 769.1,695.0 763.8,687.3 764.5,677.5 774.1,669.5" fill="rgb(107,107,107)" fill-opacity="0.75" stroke="rgb(164,164,164)" stroke-opacity="0.48" stroke-width="1.4" stroke-linejoin="round"/>
<polygon points="863.4,546.1 859.8,542.7 857.7,534.1 860.8,531.0 866.2,526.8 872.7,530.5 874.9,536.9 872.4,542.7" fill="rgb(107,107,107)" fill-opacity="0.75" stroke="rgb(161,161,161)" stroke-opacity="0.46" stroke-width="1.4" stroke-linejoin="round"/>
<polygon points="869.3,474.2 878.3,477.7 881.8,483.6 878.8,493.9 867.2,498.4 862.6,494.5 858.7,491.4 857.4,482.7 865.4,474.2" fill="rgb(109,109,109)" fill-opacity="0.75" stroke="rgb(161,161,161)" stroke-opacity="0.46" stroke-width="1.4" stroke-linejoin="round"/>
<polygon points="632.8,561.4 626.8,557.6 627.7,544.9 632.4,542.2 641.8,546.3 645.5,555.1 640.1,560.4" fill="rgb(109,109,109)" fill-opacity="0.75" stroke="rgb(168,168,168)" stroke-opacity="0.50" stroke-width="1.4" stroke-linejoin="round"/>
<polygon points="543.8,515.3 544.6,508.1 551.0,501.7 560.7,500.6 566.6,510.7 563.9,519.2 555.1,522.0" fill="rgb(97,97,97)" fill-opacity="0.75" stroke="rgb(161,161,161)" stroke-opacity="0.46" stroke-width="1.4" stroke-linejoin="round"/>
<polygon points="671.9,528.2 666.9,526.1 660.6,516.2 668.1,507.0 676.4,504.1 689.4,508.4 690.2,519.8 681.3,527.8" fill="rgb(99,99,99)" fill-opacity="0.75" stroke="rgb(157,157,157)" stroke-opacity="0.45" stroke-width="1.4" stroke-linejoin="round"/>
<polygon points="608.2,574.9 611.2,582.2 607.7,590.4 597.9,594.0 589.6,588.4 590.8,580.5 594.4,575.5 599.4,573.3" fill="rgb(120,120,120)" fill-opacity="0.75" stroke="rgb(190,190,190)" stroke-opacity="0.59" stroke-width="1.4" stroke-linejoin="round"/>
<polygon points="617.8,599.8 627.3,600.9 633.0,605.9 632.1,616.5 626.0,623.1 613.9,622.3 611.9,610.1" fill="rgb(133,133,133)" fill-opacity="0.75" stroke="rgb(222,222,222)" stroke-opacity="0.74" stroke-width="1.4" stroke-linejoin="round"/>
<polygon points="549.2,601.2 548.3,609.4 539.0,616.2 530.2,611.0 526.8,605.6 533.2,592.9 543.3,594.1" fill="rgb(156,156,156)" fill-opacity="0.75" stroke="rgb(245,245,245)" stroke-opacity="0.75" stroke-width="1.4" stroke-linejoin="round"/>
<polygon points="549.9,595.8 558.3,592.5 566.1,596.2 566.3,602.2 563.6,610.2 552.7,612.2 546.0,607.2 546.8,599.5" fill="rgb(165,165,165)" fill-opacity="0.75" stroke="rgb(245,245,245)" stroke-opacity="0.75" stroke-width="1.4" stroke-linejoin="round"/>
<polygon points="511.4,700.8 507.4,709.9 504.7,715.9 494.1,715.2 486.7,706.7 487.2,699.1 495.2,694.9 501.9,693.0" fill="rgb(107,107,107)" fill-opacity="0.75" stroke="rgb(161,161,161)" stroke-opacity="0.47" stroke-width="1.4" stroke-linejoin="round"/>
<polygon points="717.9,788.9 713.0,794.8 702.7,790.2 697.9,784.0 701.8,769.4 711.7,768.5 717.7,767.1 722.5,776.4" fill="rgb(93,93,93)" fill-opacity="0.75" stroke="rgb(157,157,157)" stroke-opacity="0.45" stroke-width="1.4" stroke-linejoin="round"/>
<polygon points="889.6,556.4 881.8,561.5 873.6,559.3 870.2,550.9 873.7,543.5 881.6,539.5 888.1,546.5" fill="rgb(95,95,95)" fill-opacity="0.75" stroke="rgb(161,161,161)" stroke-opacity="0.46" stroke-width="1.4" stroke-linejoin="round"/>
<polygon points="603.4,508.4 593.8,509.3 586.3,508.3 580.9,498.3 583.1,487.1 587.6,484.8 600.3,483.7 608.7,488.8 606.6,499.3" fill="rgb(94,94,94)" fill-opacity="0.75" stroke="rgb(161,161,161)" stroke-opacity="0.46" stroke-width="1.4" stroke-linejoin="round"/>
<polygon points="897.8,505.1 893.8,499.3 895.3,491.1 899.9,484.5 907.1,481.8 915.7,486.7 915.8,501.1 912.1,504.5" fill="rgb(108,108,108)" fill-opacity="0.75" stroke="rgb(161,161,161)" stroke-opacity="0.46" stroke-width="1.4" stroke-linejoin="round"/>
<polygon points="642.4,716.4 645.1,721.9 645.6,729.6 639.2,736.2 631.0,735.6 626.5,733.2 623.9,723.4 625.2,719.2 636.2,715.1" fill="rgb(99,99,99)" fill-opacity="0.75" stroke="rgb(155,155,155)" stroke-opacity="0.44" stroke-width="1.4" stroke-linejoin="round"/>
<polygon points="517.6,607.9 518.4,603.2 527.9,597.1 535.7,600.0 540.7,610.2 539.1,614.6 528.0,619.6 523.0,619.5" fill="rgb(159,159,159)" fill-opacity="0.75" stroke="rgb(240,240,240)" stroke-opacity="0.75" stroke-width="1.4" stroke-linejoin="round"/>
<polygon points="725.1,706.4 723.4,693.8 729.2,689.0 740.0,688.0 745.9,690.1 749.2,699.3 750.9,707.9 740.4,712.0 732.7,711.2" fill="rgb(134,134,134)" fill-opacity="0.75" stroke="rgb(224,224,224)" stroke-opacity="0.75" stroke-width="1.4" stroke-linejoin="round"/>
<polygon points="742.0,553.0 746.6,559.7 746.5,573.2 734.0,576.0 727.7,573.4 727.2,559.1 733.6,550.1" fill="rgb(95,95,95)" fill-opacity="0.75" stroke="rgb(159,159,159)" stroke-opacity="0.46" stroke-width="1.4" stroke-linejoin="round"/>
<polygon points="761.5,737.4 756.0,728.2 754.3,721.9 758.8,716.0 769.3,715.3 777.0,717.8 777.5,730.8 769.9,734.0" fill="rgb(101,101,101)" fill-opacity="0.75" stroke="rgb(143,143,143)" stroke-opacity="0.38" stroke-width="1.4" stroke-linejoin="round"/>
<polygon points="660.0,489.0 658.6,483.6 658.7,474.4 665.1,468.3 670.6,468.1 677.2,473.0 679.2,484.1 673.3,489.8 668.6,491.2" fill="rgb(96,96,96)" fill-opacity="0.75" stroke="rgb(160,160,160)" stroke-opacity="0.46" stroke-width="1.4" stroke-linejoin="round"/>
<polygon points="752.3,634.5 746.1,641.4 738.2,641.1 729.2,636.3 728.4,624.6 734.7,619.0 741.8,618.5 751.5,627.5" fill="rgb(87,87,87)" fill-opacity="0.75" stroke="rgb(134,134,134)" stroke-opacity="0.35" stroke-width="1.4" stroke-linejoin="round"/>
<polygon points="520.6,789.7 515.7,781.6 517.6,775.2 526.2,771.6 537.7,777.9 535.0,786.0 527.7,793.1" fill="rgb(96,96,96)" fill-opacity="0.75" stroke="rgb(159,159,159)" stroke-opacity="0.46" stroke-width="1.4" stroke-linejoin="round"/>
<polygon points="698.6,693.4 699.0,699.8 693.1,703.6 687.6,703.8 682.9,698.8 681.8,690.7 688.2,685.9 694.8,687.1" fill="rgb(150,150,150)" fill-opacity="0.75" stroke="rgb(232,232,232)" stroke-opacity="0.75" stroke-width="1.4" stroke-linejoin="round"/>
<polygon points="546.4,459.4 552.6,467.1 550.2,475.0 542.2,477.3 533.9,473.5 532.5,464.9 539.3,458.5" fill="rgb(100,100,100)" fill-opacity="0.75" stroke="rgb(161,161,161)" stroke-opacity="0.46" stroke-width="1.4" stroke-linejoin="round"/>
<polygon points="837.0,600.0 831.4,594.0 833.0,582.3 844.9,574.8 856.0,580.7 859.5,588.7 853.2,601.4" fill="rgb(111,111,111)" fill-opacity="0.75" stroke="rgb(173,173,173)" stroke-opacity="0.52" stroke-width="1.4" stroke-linejoin="round"/>
<polygon points="910.3,475.1 909.7,480.0 903.3,484.6 896.3,482.5 894.6,475.7 895.8,469.7 905.2,468.5" fill="rgb(111,111,111)" fill-opacity="0.75" stroke="rgb(161,161,161)" stroke-opacity="0.46" stroke-width="1.4" stroke-linejoin="round"/>
<polygon points="749.4,716.2 745.7,710.4 745.2,700.0 754.9,695.4 761.1,694.9 766.0,701.7 765.7,712.7 762.7,717.1" fill="rgb(119,119,119)" fill-opacity="0.75" stroke="rgb(176,176,176)" stroke-opacity="0.53" stroke-width="1.4" stroke-linejoin="round"/>
<polygon points="687.4,650.9 678.2,658.0 671.9,655.8 665.8,651.1 666.2,641.8 673.4,632.4 679.8,631.9 685.2,636.3 688.1,643.5" fill="rgb(115,115,115)" fill-opacity="0.75" stroke="rgb(168,168,168)" stroke-opacity="0.50" stroke-width="1.4" stroke-linejoin="round"/>
<polygon points="838.1,718.4 831.5,724.3 823.5,726.9 816.4,724.4 812.8,717.5 813.9,709.2 819.9,703.8 829.9,704.2 834.9,705.6" fill="rgb(102,102,102)" fill-opacity="0.75" stroke="rgb(168,168,168)" stroke-opacity="0.50" stroke-width="1.4" stroke-linejoin="round"/>
<polygon points="668.1,490.4 677.6,481.7 687.2,484.1 691.8,489.4 690.1,501.7 680.8,505.4 673.0,502.7" fill="rgb(102,102,102)" fill-opacity="0.75" stroke="rgb(150,150,150)" stroke-opacity="0.42" stroke-width="1.4" stroke-linejoin="round"/>
<polygon points="829.0,485.9 834.8,486.2 840.0,486.6 843.8,494.5 842.0,498.1 835.1,503.8 828.8,503.2 826.4,499.6 824.4,491.7" fill="rgb(112,112,112)" fill-opacity="0.75" stroke="rgb(161,161,161)" stroke-opacity="0.46" stroke-width="1.4" stroke-linejoin="round"/>
<polygon points="870.6,460.0 879.5,465.9 881.8,472.5 881.0,485.8 869.9,486.7 859.6,483.7 856.3,473.0 858.9,466.5" fill="rgb(113,113,113)" fill-opacity="0.75" stroke="rgb(161,161,161)" stroke-opacity="0.46" stroke-width="1.4" stroke-linejoin="round"/>
<polygon points="575.8,596.0 583.1,597.3 590.1,601.4 594.2,609.4 588.9,618.3 582.3,622.8 574.0,618.0 569.2,607.1" fill="rgb(133,133,133)" fill-opacity="0.75" stroke="rgb(199,199,199)" stroke-opacity="0.64" stroke-width="1.4" stroke-linejoin="round"/>
<polygon points="611.1,516.0 615.3,521.3 616.4,530.7 606.6,535.1 599.2,532.4 597.5,526.6 597.2,518.4 603.7,515.7" fill="rgb(113,113,113)" fill-opacity="0.75" stroke="rgb(161,161,161)" stroke-opacity="0.46" stroke-width="1.4" stroke-linejoin="round"/>
<polygon points="530.7,666.7 537.8,672.3 539.5,682.1 535.7,686.6 528.3,688.5 522.5,682.2 520.8,676.8 525.4,669.2" fill="rgb(143,143,143)" fill-opacity="0.75" stroke="rgb(219,219,219)" stroke-opacity="0.73" stroke-width="1.4" stroke-linejoin="round"/>
<polygon points="681.7,740.2 681.3,732.4 691.6,720.9 701.5,720.3 703.9,725.8 707.8,733.8 705.0,744.7 689.4,743.5" fill="rgb(120,120,120)" fill-opacity="0.75" stroke="rgb(191,191,191)" stroke-opacity="0.60" stroke-width="1.4" stroke-linejoin="round"/>
<polygon points="544.8,524.8 549.1,515.8 559.4,513.9 569.6,522.6 566.9,535.3 560.4,543.9 546.4,539.4" fill="rgb(101,101,101)" fill-opacity="0.75" stroke="rgb(161,161,161)" stroke-opacity="0.46" stroke-width="1.4" stroke-linejoin="round"/>
<polygon points="537.1,484.6 547.1,477.8 552.2,479.8 557.3,487.4 552.8,497.6 546.1,500.5 539.8,494.2" fill="rgb(102,102,102)" fill-opacity="0.75" stroke="rgb(161,161,161)" stroke-opacity="0.46" stroke-width="1.4" stroke-linejoin="round"/>
<polygon points="483.7,459.6 489.8,469.3 484.5,477.8 480.2,479.5 470.8,474.9 469.8,463.1 476.2,460.1" fill="rgb(106,106,106)" fill-opacity="0.75" stroke="rgb(161,161,161)" stroke-opacity="0.46" stroke-width="1.4" stroke-linejoin="round"/>
<polygon points="907.8,700.3 905.2,709.9 894.7,710.7 890.4,710.0 888.7,701.8 891.5,691.8 901.4,690.2 906.2,696.1" fill="rgb(147,147,147)" fill-opacity="0.75" stroke="rgb(215,215,215)" stroke-opacity="0.71" stroke-width="1.4" stroke-linejoin="round"/>
<polygon points="893.2,693.7 895.6,702.3 892.6,710.3 883.3,714.0 876.2,710.9 873.1,701.8 874.9,693.8 877.3,692.7 888.8,690.5" fill="rgb(145,145,145)" fill-opacity="0.75" stroke="rgb(221,221,221)" stroke-opacity="0.74" stroke-width="1.4" stroke-linejoin="round"/>
<polygon points="788.5,571.4 792.7,576.8 795.8,591.5 788.8,596.7 780.6,601.1 776.9,597.0 767.4,589.8 772.7,578.6 775.1,573.5" fill="rgb(104,104,104)" fill-opacity="0.75" stroke="rgb(155,155,155)" stroke-opacity="0.44" stroke-width="1.4" stroke-linejoin="round"/>
<polygon points="640.1,749.4 631.4,752.7 624.9,747.8 624.4,740.8 629.7,736.0 638.1,736.6 642.1,744.8" fill="rgb(84,84,84)" fill-opacity="0.75" stroke="rgb(141,141,141)" stroke-opacity="0.38" stroke-width="1.4" stroke-linejoin="round"/>
<polygon points="642.5,705.4 647.7,696.8 660.4,698.9 666.1,702.9 666.6,713.1 660.6,717.6 650.4,718.6 642.5,712.9" fill="rgb(117,117,117)" fill-opacity="0.75" stroke="rgb(182,182,182)" stroke-opacity="0.56" stroke-width="1.4" stroke-linejoin="round"/>
<polygon points="531.0,529.7 541.5,520.7 553.9,524.7 556.0,533.4 553.0,543.2 548.3,549.9 536.5,550.8 531.9,544.6 529.8,535.1" fill="rgb(94,94,94)" fill-opacity="0.75" stroke="rgb(161,161,161)" stroke-opacity="0.46" stroke-width="1.4" stroke-linejoin="round"/>
<polygon points="735.0,487.2 740.3,480.8 746.5,477.6 753.3,479.0 756.1,488.8 750.4,497.4 743.4,498.0 738.8,494.5" fill="rgb(111,111,111)" fill-opacity="0.75" stroke="rgb(159,159,159)" stroke-opacity="0.46" stroke-width="1.4" stroke-linejoin="round"/>
<polygon points="686.7,597.2 680.8,592.2 681.7,580.6 692.0,575.1 702.3,579.3 704.2,589.8 699.0,594.9" fill="rgb(144,144,144)" fill-opacity="0.75" stroke="rgb(213,213,213)" stroke-opacity="0.70" stroke-width="1.4" stroke-linejoin="round"/>
<polygon points="522.3,577.6 519.2,573.4 518.4,562.5 524.0,557.6 529.5,557.4 537.1,564.2 534.7,570.2 532.2,576.4" fill="rgb(110,110,110)" fill-opacity="0.75" stroke="rgb(161,161,161)" stroke-opacity="0.47" stroke-width="1.4" stroke-linejoin="round"/>
<polygon points="750.8,747.1 741.3,746.4 736.0,743.6 737.0,737.5 740.6,730.7 746.9,731.1 752.9,736.7 752.6,744.1" fill="rgb(85,85,85)" fill-opacity="0.75" stroke="rgb(132,132,132)" stroke-opacity="0.34" stroke-width="1.4" stroke-linejoin="round"/>
<polygon points="529.3,685.7 530.4,678.3 532.3,673.2 543.0,674.8 545.7,680.5 544.0,686.5 541.8,690.3 534.8,689.8" fill="rgb(153,153,153)" fill-opacity="0.75" stroke="rgb(227,227,227)" stroke-opacity="0.75" stroke-width="1.4" stroke-linejoin="round"/>
<polygon points="586.1,628.0 580.1,634.7 573.0,636.0 566.4,634.7 563.2,625.4 565.4,618.6 572.3,615.2 583.3,617.9" fill="rgb(152,152,152)" fill-opacity="0.75" stroke="rgb(225,225,225)" stroke-opacity="0.75" stroke-width="1.4" stroke-linejoin="round"/>
<polygon points="581.4,663.9 582.0,656.2 590.0,645.4 601.9,647.7 608.4,652.2 606.6,664.2 594.0,670.5" fill="rgb(112,112,112)" fill-opacity="0.75" stroke="rgb(172,172,172)" stroke-opacity="0.52" stroke-width="1.4" stroke-linejoin="round"/>
<polygon points="865.7,673.2 858.7,672.4 849.2,665.7 852.5,658.4 857.1,653.7 864.5,654.5 871.7,660.2 870.3,668.0" fill="rgb(141,141,141)" fill-opacity="0.75" stroke="rgb(209,209,209)" stroke-opacity="0.68" stroke-width="1.4" stroke-linejoin="round"/>
<polygon points="616.9,562.4 625.0,562.1 628.4,574.5 624.5,582.6 619.3,587.1 606.7,581.8 604.8,573.0 608.7,565.6" fill="rgb(133,133,133)" fill-opacity="0.75" stroke="rgb(200,200,200)" stroke-opacity="0.64" stroke-width="1.4" stroke-linejoin="round"/>
<polygon points="719.7,762.7 718.6,768.5 707.8,771.3 703.3,766.5 702.3,758.4 711.5,752.2 716.1,754.2" fill="rgb(105,105,105)" fill-opacity="0.75" stroke="rgb(151,151,151)" stroke-opacity="0.42" stroke-width="1.4" stroke-linejoin="round"/>
<polygon points="807.9,521.4 801.2,519.2 796.3,516.0 798.5,509.7 802.5,504.0 808.7,504.6 811.6,505.4 815.3,514.6 812.2,517.4" fill="rgb(104,104,104)" fill-opacity="0.75" stroke="rgb(169,169,169)" stroke-opacity="0.50" stroke-width="1.4" stroke-linejoin="round"/>
<polygon points="903.3,577.1 911.8,572.6 921.3,572.2 928.7,581.5 924.8,596.2 915.1,596.0 903.8,591.0" fill="rgb(107,107,107)" fill-opacity="0.75" stroke="rgb(160,160,160)" stroke-opacity="0.46" stroke-width="1.4" stroke-linejoin="round"/>
<polygon points="516.6,650.9 517.5,660.0 511.6,673.2 502.0,671.9 490.4,666.2 493.5,655.5 496.6,648.5 509.5,645.7" fill="rgb(126,126,126)" fill-opacity="0.75" stroke="rgb(186,186,186)" stroke-opacity="0.58" stroke-width="1.4" stroke-linejoin="round"/>
<polygon points="910.9,763.8 906.3,775.9 895.4,780.0 886.2,771.8 882.7,759.0 893.7,751.8 904.6,753.2" fill="rgb(96,96,96)" fill-opacity="0.75" stroke="rgb(162,162,162)" stroke-opacity="0.47" stroke-width="1.4" stroke-linejoin="round"/>
<polygon points="684.6,786.3 680.3,776.7 686.2,763.2 694.2,763.8 706.3,766.0 710.1,776.9 704.1,786.1 693.9,790.8" fill="rgb(103,103,103)" fill-opacity="0.75" stroke="rgb(160,160,160)" stroke-opacity="0.46" stroke-width="1.4" stroke-linejoin="round"/>
<polygon points="476.9,595.7 483.9,595.1 490.7,597.3 491.0,605.8 488.3,609.8 481.0,611.1 474.7,608.1 472.7,600.9" fill="rgb(109,109,109)" fill-opacity="0.75" stroke="rgb(153,153,153)" stroke-opacity="0.43" stroke-width="1.4" stroke-linejoin="round"/>
<polygon points="675.0,538.9 668.8,533.3 671.6,523.5 676.8,519.0 684.9,520.3 691.7,526.5 694.9,533.6 688.3,538.8 682.5,541.9" fill="rgb(109,109,109)" fill-opacity="0.75" stroke="rgb(156,156,156)" stroke-opacity="0.45" stroke-width="1.4" stroke-linejoin="round"/>
<polygon points="618.8,545.7 615.2,558.0 604.2,566.9 598.0,563.2 590.2,550.3 598.8,538.0 606.6,539.1" fill="rgb(105,105,105)" fill-opacity="0.75" stroke="rgb(161,161,161)" stroke-opacity="0.47" stroke-width="1.4" stroke-linejoin="round"/>
<polygon points="632.4,648.6 634.9,654.6 633.4,662.8 629.2,671.7 617.0,672.8 608.5,662.3 606.4,656.6 612.8,647.3 618.9,641.4" fill="rgb(107,107,107)" fill-opacity="0.75" stroke="rgb(158,158,158)" stroke-opacity="0.46" stroke-width="1.4" stroke-linejoin="round"/>
<polygon points="873.5,790.4 862.2,791.4 857.2,787.2 853.6,772.5 857.4,769.5 867.4,768.7 875.4,773.6 879.8,786.8" fill="rgb(104,104,104)" fill-opacity="0.75" stroke="rgb(162,162,162)" stroke-opacity="0.47" stroke-width="1.4" stroke-linejoin="round"/>
<polygon points="554.3,570.3 549.8,580.0 544.8,583.0 534.3,574.9 535.5,565.2 543.0,557.9 550.5,559.9" fill="rgb(114,114,114)" fill-opacity="0.75" stroke="rgb(166,166,166)" stroke-opacity="0.49" stroke-width="1.4" stroke-linejoin="round"/>
<polygon points="822.9,559.2 815.1,549.7 817.7,544.4 825.1,538.3 836.5,545.5 836.2,552.4 832.6,559.1" fill="rgb(106,106,106)" fill-opacity="0.75" stroke="rgb(161,161,161)" stroke-opacity="0.46" stroke-width="1.4" stroke-linejoin="round"/>
<polygon points="904.5,720.2 905.7,731.2 897.3,735.8 890.4,733.0 887.8,727.0 892.3,717.2 898.4,717.1" fill="rgb(127,127,127)" fill-opacity="0.75" stroke="rgb(210,210,210)" stroke-opacity="0.68" stroke-width="1.4" stroke-linejoin="round"/>
<polygon points="539.8,594.0 537.6,587.3 536.6,583.3 541.3,577.7 549.0,577.5 558.1,583.3 557.9,588.0 554.6,595.2 545.5,599.1" fill="rgb(132,132,132)" fill-opacity="0.75" stroke="rgb(208,208,208)" stroke-opacity="0.67" stroke-width="1.4" stroke-linejoin="round"/>
<polygon points="710.4,557.9 720.1,555.6 723.4,561.6 725.7,568.9 720.2,576.8 713.0,578.5 707.3,575.6 702.8,570.1 704.2,562.1" fill="rgb(100,100,100)" fill-opacity="0.75" stroke="rgb(161,161,161)" stroke-opacity="0.47" stroke-width="1.4" stroke-linejoin="round"/>
<polygon points="751.6,519.2 746.6,513.3 742.5,503.6 749.0,496.8 757.1,495.0 766.0,502.2 767.5,512.7 761.9,519.2" fill="rgb(116,116,116)" fill-opacity="0.75" stroke="rgb(174,174,174)" stroke-opacity="0.53" stroke-width="1.4" stroke-linejoin="round"/>
<polygon points="590.9,661.0 588.0,647.3 589.7,639.9 597.2,637.5 605.6,637.6 614.0,647.3 610.6,656.3 605.5,660.2 598.1,662.3" fill="rgb(97,97,97)" fill-opacity="0.75" stroke="rgb(163,163,163)" stroke-opacity="0.47" stroke-width="1.4" stroke-linejoin="round"/>
<polygon points="858.3,687.4 871.1,689.3 872.0,706.3 859.6,714.4 849.4,711.9 844.3,699.0 850.3,686.8" fill="rgb(135,135,135)" fill-opacity="0.75" stroke="rgb(221,221,221)" stroke-opacity="0.73" stroke-width="1.4" stroke-linejoin="round"/>
<polygon points="552.0,669.4 544.2,669.4 539.2,668.0 537.6,658.8 541.1,653.2 547.0,651.7 554.2,655.6 556.4,662.1" fill="rgb(158,158,158)" fill-opacity="0.75" stroke="rgb(236,236,236)" stroke-opacity="0.75" stroke-width="1.4" stroke-linejoin="round"/>
<polygon points="898.7,679.9 902.5,683.7 901.0,690.5 893.1,701.1 884.1,696.5 876.7,690.2 875.4,685.0 881.6,678.2 889.5,674.1" fill="rgb(131,131,131)" fill-opacity="0.75" stroke="rgb(218,218,218)" stroke-opacity="0.72" stroke-width="1.4" stroke-linejoin="round"/>
<polygon points="529.1,658.9 517.3,659.3 508.8,650.9 508.5,641.1 522.3,634.6 532.6,639.8 533.3,653.5" fill="rgb(128,128,128)" fill-opacity="0.75" stroke="rgb(208,208,208)" stroke-opacity="0.68" stroke-width="1.4" stroke-linejoin="round"/>
<polygon points="537.4,535.5 537.8,549.8 532.1,558.3 520.9,560.2 511.6,553.0 516.4,537.8 528.8,530.9" fill="rgb(112,112,112)" fill-opacity="0.75" stroke="rgb(160,160,160)" stroke-opacity="0.46" stroke-width="1.4" stroke-linejoin="round"/>
<polygon points="488.6,758.1 496.9,765.2 499.9,769.5 495.4,776.6 490.1,779.7 482.3,780.9 479.6,773.4 476.9,767.1 482.7,759.4" fill="rgb(106,106,106)" fill-opacity="0.75" stroke="rgb(161,161,161)" stroke-opacity="0.46" stroke-width="1.4" stroke-linejoin="round"/>
<polygon points="854.1,562.6 861.5,567.9 864.7,571.6 859.5,583.6 854.2,584.4 842.3,582.9 840.8,571.8 844.3,562.4" fill="rgb(108,108,108)" fill-opacity="0.75" stroke="rgb(161,161,161)" stroke-opacity="0.47" stroke-width="1.4" stroke-linejoin="round"/>
<polygon points="891.4,741.4 890.8,733.9 896.5,727.6 902.3,725.5 910.1,731.5 908.7,737.6 905.6,744.5 900.3,744.4" fill="rgb(126,126,126)" fill-opacity="0.75" stroke="rgb(193,193,193)" stroke-opacity="0.61" stroke-width="1.4" stroke-linejoin="round"/>
<polygon points="514.3,761.5 508.3,765.3 495.8,764.6 488.2,757.9 489.4,746.0 495.8,739.1 509.2,741.8 512.2,745.7" fill="rgb(107,107,107)" fill-opacity="0.75" stroke="rgb(160,160,160)" stroke-opacity="0.46" stroke-width="1.4" stroke-linejoin="round"/>
<polygon points="685.3,674.0 673.2,671.3 669.6,665.0 671.3,653.9 677.6,650.5 689.2,652.7 693.5,656.5 690.8,669.9" fill="rgb(139,139,139)" fill-opacity="0.75" stroke="rgb(204,204,204)" stroke-opacity="0.66" stroke-width="1.4" stroke-linejoin="round"/>
<polygon points="801.9,592.9 812.4,590.3 821.4,594.1 826.1,600.1 820.2,612.6 809.3,615.0 802.8,607.1" fill="rgb(127,127,127)" fill-opacity="0.75" stroke="rgb(205,205,205)" stroke-opacity="0.66" stroke-width="1.4" stroke-linejoin="round"/>
<polygon points="657.0,489.2 653.2,498.8 635.9,499.4 632.5,492.7 634.4,478.5 645.7,473.9 654.7,481.4" fill="rgb(102,102,102)" fill-opacity="0.75" stroke="rgb(161,161,161)" stroke-opacity="0.46" stroke-width="1.4" stroke-linejoin="round"/>
<polygon points="918.7,730.5 914.1,724.9 914.4,721.3 918.2,715.8 923.8,713.3 928.3,716.5 931.4,726.3 928.9,728.9 921.4,731.5" fill="rgb(117,117,117)" fill-opacity="0.75" stroke="rgb(175,175,175)" stroke-opacity="0.53" stroke-width="1.4" stroke-linejoin="round"/>
<polygon points="820.6,739.2 816.9,734.7 821.4,724.2 829.3,722.0 835.9,727.2 836.6,730.4 833.9,739.5 830.1,742.2" fill="rgb(109,109,109)" fill-opacity="0.75" stroke="rgb(165,165,165)" stroke-opacity="0.48" stroke-width="1.4" stroke-linejoin="round"/>
<polygon points="681.0,514.6 685.8,511.0 700.1,515.7 700.5,524.2 696.6,533.6 683.8,535.9 676.1,529.5 675.2,520.4" fill="rgb(106,106,106)" fill-opacity="0.75" stroke="rgb(148,148,148)" stroke-opacity="0.41" stroke-width="1.4" stroke-linejoin="round"/>
<polygon points="626.4,621.5 630.2,614.5 636.6,613.0 641.9,616.0 645.0,624.8 639.5,628.4 632.5,629.1" fill="rgb(134,134,134)" fill-opacity="0.75" stroke="rgb(216,216,216)" stroke-opacity="0.71" stroke-width="1.4" stroke-linejoin="round"/>
<polygon points="922.1,563.8 908.1,566.9 901.4,564.2 893.3,552.4 900.3,543.7 907.3,541.4 918.9,542.6 921.7,554.2" fill="rgb(97,97,97)" fill-opacity="0.75" stroke="rgb(161,161,161)" stroke-opacity="0.46" stroke-width="1.4" stroke-linejoin="round"/>
<polygon points="483.5,542.4 492.4,542.2 498.0,544.6 502.3,551.0 498.9,559.8 488.4,561.7 481.7,556.7 481.6,550.4" fill="rgb(92,92,92)" fill-opacity="0.75" stroke="rgb(156,156,156)" stroke-opacity="0.45" stroke-width="1.4" stroke-linejoin="round"/>
<polygon points="683.2,619.6 691.7,618.6 700.3,621.7 702.3,628.0 699.6,634.2 690.5,640.4 681.8,634.1 678.6,624.6" fill="rgb(125,125,125)" fill-opacity="0.75" stroke="rgb(194,194,194)" stroke-opacity="0.61" stroke-width="1.4" stroke-linejoin="round"/>
<polygon points="731.2,545.8 721.5,542.0 715.6,530.8 720.2,524.3 730.0,519.6 740.8,525.9 739.2,535.7" fill="rgb(97,97,97)" fill-opacity="0.75" stroke="rgb(153,153,153)" stroke-opacity="0.43" stroke-width="1.4" stroke-linejoin="round"/>
<polygon points="571.5,679.6 563.4,683.0 557.9,679.9 555.3,670.8 554.9,664.3 562.1,657.7 566.7,659.6 573.7,661.8 579.1,669.8" fill="rgb(146,146,146)" fill-opacity="0.75" stroke="rgb(229,229,229)" stroke-opacity="0.75" stroke-width="1.4" stroke-linejoin="round"/>
<polygon points="788.3,650.2 795.4,643.8 805.6,648.9 809.1,654.7 804.7,664.9 796.6,667.9 788.6,665.2 784.8,657.6" fill="rgb(109,109,109)" fill-opacity="0.75" stroke="rgb(180,180,180)" stroke-opacity="0.55" stroke-width="1.4" stroke-linejoin="round"/>
<polygon points="602.1,556.4 609.5,562.3 609.1,573.4 601.0,577.7 595.4,575.6 589.4,569.7 589.0,559.8 598.9,556.0" fill="rgb(110,110,110)" fill-opacity="0.75" stroke="rgb(166,166,166)" stroke-opacity="0.49" stroke-width="1.4" stroke-linejoin="round"/>
</g>
</g></g>
<g clip-path="url(#c2)"><g filter="url(#semtex)"><g filter="url(#blurmap)">
<rect x="451.5" y="763.0" width="493.70000000000005" height="362.29999999999995" fill="rgb(102,102,102)"/>
<ellipse cx="590" cy="930" rx="100" ry="45" fill="rgb(133,133,133)"/>
<ellipse cx="640" cy="990" rx="90" ry="40" fill="rgb(133,133,133)"/>
<ellipse cx="740" cy="935" rx="55" ry="50" fill="rgb(130,130,130)"/>
<ellipse cx="770" cy="845" rx="30" ry="45" fill="rgb(126,126,126)"/>
<ellipse cx="660" cy="1055" rx="70" ry="35" fill="rgb(122,122,122)"/>
<ellipse cx="810" cy="1065" rx="45" ry="30" fill="rgb(120,120,120)"/>
<ellipse cx="885" cy="1068" rx="30" ry="27" fill="rgb(115,115,115)"/>
<ellipse cx="820" cy="905" rx="25" ry="25" fill="rgb(122,122,122)"/>
<ellipse cx="700" cy="985" rx="40" ry="40" fill="rgb(122,122,122)"/>
<polygon points="470,982 505,988 534,1015 557,1034 575,1052 592,1100 470,1100" fill="rgb(84,84,84)"/>
<ellipse cx="490" cy="915" rx="14" ry="22" fill="rgb(88,88,88)"/>
<ellipse cx="865" cy="985" rx="48" ry="50" fill="rgb(78,78,78)"/>
<ellipse cx="700" cy="1045" rx="28" ry="18" fill="rgb(82,82,82)"/>
<ellipse cx="755" cy="1020" rx="22" ry="22" fill="rgb(88,88,88)"/>
<ellipse cx="710" cy="820" rx="22" ry="30" fill="rgb(80,80,80)"/>
<ellipse cx="495" cy="925" rx="12" ry="25" fill="rgb(88,88,88)"/>
</g>
<g filter="url(#soft)">
<polygon points="761.7,1036.0 772.5,1036.4 780.2,1044.1 780.8,1058.7 773.2,1063.1 763.5,1062.7 756.7,1054.8 755.3,1044.2" fill="rgb(117,117,117)" fill-opacity="0.75" stroke="rgb(170,170,170)" stroke-opacity="0.51" stroke-width="1.4" stroke-linejoin="round"/>
<polygon points="787.3,976.7 780.6,979.3 769.3,978.3 764.7,969.2 765.6,965.3 774.0,958.2 784.8,963.1 787.6,966.1" fill="rgb(113,113,113)" fill-opacity="0.75" stroke="rgb(188,188,188)" stroke-opacity="0.59" stroke-width="1.4" stroke-linejoin="round"/>
<polygon points="594.6,914.8 607.6,920.8 611.3,933.5 605.5,942.8 594.0,943.1 583.5,932.9 583.9,925.6" fill="rgb(127,127,127)" fill-opacity="0.75" stroke="rgb(213,213,213)" stroke-opacity="0.70" stroke-width="1.4" stroke-linejoin="round"/>
<polygon points="785.4,1071.5 793.2,1066.8 797.3,1068.6 800.0,1073.8 801.8,1076.9 796.0,1082.4 791.7,1085.2 783.9,1079.3 782.6,1075.6" fill="rgb(127,127,127)" fill-opacity="0.75" stroke="rgb(191,191,191)" stroke-opacity="0.60" stroke-width="1.4" stroke-linejoin="round"/>
<polygon points="903.4,922.0 901.3,935.8 888.0,942.9 878.3,939.4 877.6,924.5 882.9,916.9 894.0,917.8" fill="rgb(97,97,97)" fill-opacity="0.75" stroke="rgb(160,160,160)" stroke-opacity="0.46" stroke-width="1.4" stroke-linejoin="round"/>
<polygon points="530.0,1101.0 527.7,1110.0 519.0,1111.3 511.3,1107.0 510.4,1098.4 514.1,1095.2 521.4,1092.9 526.8,1096.4" fill="rgb(91,91,91)" fill-opacity="0.75" stroke="rgb(135,135,135)" stroke-opacity="0.35" stroke-width="1.4" stroke-linejoin="round"/>
<polygon points="785.9,883.2 799.1,879.8 807.8,883.0 806.5,898.6 796.6,906.6 788.5,904.5 784.0,892.1" fill="rgb(121,121,121)" fill-opacity="0.75" stroke="rgb(178,178,178)" stroke-opacity="0.54" stroke-width="1.4" stroke-linejoin="round"/>
<polygon points="609.3,1030.1 607.8,1021.9 615.9,1015.4 622.2,1015.7 629.1,1020.3 626.3,1031.5 622.4,1036.6 614.2,1034.8" fill="rgb(127,127,127)" fill-opacity="0.75" stroke="rgb(202,202,202)" stroke-opacity="0.65" stroke-width="1.4" stroke-linejoin="round"/>
<polygon points="833.7,1001.9 834.9,1009.3 832.2,1014.3 823.4,1015.7 817.0,1012.4 814.8,1006.7 819.0,999.2 827.9,997.4" fill="rgb(92,92,92)" fill-opacity="0.75" stroke="rgb(141,141,141)" stroke-opacity="0.38" stroke-width="1.4" stroke-linejoin="round"/>
<polygon points="613.0,1100.0 612.4,1109.1 601.1,1115.8 591.5,1113.0 588.3,1103.1 594.3,1096.6 598.4,1090.9 608.4,1094.9" fill="rgb(108,108,108)" fill-opacity="0.75" stroke="rgb(161,161,161)" stroke-opacity="0.47" stroke-width="1.4" stroke-linejoin="round"/>
<polygon points="572.4,1016.4 584.9,1012.0 593.5,1017.4 597.4,1026.6 591.4,1036.0 577.4,1040.7 570.3,1035.4 569.3,1024.9" fill="rgb(122,122,122)" fill-opacity="0.75" stroke="rgb(178,178,178)" stroke-opacity="0.54" stroke-width="1.4" stroke-linejoin="round"/>
<polygon points="648.8,1022.2 653.5,1016.7 660.2,1012.7 668.9,1015.9 672.9,1020.1 669.2,1029.4 667.0,1031.9 658.6,1034.4 650.7,1028.7" fill="rgb(133,133,133)" fill-opacity="0.75" stroke="rgb(201,201,201)" stroke-opacity="0.65" stroke-width="1.4" stroke-linejoin="round"/>
<polygon points="733.8,895.3 741.8,895.7 748.7,903.5 747.0,910.5 739.4,916.6 730.7,914.3 727.1,908.4 728.6,898.6" fill="rgb(127,127,127)" fill-opacity="0.75" stroke="rgb(207,207,207)" stroke-opacity="0.67" stroke-width="1.4" stroke-linejoin="round"/>
<polygon points="813.9,903.0 815.4,889.8 822.8,883.4 836.7,887.0 841.1,893.1 835.8,907.1 827.0,912.1" fill="rgb(123,123,123)" fill-opacity="0.75" stroke="rgb(191,191,191)" stroke-opacity="0.60" stroke-width="1.4" stroke-linejoin="round"/>
<polygon points="761.2,863.5 766.7,852.7 774.4,848.4 784.9,853.0 786.4,865.4 777.5,871.0 770.0,871.6" fill="rgb(132,132,132)" fill-opacity="0.75" stroke="rgb(202,202,202)" stroke-opacity="0.65" stroke-width="1.4" stroke-linejoin="round"/>
<polygon points="496.2,789.3 503.7,783.7 511.0,786.8 513.7,787.2 514.7,800.1 510.6,803.1 501.4,806.1 495.4,802.7 494.5,794.7" fill="rgb(102,102,102)" fill-opacity="0.75" stroke="rgb(164,164,164)" stroke-opacity="0.48" stroke-width="1.4" stroke-linejoin="round"/>
<polygon points="689.0,1090.3 698.6,1090.9 701.1,1097.2 699.0,1104.4 689.3,1110.3 684.7,1108.1 680.9,1096.5" fill="rgb(102,102,102)" fill-opacity="0.75" stroke="rgb(170,170,170)" stroke-opacity="0.50" stroke-width="1.4" stroke-linejoin="round"/>
<polygon points="722.9,1035.4 722.0,1025.5 728.3,1019.6 734.0,1018.7 741.4,1020.2 744.5,1025.7 743.8,1032.5 735.3,1039.5 731.0,1038.5" fill="rgb(109,109,109)" fill-opacity="0.75" stroke="rgb(156,156,156)" stroke-opacity="0.44" stroke-width="1.4" stroke-linejoin="round"/>
<polygon points="526.1,960.4 526.0,969.1 521.5,973.7 511.8,975.1 506.4,965.6 510.3,953.1 516.2,952.1" fill="rgb(118,118,118)" fill-opacity="0.75" stroke="rgb(181,181,181)" stroke-opacity="0.56" stroke-width="1.4" stroke-linejoin="round"/>
<polygon points="590.0,826.3 590.6,835.1 583.5,841.6 576.9,840.0 571.3,831.2 570.5,827.0 577.7,818.4 586.5,819.2" fill="rgb(110,110,110)" fill-opacity="0.75" stroke="rgb(164,164,164)" stroke-opacity="0.48" stroke-width="1.4" stroke-linejoin="round"/>
<polygon points="529.1,797.0 527.2,789.4 531.3,782.0 540.0,779.2 551.1,782.0 553.5,788.9 555.0,797.1 543.9,804.7 537.2,801.8" fill="rgb(99,99,99)" fill-opacity="0.75" stroke="rgb(164,164,164)" stroke-opacity="0.48" stroke-width="1.4" stroke-linejoin="round"/>
<polygon points="714.9,1012.7 724.1,1012.5 731.5,1021.7 727.4,1034.8 720.0,1037.9 710.4,1036.0 702.5,1026.8 708.3,1012.1" fill="rgb(105,105,105)" fill-opacity="0.75" stroke="rgb(167,167,167)" stroke-opacity="0.50" stroke-width="1.4" stroke-linejoin="round"/>
<polygon points="888.3,1032.2 896.6,1021.5 905.3,1023.5 910.3,1031.3 909.0,1037.0 901.2,1043.7 889.1,1040.4" fill="rgb(93,93,93)" fill-opacity="0.75" stroke="rgb(159,159,159)" stroke-opacity="0.46" stroke-width="1.4" stroke-linejoin="round"/>
<polygon points="691.4,893.9 688.2,906.4 679.7,908.2 671.7,906.8 666.2,895.7 666.6,892.3 672.2,879.9 684.3,882.4 691.8,888.9" fill="rgb(113,113,113)" fill-opacity="0.75" stroke="rgb(169,169,169)" stroke-opacity="0.50" stroke-width="1.4" stroke-linejoin="round"/>
<polygon points="927.4,895.9 933.8,909.4 932.1,917.8 916.2,920.5 909.5,918.3 907.1,902.9 915.8,894.8" fill="rgb(111,111,111)" fill-opacity="0.75" stroke="rgb(164,164,164)" stroke-opacity="0.48" stroke-width="1.4" stroke-linejoin="round"/>
<polygon points="843.0,1017.4 835.4,1017.2 830.0,1009.9 832.7,1003.6 841.4,1000.5 847.3,1003.6 847.9,1012.9" fill="rgb(75,75,75)" fill-opacity="0.75" stroke="rgb(129,129,129)" stroke-opacity="0.32" stroke-width="1.4" stroke-linejoin="round"/>
<polygon points="930.4,1091.8 922.9,1091.3 913.0,1078.8 917.9,1071.4 925.1,1066.7 937.4,1069.0 940.6,1076.7 942.7,1086.6" fill="rgb(114,114,114)" fill-opacity="0.75" stroke="rgb(173,173,173)" stroke-opacity="0.52" stroke-width="1.4" stroke-linejoin="round"/>
<polygon points="606.3,881.1 610.2,886.7 609.8,894.7 597.6,897.9 591.6,896.8 587.9,888.3 591.4,882.3 597.9,879.0" fill="rgb(125,125,125)" fill-opacity="0.75" stroke="rgb(193,193,193)" stroke-opacity="0.61" stroke-width="1.4" stroke-linejoin="round"/>
<polygon points="680.2,1077.6 688.1,1078.6 690.8,1088.5 686.8,1095.5 681.3,1098.3 673.8,1096.6 668.1,1086.1 672.6,1080.7" fill="rgb(124,124,124)" fill-opacity="0.75" stroke="rgb(180,180,180)" stroke-opacity="0.55" stroke-width="1.4" stroke-linejoin="round"/>
<polygon points="604.5,822.3 611.6,822.0 613.1,827.4 615.9,834.0 611.7,838.3 605.2,842.8 597.3,842.5 594.1,831.8 592.8,826.9" fill="rgb(107,107,107)" fill-opacity="0.75" stroke="rgb(164,164,164)" stroke-opacity="0.48" stroke-width="1.4" stroke-linejoin="round"/>
<polygon points="673.3,807.6 666.6,800.0 664.8,791.1 675.5,782.4 686.9,785.0 691.3,792.2 686.2,802.9" fill="rgb(96,96,96)" fill-opacity="0.75" stroke="rgb(163,163,163)" stroke-opacity="0.48" stroke-width="1.4" stroke-linejoin="round"/>
<polygon points="793.1,927.4 782.0,930.1 773.2,923.4 775.6,908.4 784.7,904.4 795.5,907.6 798.5,915.8" fill="rgb(125,125,125)" fill-opacity="0.75" stroke="rgb(197,197,197)" stroke-opacity="0.63" stroke-width="1.4" stroke-linejoin="round"/>
<polygon points="774.8,1038.8 784.2,1029.4 796.8,1034.3 803.6,1042.4 801.4,1048.8 789.2,1059.5 782.1,1058.3 775.5,1044.7" fill="rgb(112,112,112)" fill-opacity="0.75" stroke="rgb(182,182,182)" stroke-opacity="0.56" stroke-width="1.4" stroke-linejoin="round"/>
<polygon points="880.5,844.1 872.8,853.3 865.6,853.2 857.9,849.0 851.9,838.7 860.3,828.7 871.5,829.0 877.3,831.7" fill="rgb(99,99,99)" fill-opacity="0.75" stroke="rgb(164,164,164)" stroke-opacity="0.48" stroke-width="1.4" stroke-linejoin="round"/>
<polygon points="644.3,1074.3 636.8,1075.6 631.4,1067.7 635.3,1056.7 643.2,1055.7 651.7,1061.0 650.4,1070.2" fill="rgb(121,121,121)" fill-opacity="0.75" stroke="rgb(195,195,195)" stroke-opacity="0.62" stroke-width="1.4" stroke-linejoin="round"/>
<polygon points="719.7,1071.8 713.5,1071.4 710.5,1067.2 708.7,1060.8 717.8,1055.7 722.5,1058.2 726.8,1061.4 726.0,1068.2" fill="rgb(111,111,111)" fill-opacity="0.75" stroke="rgb(170,170,170)" stroke-opacity="0.51" stroke-width="1.4" stroke-linejoin="round"/>
<polygon points="577.8,866.4 588.6,852.1 598.2,854.2 605.5,859.9 605.1,872.8 594.2,881.7 579.9,875.2" fill="rgb(106,106,106)" fill-opacity="0.75" stroke="rgb(165,165,165)" stroke-opacity="0.48" stroke-width="1.4" stroke-linejoin="round"/>
<polygon points="794.9,1062.2 794.8,1050.8 802.1,1046.2 806.1,1047.4 813.9,1051.1 816.0,1059.4 815.1,1065.1 808.1,1068.5 796.9,1068.1" fill="rgb(127,127,127)" fill-opacity="0.75" stroke="rgb(192,192,192)" stroke-opacity="0.61" stroke-width="1.4" stroke-linejoin="round"/>
<polygon points="571.8,959.8 574.7,954.5 587.3,959.8 588.8,967.9 584.8,972.5 578.1,976.4 568.2,969.6" fill="rgb(138,138,138)" fill-opacity="0.75" stroke="rgb(213,213,213)" stroke-opacity="0.70" stroke-width="1.4" stroke-linejoin="round"/>
<polygon points="856.7,1081.5 868.2,1084.0 874.4,1093.2 868.3,1104.4 858.9,1105.3 853.4,1102.7 848.0,1092.6" fill="rgb(111,111,111)" fill-opacity="0.75" stroke="rgb(169,169,169)" stroke-opacity="0.50" stroke-width="1.4" stroke-linejoin="round"/>
<polygon points="709.1,912.2 714.2,913.9 719.2,918.2 722.6,925.6 718.5,933.0 707.5,935.5 701.4,933.8 697.7,922.7 701.5,919.5" fill="rgb(133,133,133)" fill-opacity="0.75" stroke="rgb(208,208,208)" stroke-opacity="0.68" stroke-width="1.4" stroke-linejoin="round"/>
<polygon points="635.9,972.8 643.6,982.7 642.0,993.2 638.4,997.8 624.2,994.7 621.1,984.2 627.0,977.1" fill="rgb(136,136,136)" fill-opacity="0.75" stroke="rgb(213,213,213)" stroke-opacity="0.70" stroke-width="1.4" stroke-linejoin="round"/>
<polygon points="923.3,1040.9 925.9,1047.0 927.1,1052.5 919.6,1059.5 910.8,1058.0 907.0,1051.1 907.6,1045.4 914.3,1040.0" fill="rgb(112,112,112)" fill-opacity="0.75" stroke="rgb(169,169,169)" stroke-opacity="0.50" stroke-width="1.4" stroke-linejoin="round"/>
<polygon points="809.7,954.6 803.0,955.1 800.1,949.6 798.7,941.2 801.6,935.3 811.8,933.1 815.4,935.7 821.3,941.1 819.6,951.6" fill="rgb(107,107,107)" fill-opacity="0.75" stroke="rgb(167,167,167)" stroke-opacity="0.49" stroke-width="1.4" stroke-linejoin="round"/>
<polygon points="807.4,861.1 802.4,859.1 794.5,852.7 793.4,841.2 798.3,836.1 811.6,835.3 815.4,844.9 816.6,852.6" fill="rgb(103,103,103)" fill-opacity="0.75" stroke="rgb(175,175,175)" stroke-opacity="0.53" stroke-width="1.4" stroke-linejoin="round"/>
<polygon points="595.7,1016.5 604.3,1022.3 607.6,1028.1 603.0,1038.1 595.9,1041.6 584.5,1038.7 582.3,1032.5 583.1,1023.1 585.9,1018.7" fill="rgb(109,109,109)" fill-opacity="0.75" stroke="rgb(184,184,184)" stroke-opacity="0.57" stroke-width="1.4" stroke-linejoin="round"/>
<polygon points="710.8,899.4 703.8,896.0 705.1,885.7 707.4,882.4 716.5,880.9 720.7,886.9 720.2,893.9 716.8,897.4" fill="rgb(126,126,126)" fill-opacity="0.75" stroke="rgb(181,181,181)" stroke-opacity="0.56" stroke-width="1.4" stroke-linejoin="round"/>
<polygon points="775.5,996.2 782.5,999.1 787.7,1008.4 782.5,1015.8 775.0,1015.1 768.7,1013.6 767.0,1006.3 771.2,999.8" fill="rgb(107,107,107)" fill-opacity="0.75" stroke="rgb(157,157,157)" stroke-opacity="0.45" stroke-width="1.4" stroke-linejoin="round"/>
<polygon points="910.0,988.2 911.1,980.2 920.5,977.9 929.7,981.9 931.1,990.7 926.0,997.2 915.9,994.9" fill="rgb(86,86,86)" fill-opacity="0.75" stroke="rgb(148,148,148)" stroke-opacity="0.41" stroke-width="1.4" stroke-linejoin="round"/>
<polygon points="744.9,1067.5 739.4,1063.1 736.5,1057.0 738.0,1052.5 742.5,1047.0 752.6,1049.0 756.4,1052.5 757.4,1058.1 752.2,1067.2" fill="rgb(108,108,108)" fill-opacity="0.75" stroke="rgb(164,164,164)" stroke-opacity="0.48" stroke-width="1.4" stroke-linejoin="round"/>
<polygon points="651.6,866.5 654.6,859.6 661.6,857.3 670.2,860.4 671.6,864.0 671.6,873.0 667.1,879.3 659.1,881.9 654.8,877.3" fill="rgb(101,101,101)" fill-opacity="0.75" stroke="rgb(164,164,164)" stroke-opacity="0.48" stroke-width="1.4" stroke-linejoin="round"/>
<polygon points="872.6,942.9 863.9,942.3 858.3,938.2 857.9,931.9 858.7,925.9 870.2,921.7 876.7,924.0 879.5,929.7 880.0,936.4" fill="rgb(103,103,103)" fill-opacity="0.75" stroke="rgb(150,150,150)" stroke-opacity="0.42" stroke-width="1.4" stroke-linejoin="round"/>
<polygon points="682.9,930.1 678.8,933.9 668.4,941.0 658.9,937.5 657.1,930.3 657.2,917.2 663.2,912.5 675.9,914.0 681.6,921.8" fill="rgb(132,132,132)" fill-opacity="0.75" stroke="rgb(211,211,211)" stroke-opacity="0.69" stroke-width="1.4" stroke-linejoin="round"/>
<polygon points="760.8,831.7 768.9,825.9 777.8,826.9 781.8,835.0 783.7,843.8 773.9,849.8 765.9,850.2 759.1,842.2" fill="rgb(132,132,132)" fill-opacity="0.75" stroke="rgb(202,202,202)" stroke-opacity="0.65" stroke-width="1.4" stroke-linejoin="round"/>
<polygon points="483.2,1027.8 478.0,1018.8 480.8,1010.8 487.6,1006.4 497.3,1008.9 500.5,1018.7 495.4,1029.1" fill="rgb(95,95,95)" fill-opacity="0.75" stroke="rgb(135,135,135)" stroke-opacity="0.35" stroke-width="1.4" stroke-linejoin="round"/>
<polygon points="880.4,1068.5 875.3,1063.3 874.8,1055.8 886.2,1049.6 891.4,1056.1 895.2,1061.4 887.0,1069.0" fill="rgb(112,112,112)" fill-opacity="0.75" stroke="rgb(183,183,183)" stroke-opacity="0.57" stroke-width="1.4" stroke-linejoin="round"/>
<polygon points="640.0,1013.7 626.1,1009.7 622.4,1006.1 621.9,994.8 630.1,986.0 641.3,990.2 647.9,997.2 648.1,1006.6" fill="rgb(145,145,145)" fill-opacity="0.75" stroke="rgb(213,213,213)" stroke-opacity="0.70" stroke-width="1.4" stroke-linejoin="round"/>
<polygon points="632.0,1099.2 630.8,1093.4 637.0,1084.6 644.8,1085.1 652.2,1089.3 655.5,1095.5 650.3,1106.2 642.8,1106.8 634.4,1104.3" fill="rgb(101,101,101)" fill-opacity="0.75" stroke="rgb(172,172,172)" stroke-opacity="0.52" stroke-width="1.4" stroke-linejoin="round"/>
<polygon points="597.0,1036.5 605.4,1039.5 607.4,1047.9 601.1,1054.6 592.5,1054.7 589.0,1049.2 589.6,1038.7" fill="rgb(117,117,117)" fill-opacity="0.75" stroke="rgb(181,181,181)" stroke-opacity="0.56" stroke-width="1.4" stroke-linejoin="round"/>
<polygon points="502.5,875.8 500.3,868.7 502.4,864.1 508.5,859.1 516.0,862.4 519.6,863.8 521.0,870.0 514.9,876.3 508.4,878.8" fill="rgb(100,100,100)" fill-opacity="0.75" stroke="rgb(164,164,164)" stroke-opacity="0.48" stroke-width="1.4" stroke-linejoin="round"/>
<polygon points="817.3,1070.0 822.3,1070.0 827.5,1074.8 829.5,1078.6 826.9,1087.2 824.6,1088.7 817.5,1088.8 811.0,1082.5 813.2,1075.7" fill="rgb(118,118,118)" fill-opacity="0.75" stroke="rgb(190,190,190)" stroke-opacity="0.60" stroke-width="1.4" stroke-linejoin="round"/>
<polygon points="731.2,1056.3 735.7,1055.9 741.3,1058.4 740.7,1066.9 735.7,1073.6 729.4,1072.7 724.7,1069.4 724.6,1062.8 725.7,1059.2" fill="rgb(101,101,101)" fill-opacity="0.75" stroke="rgb(168,168,168)" stroke-opacity="0.50" stroke-width="1.4" stroke-linejoin="round"/>
<polygon points="904.8,1047.6 898.1,1049.3 889.3,1045.3 884.2,1037.4 894.7,1028.2 901.3,1025.7 908.8,1033.8" fill="rgb(111,111,111)" fill-opacity="0.75" stroke="rgb(164,164,164)" stroke-opacity="0.48" stroke-width="1.4" stroke-linejoin="round"/>
<polygon points="784.6,963.7 795.4,956.4 801.6,960.0 805.3,964.9 804.0,976.4 792.7,980.9 785.1,975.8 780.9,969.3" fill="rgb(115,115,115)" fill-opacity="0.75" stroke="rgb(170,170,170)" stroke-opacity="0.51" stroke-width="1.4" stroke-linejoin="round"/>
<polygon points="821.6,863.5 824.3,871.8 817.7,881.3 810.1,880.4 804.5,871.9 804.4,865.7 813.2,862.2" fill="rgb(113,113,113)" fill-opacity="0.75" stroke="rgb(169,169,169)" stroke-opacity="0.50" stroke-width="1.4" stroke-linejoin="round"/>
<polygon points="670.9,926.1 661.4,924.7 660.1,916.2 660.3,909.0 669.7,903.3 676.9,905.7 680.9,909.5 685.3,918.0 678.8,928.0" fill="rgb(138,138,138)" fill-opacity="0.75" stroke="rgb(204,204,204)" stroke-opacity="0.66" stroke-width="1.4" stroke-linejoin="round"/>
<polygon points="627.7,960.3 620.2,951.3 621.7,943.2 627.5,936.6 632.7,932.3 642.9,941.0 642.9,950.8 637.4,959.0" fill="rgb(145,145,145)" fill-opacity="0.75" stroke="rgb(213,213,213)" stroke-opacity="0.70" stroke-width="1.4" stroke-linejoin="round"/>
<polygon points="690.5,1010.8 683.5,1012.8 679.4,1007.3 680.4,998.0 688.8,994.5 694.1,996.8 695.3,1005.6" fill="rgb(131,131,131)" fill-opacity="0.75" stroke="rgb(196,196,196)" stroke-opacity="0.62" stroke-width="1.4" stroke-linejoin="round"/>
<polygon points="826.5,804.7 821.2,798.2 823.0,789.4 831.8,783.2 840.6,785.0 841.6,798.9 836.9,804.8" fill="rgb(108,108,108)" fill-opacity="0.75" stroke="rgb(164,164,164)" stroke-opacity="0.48" stroke-width="1.4" stroke-linejoin="round"/>
<polygon points="855.8,806.1 851.9,798.8 855.8,791.6 866.1,791.0 871.8,790.6 874.8,800.2 875.1,805.5 870.7,810.1 862.0,810.9" fill="rgb(98,98,98)" fill-opacity="0.75" stroke="rgb(164,164,164)" stroke-opacity="0.48" stroke-width="1.4" stroke-linejoin="round"/>
<polygon points="487.5,1073.1 487.9,1082.5 482.9,1083.8 473.9,1083.0 470.2,1081.2 470.9,1070.1 475.7,1069.3 484.2,1069.1" fill="rgb(79,79,79)" fill-opacity="0.75" stroke="rgb(135,135,135)" stroke-opacity="0.35" stroke-width="1.4" stroke-linejoin="round"/>
<polygon points="705.2,913.3 714.0,919.6 715.6,928.5 709.4,939.2 695.3,939.2 688.9,932.5 688.6,920.1" fill="rgb(135,135,135)" fill-opacity="0.75" stroke="rgb(207,207,207)" stroke-opacity="0.67" stroke-width="1.4" stroke-linejoin="round"/>
<polygon points="787.8,925.9 801.5,927.2 802.4,934.1 799.8,946.2 792.4,947.7 784.6,942.9 784.9,933.2" fill="rgb(118,118,118)" fill-opacity="0.75" stroke="rgb(188,188,188)" stroke-opacity="0.59" stroke-width="1.4" stroke-linejoin="round"/>
<polygon points="896.2,920.7 885.5,925.9 881.9,922.5 878.4,917.3 881.0,906.0 885.2,900.4 891.2,901.9 900.2,908.6 898.9,917.5" fill="rgb(108,108,108)" fill-opacity="0.75" stroke="rgb(164,164,164)" stroke-opacity="0.48" stroke-width="1.4" stroke-linejoin="round"/>
<polygon points="867.5,1031.0 882.8,1026.9 892.7,1033.1 893.0,1045.8 885.1,1051.6 873.5,1051.9 867.0,1044.6" fill="rgb(114,114,114)" fill-opacity="0.75" stroke="rgb(163,163,163)" stroke-opacity="0.48" stroke-width="1.4" stroke-linejoin="round"/>
<polygon points="756.4,980.0 763.1,972.3 769.4,971.0 778.9,978.8 779.2,983.2 775.6,988.6 768.6,992.3 761.3,993.6 757.5,984.0" fill="rgb(124,124,124)" fill-opacity="0.75" stroke="rgb(178,178,178)" stroke-opacity="0.54" stroke-width="1.4" stroke-linejoin="round"/>
<polygon points="858.6,1053.8 850.4,1056.7 841.8,1055.9 837.0,1046.0 843.3,1038.8 848.7,1035.7 858.2,1046.0" fill="rgb(109,109,109)" fill-opacity="0.75" stroke="rgb(174,174,174)" stroke-opacity="0.53" stroke-width="1.4" stroke-linejoin="round"/>
<polygon points="867.7,1079.9 857.3,1075.0 857.6,1072.1 858.1,1064.9 862.7,1058.0 870.4,1059.5 877.1,1064.7 878.6,1069.4 872.2,1078.5" fill="rgb(113,113,113)" fill-opacity="0.75" stroke="rgb(183,183,183)" stroke-opacity="0.56" stroke-width="1.4" stroke-linejoin="round"/>
<polygon points="610.2,808.4 598.6,817.3 587.1,812.3 583.4,805.8 588.3,794.2 599.3,791.4 613.4,798.7" fill="rgb(114,114,114)" fill-opacity="0.75" stroke="rgb(164,164,164)" stroke-opacity="0.48" stroke-width="1.4" stroke-linejoin="round"/>
<polygon points="791.6,971.8 793.1,964.6 798.0,958.6 806.6,960.6 812.8,967.9 811.2,974.2 804.6,978.1 795.6,976.0" fill="rgb(108,108,108)" fill-opacity="0.75" stroke="rgb(164,164,164)" stroke-opacity="0.48" stroke-width="1.4" stroke-linejoin="round"/>
<polygon points="717.0,837.8 728.4,844.6 727.8,856.6 724.3,864.3 708.5,862.9 702.6,858.2 701.1,846.7 709.7,839.4" fill="rgb(92,92,92)" fill-opacity="0.75" stroke="rgb(151,151,151)" stroke-opacity="0.42" stroke-width="1.4" stroke-linejoin="round"/>
<polygon points="832.0,1064.7 831.1,1059.0 839.8,1052.1 846.6,1053.7 849.8,1062.5 846.6,1068.8 836.2,1068.7" fill="rgb(131,131,131)" fill-opacity="0.75" stroke="rgb(189,189,189)" stroke-opacity="0.59" stroke-width="1.4" stroke-linejoin="round"/>
<polygon points="752.7,1049.7 746.7,1050.6 736.7,1047.5 733.5,1042.8 737.1,1029.8 745.7,1028.9 748.5,1029.7 758.0,1036.4 755.2,1044.0" fill="rgb(101,101,101)" fill-opacity="0.75" stroke="rgb(154,154,154)" stroke-opacity="0.43" stroke-width="1.4" stroke-linejoin="round"/>
<polygon points="636.9,883.9 641.3,894.2 635.5,901.5 627.5,904.1 621.6,894.2 619.9,885.7 627.8,882.6" fill="rgb(126,126,126)" fill-opacity="0.75" stroke="rgb(194,194,194)" stroke-opacity="0.61" stroke-width="1.4" stroke-linejoin="round"/>
<polygon points="802.1,1064.7 798.4,1074.5 790.6,1076.7 783.5,1071.1 781.1,1063.2 781.4,1056.1 789.6,1052.7 799.5,1058.8" fill="rgb(126,126,126)" fill-opacity="0.75" stroke="rgb(192,192,192)" stroke-opacity="0.60" stroke-width="1.4" stroke-linejoin="round"/>
<polygon points="916.1,866.7 917.4,876.4 914.5,878.9 903.0,886.0 895.3,883.7 889.8,873.9 892.2,865.3 901.6,858.1 904.7,860.9" fill="rgb(106,106,106)" fill-opacity="0.75" stroke="rgb(164,164,164)" stroke-opacity="0.48" stroke-width="1.4" stroke-linejoin="round"/>
<polygon points="551.8,859.7 548.4,850.9 555.2,842.1 570.6,840.1 573.6,845.5 572.3,860.9 560.7,865.1" fill="rgb(112,112,112)" fill-opacity="0.75" stroke="rgb(164,164,164)" stroke-opacity="0.48" stroke-width="1.4" stroke-linejoin="round"/>
<polygon points="519.8,980.9 522.0,975.3 530.7,973.2 536.2,977.3 539.4,988.4 537.3,990.3 531.7,997.7 521.3,993.7 515.9,985.4" fill="rgb(104,104,104)" fill-opacity="0.75" stroke="rgb(165,165,165)" stroke-opacity="0.48" stroke-width="1.4" stroke-linejoin="round"/>
<polygon points="636.8,809.8 628.6,807.4 623.1,793.6 627.8,786.3 633.1,783.8 645.8,789.9 646.8,798.4 645.4,805.1" fill="rgb(102,102,102)" fill-opacity="0.75" stroke="rgb(164,164,164)" stroke-opacity="0.48" stroke-width="1.4" stroke-linejoin="round"/>
<polygon points="502.9,918.0 495.4,915.9 490.9,912.6 493.2,905.5 494.6,903.0 503.0,900.5 505.3,901.4 509.6,906.8 509.5,915.1" fill="rgb(109,109,109)" fill-opacity="0.75" stroke="rgb(162,162,162)" stroke-opacity="0.47" stroke-width="1.4" stroke-linejoin="round"/>
<polygon points="573.6,934.7 578.5,926.2 591.2,924.5 597.3,933.2 596.1,944.4 587.4,948.6 574.6,942.6" fill="rgb(139,139,139)" fill-opacity="0.75" stroke="rgb(213,213,213)" stroke-opacity="0.70" stroke-width="1.4" stroke-linejoin="round"/>
<polygon points="532.4,971.7 530.0,966.8 535.6,951.8 545.6,950.3 555.0,957.5 553.0,968.4 543.9,975.4" fill="rgb(122,122,122)" fill-opacity="0.75" stroke="rgb(200,200,200)" stroke-opacity="0.64" stroke-width="1.4" stroke-linejoin="round"/>
<polygon points="516.0,1080.7 520.4,1087.7 523.9,1097.1 519.2,1106.0 508.9,1106.4 502.0,1102.7 496.6,1095.0 502.0,1082.3" fill="rgb(84,84,84)" fill-opacity="0.75" stroke="rgb(135,135,135)" stroke-opacity="0.35" stroke-width="1.4" stroke-linejoin="round"/>
<polygon points="639.7,862.9 631.6,866.8 620.4,864.4 619.6,849.6 624.4,843.7 638.1,842.9 643.8,852.5" fill="rgb(106,106,106)" fill-opacity="0.75" stroke="rgb(164,164,164)" stroke-opacity="0.48" stroke-width="1.4" stroke-linejoin="round"/>
<polygon points="642.9,1010.8 647.7,1016.3 649.3,1026.3 645.1,1029.9 634.4,1028.6 630.3,1020.2 630.7,1015.1" fill="rgb(132,132,132)" fill-opacity="0.75" stroke="rgb(206,206,206)" stroke-opacity="0.67" stroke-width="1.4" stroke-linejoin="round"/>
<polygon points="645.0,1096.1 635.0,1097.8 629.0,1088.5 633.0,1078.5 642.1,1076.8 650.2,1078.7 649.6,1089.8" fill="rgb(120,120,120)" fill-opacity="0.75" stroke="rgb(182,182,182)" stroke-opacity="0.56" stroke-width="1.4" stroke-linejoin="round"/>
<polygon points="636.9,939.2 630.3,930.3 631.3,925.5 635.2,919.4 645.9,921.3 650.7,928.0 650.8,935.7 641.1,940.2" fill="rgb(135,135,135)" fill-opacity="0.75" stroke="rgb(213,213,213)" stroke-opacity="0.70" stroke-width="1.4" stroke-linejoin="round"/>
<polygon points="518.0,904.8 523.0,899.1 534.1,900.3 538.7,904.3 535.9,918.4 525.1,923.4 517.3,915.7" fill="rgb(127,127,127)" fill-opacity="0.75" stroke="rgb(208,208,208)" stroke-opacity="0.68" stroke-width="1.4" stroke-linejoin="round"/>
<polygon points="556.3,907.3 548.5,906.8 546.2,900.9 548.2,890.2 555.8,886.9 565.4,892.0 564.5,901.9" fill="rgb(132,132,132)" fill-opacity="0.75" stroke="rgb(205,205,205)" stroke-opacity="0.66" stroke-width="1.4" stroke-linejoin="round"/>
<polygon points="865.6,1097.7 861.4,1092.9 861.3,1087.9 864.8,1080.0 871.5,1079.3 875.6,1082.5 880.7,1090.0 875.6,1095.3 869.3,1098.6" fill="rgb(118,118,118)" fill-opacity="0.75" stroke="rgb(175,175,175)" stroke-opacity="0.53" stroke-width="1.4" stroke-linejoin="round"/>
<polygon points="668.7,1091.5 677.9,1092.9 680.7,1098.6 678.8,1108.6 666.0,1112.7 661.5,1109.5 658.0,1100.4" fill="rgb(106,106,106)" fill-opacity="0.75" stroke="rgb(173,173,173)" stroke-opacity="0.52" stroke-width="1.4" stroke-linejoin="round"/>
<polygon points="765.5,783.1 767.0,793.3 763.2,799.5 755.8,800.5 748.8,794.6 747.7,789.0 753.8,781.6 760.4,782.5" fill="rgb(106,106,106)" fill-opacity="0.75" stroke="rgb(168,168,168)" stroke-opacity="0.50" stroke-width="1.4" stroke-linejoin="round"/>
<polygon points="829.6,838.3 830.4,825.2 838.2,819.5 845.1,821.7 849.5,824.0 850.2,834.7 844.3,842.9 837.8,842.4" fill="rgb(113,113,113)" fill-opacity="0.75" stroke="rgb(164,164,164)" stroke-opacity="0.48" stroke-width="1.4" stroke-linejoin="round"/>
<polygon points="635.1,827.3 628.9,826.8 624.5,820.4 623.3,817.0 626.9,813.1 634.1,810.4 637.8,812.8 639.4,817.2 638.2,824.6" fill="rgb(104,104,104)" fill-opacity="0.75" stroke="rgb(164,164,164)" stroke-opacity="0.48" stroke-width="1.4" stroke-linejoin="round"/>
<polygon points="739.0,953.3 736.6,956.5 730.6,957.7 722.2,956.4 720.6,948.8 721.7,943.9 727.4,939.6 733.3,941.5 736.3,944.1" fill="rgb(139,139,139)" fill-opacity="0.75" stroke="rgb(206,206,206)" stroke-opacity="0.67" stroke-width="1.4" stroke-linejoin="round"/>
<polygon points="568.1,1093.1 554.6,1085.3 554.2,1077.7 560.1,1070.0 574.6,1071.1 579.1,1075.3 576.5,1085.9" fill="rgb(94,94,94)" fill-opacity="0.75" stroke="rgb(136,136,136)" stroke-opacity="0.36" stroke-width="1.4" stroke-linejoin="round"/>
<polygon points="571.2,812.7 565.0,820.1 557.9,819.7 552.5,813.2 556.3,807.8 561.6,802.9 567.3,806.5" fill="rgb(101,101,101)" fill-opacity="0.75" stroke="rgb(164,164,164)" stroke-opacity="0.48" stroke-width="1.4" stroke-linejoin="round"/>
<polygon points="712.5,794.1 720.8,794.1 724.7,797.6 726.0,805.2 721.2,808.4 715.7,810.2 709.3,806.9 707.2,801.8 707.1,797.3" fill="rgb(89,89,89)" fill-opacity="0.75" stroke="rgb(135,135,135)" stroke-opacity="0.35" stroke-width="1.4" stroke-linejoin="round"/>
<polygon points="611.0,1067.8 618.7,1068.2 624.8,1073.6 631.1,1083.1 623.3,1091.6 615.0,1094.5 608.7,1088.8 604.5,1084.7 604.3,1074.1" fill="rgb(113,113,113)" fill-opacity="0.75" stroke="rgb(182,182,182)" stroke-opacity="0.56" stroke-width="1.4" stroke-linejoin="round"/>
<polygon points="922.3,1106.7 919.4,1101.3 920.6,1095.1 929.4,1090.7 935.6,1095.7 936.0,1101.7 932.1,1108.7" fill="rgb(99,99,99)" fill-opacity="0.75" stroke="rgb(166,166,166)" stroke-opacity="0.49" stroke-width="1.4" stroke-linejoin="round"/>
<polygon points="606.4,998.0 610.0,995.2 620.8,989.6 630.0,998.2 633.8,1004.3 629.7,1016.5 617.7,1018.8 609.3,1015.8 603.3,1009.6" fill="rgb(131,131,131)" fill-opacity="0.75" stroke="rgb(213,213,213)" stroke-opacity="0.70" stroke-width="1.4" stroke-linejoin="round"/>
<polygon points="557.3,910.6 554.2,915.9 540.1,917.4 536.7,912.1 532.9,898.9 536.5,894.4 543.4,890.4 552.1,894.1 559.3,901.5" fill="rgb(141,141,141)" fill-opacity="0.75" stroke="rgb(209,209,209)" stroke-opacity="0.68" stroke-width="1.4" stroke-linejoin="round"/>
<polygon points="747.3,1070.9 755.5,1070.0 759.5,1074.3 762.9,1082.2 755.7,1090.5 748.3,1091.7 742.0,1086.9 740.1,1083.9 741.1,1074.7" fill="rgb(97,97,97)" fill-opacity="0.75" stroke="rgb(164,164,164)" stroke-opacity="0.48" stroke-width="1.4" stroke-linejoin="round"/>
<polygon points="490.8,864.4 494.2,872.8 490.1,881.8 482.9,887.8 469.0,878.9 469.7,873.0 474.8,863.3 484.2,858.2" fill="rgb(101,101,101)" fill-opacity="0.75" stroke="rgb(164,164,164)" stroke-opacity="0.48" stroke-width="1.4" stroke-linejoin="round"/>
<polygon points="724.3,977.6 725.0,982.8 719.9,988.9 713.0,993.7 704.4,988.2 700.8,978.8 708.4,972.3 714.9,972.3" fill="rgb(126,126,126)" fill-opacity="0.75" stroke="rgb(196,196,196)" stroke-opacity="0.62" stroke-width="1.4" stroke-linejoin="round"/>
<polygon points="689.5,879.3 687.7,887.6 679.3,892.2 671.3,892.3 663.8,881.6 664.4,872.1 670.5,870.2 678.2,866.5 687.2,873.8" fill="rgb(98,98,98)" fill-opacity="0.75" stroke="rgb(164,164,164)" stroke-opacity="0.48" stroke-width="1.4" stroke-linejoin="round"/>
<polygon points="870.6,801.9 867.1,792.5 871.9,782.7 882.2,781.6 890.5,788.8 889.3,802.0 882.1,806.1" fill="rgb(99,99,99)" fill-opacity="0.75" stroke="rgb(164,164,164)" stroke-opacity="0.48" stroke-width="1.4" stroke-linejoin="round"/>
<polygon points="817.7,973.7 821.4,980.7 820.8,995.6 811.4,1000.6 798.6,991.3 796.7,978.6 805.6,973.1" fill="rgb(96,96,96)" fill-opacity="0.75" stroke="rgb(156,156,156)" stroke-opacity="0.44" stroke-width="1.4" stroke-linejoin="round"/>
<polygon points="783.5,1011.8 779.6,1009.1 780.2,998.9 786.2,991.2 798.5,992.8 801.2,996.9 799.6,1009.7 796.2,1012.7" fill="rgb(108,108,108)" fill-opacity="0.75" stroke="rgb(163,163,163)" stroke-opacity="0.48" stroke-width="1.4" stroke-linejoin="round"/>
<polygon points="662.1,998.6 668.3,1009.3 667.4,1017.7 653.9,1020.9 644.6,1020.4 639.9,1011.6 643.2,1003.1 654.6,993.8" fill="rgb(136,136,136)" fill-opacity="0.75" stroke="rgb(210,210,210)" stroke-opacity="0.68" stroke-width="1.4" stroke-linejoin="round"/>
<polygon points="721.8,918.1 714.5,926.4 708.6,932.0 697.8,925.9 693.1,920.7 697.2,908.2 701.7,907.1 710.7,902.5 719.3,908.4" fill="rgb(139,139,139)" fill-opacity="0.75" stroke="rgb(206,206,206)" stroke-opacity="0.67" stroke-width="1.4" stroke-linejoin="round"/>
<polygon points="610.1,962.1 597.3,963.2 590.5,955.3 591.6,944.1 600.4,938.3 607.0,939.5 615.0,952.4" fill="rgb(143,143,143)" fill-opacity="0.75" stroke="rgb(213,213,213)" stroke-opacity="0.70" stroke-width="1.4" stroke-linejoin="round"/>
<polygon points="567.8,842.1 557.5,848.0 550.1,844.0 544.6,835.8 549.8,826.8 554.1,820.6 569.1,826.6 570.9,831.5" fill="rgb(97,97,97)" fill-opacity="0.75" stroke="rgb(164,164,164)" stroke-opacity="0.48" stroke-width="1.4" stroke-linejoin="round"/>
<polygon points="707.0,942.0 706.1,946.5 696.6,949.7 690.1,945.9 691.4,937.9 695.5,933.0 704.6,935.1" fill="rgb(136,136,136)" fill-opacity="0.75" stroke="rgb(204,204,204)" stroke-opacity="0.66" stroke-width="1.4" stroke-linejoin="round"/>
<polygon points="545.8,875.4 552.6,865.5 558.7,868.9 566.8,878.2 568.0,885.5 561.7,889.9 550.5,888.6 544.1,881.2" fill="rgb(116,116,116)" fill-opacity="0.75" stroke="rgb(173,173,173)" stroke-opacity="0.52" stroke-width="1.4" stroke-linejoin="round"/>
<polygon points="923.4,937.5 918.7,932.9 915.0,920.9 918.1,917.9 923.6,911.1 934.5,912.2 942.1,920.9 939.4,927.5 931.5,936.6" fill="rgb(105,105,105)" fill-opacity="0.75" stroke="rgb(164,164,164)" stroke-opacity="0.48" stroke-width="1.4" stroke-linejoin="round"/>
<polygon points="724.5,1111.7 714.3,1108.9 710.7,1103.1 714.8,1096.2 721.7,1093.5 728.1,1097.8 728.8,1105.0" fill="rgb(106,106,106)" fill-opacity="0.75" stroke="rgb(165,165,165)" stroke-opacity="0.48" stroke-width="1.4" stroke-linejoin="round"/>
<polygon points="624.8,894.1 629.2,908.4 620.8,916.0 612.1,915.0 605.1,911.1 607.0,898.4 613.9,893.0" fill="rgb(133,133,133)" fill-opacity="0.75" stroke="rgb(211,211,211)" stroke-opacity="0.69" stroke-width="1.4" stroke-linejoin="round"/>
<polygon points="610.2,828.3 603.5,816.9 609.2,810.2 613.9,808.3 622.7,813.0 625.7,820.4 617.2,826.4" fill="rgb(100,100,100)" fill-opacity="0.75" stroke="rgb(164,164,164)" stroke-opacity="0.48" stroke-width="1.4" stroke-linejoin="round"/>
<polygon points="894.9,823.5 907.5,822.3 913.6,831.6 917.6,838.2 909.5,847.3 899.8,849.6 888.8,844.5 889.2,832.5" fill="rgb(96,96,96)" fill-opacity="0.75" stroke="rgb(164,164,164)" stroke-opacity="0.48" stroke-width="1.4" stroke-linejoin="round"/>
<polygon points="799.9,814.0 809.3,815.6 814.9,823.7 816.9,834.4 805.5,845.9 796.3,843.9 787.3,833.5 791.0,821.0" fill="rgb(113,113,113)" fill-opacity="0.75" stroke="rgb(177,177,177)" stroke-opacity="0.54" stroke-width="1.4" stroke-linejoin="round"/>
<polygon points="547.4,866.0 538.0,865.7 534.4,861.9 534.1,853.8 539.6,848.8 547.4,850.5 552.1,854.6 550.4,859.2" fill="rgb(102,102,102)" fill-opacity="0.75" stroke="rgb(164,164,164)" stroke-opacity="0.48" stroke-width="1.4" stroke-linejoin="round"/>
<polygon points="581.5,1076.7 589.5,1067.0 602.3,1070.3 605.3,1076.5 604.4,1087.5 600.6,1095.1 590.8,1095.5 585.1,1094.0 577.6,1080.4" fill="rgb(112,112,112)" fill-opacity="0.75" stroke="rgb(160,160,160)" stroke-opacity="0.46" stroke-width="1.4" stroke-linejoin="round"/>
<polygon points="891.9,1025.4 894.6,1029.2 893.3,1036.6 888.7,1041.1 881.9,1041.1 875.7,1037.3 875.0,1029.0 876.1,1023.3 882.7,1020.6" fill="rgb(103,103,103)" fill-opacity="0.75" stroke="rgb(149,149,149)" stroke-opacity="0.41" stroke-width="1.4" stroke-linejoin="round"/>
<polygon points="896.0,1101.7 888.5,1103.8 882.8,1099.8 881.7,1090.4 888.8,1082.4 896.5,1084.4 901.2,1087.4 902.8,1096.4" fill="rgb(118,118,118)" fill-opacity="0.75" stroke="rgb(173,173,173)" stroke-opacity="0.52" stroke-width="1.4" stroke-linejoin="round"/>
<polygon points="894.7,888.6 895.8,882.2 907.4,877.9 917.0,883.8 922.6,889.9 917.7,901.9 908.7,904.3 895.2,900.2" fill="rgb(109,109,109)" fill-opacity="0.75" stroke="rgb(164,164,164)" stroke-opacity="0.48" stroke-width="1.4" stroke-linejoin="round"/>
<polygon points="725.4,968.6 721.0,975.1 713.7,975.5 708.8,971.7 707.9,962.9 716.0,956.6 722.0,959.3" fill="rgb(122,122,122)" fill-opacity="0.75" stroke="rgb(197,197,197)" stroke-opacity="0.63" stroke-width="1.4" stroke-linejoin="round"/>
<polygon points="630.2,879.9 634.2,871.1 638.4,871.5 645.6,874.7 647.6,877.1 646.2,884.2 641.4,887.9 636.3,887.7 632.2,883.7" fill="rgb(113,113,113)" fill-opacity="0.75" stroke="rgb(170,170,170)" stroke-opacity="0.51" stroke-width="1.4" stroke-linejoin="round"/>
<polygon points="677.3,901.2 681.6,892.0 694.0,891.7 695.9,897.4 698.1,907.6 697.0,915.6 682.3,918.0 676.9,911.0" fill="rgb(112,112,112)" fill-opacity="0.75" stroke="rgb(179,179,179)" stroke-opacity="0.55" stroke-width="1.4" stroke-linejoin="round"/>
<polygon points="872.2,1031.2 861.1,1035.7 851.6,1028.1 851.5,1020.4 850.2,1014.4 862.6,1008.1 871.5,1008.7 873.9,1014.9 877.2,1022.1" fill="rgb(90,90,90)" fill-opacity="0.75" stroke="rgb(129,129,129)" stroke-opacity="0.32" stroke-width="1.4" stroke-linejoin="round"/>
<polygon points="796.1,814.5 798.8,807.2 808.2,805.8 815.8,808.0 818.2,810.8 817.5,822.5 810.2,827.3 803.3,825.5 798.6,826.1" fill="rgb(118,118,118)" fill-opacity="0.75" stroke="rgb(167,167,167)" stroke-opacity="0.49" stroke-width="1.4" stroke-linejoin="round"/>
<polygon points="815.7,914.7 827.7,922.4 826.9,929.6 825.0,940.6 812.0,943.1 804.8,938.1 799.4,924.0 807.1,918.8" fill="rgb(117,117,117)" fill-opacity="0.75" stroke="rgb(178,178,178)" stroke-opacity="0.54" stroke-width="1.4" stroke-linejoin="round"/>
<polygon points="577.3,983.8 577.5,977.3 581.9,972.8 589.5,973.2 595.2,983.3 592.2,988.7 584.4,990.8" fill="rgb(132,132,132)" fill-opacity="0.75" stroke="rgb(213,213,213)" stroke-opacity="0.70" stroke-width="1.4" stroke-linejoin="round"/>
<polygon points="707.5,840.2 699.1,846.5 691.1,849.4 685.6,843.9 684.4,830.5 691.2,823.8 700.2,825.3" fill="rgb(99,99,99)" fill-opacity="0.75" stroke="rgb(147,147,147)" stroke-opacity="0.40" stroke-width="1.4" stroke-linejoin="round"/>
<polygon points="657.6,902.2 650.9,901.9 643.1,896.8 641.6,887.6 650.9,879.9 659.3,880.0 665.2,888.8" fill="rgb(122,122,122)" fill-opacity="0.75" stroke="rgb(180,180,180)" stroke-opacity="0.55" stroke-width="1.4" stroke-linejoin="round"/>
<polygon points="712.7,1080.9 717.8,1071.9 725.9,1064.1 734.4,1071.4 736.4,1083.7 729.7,1089.6 718.5,1085.7" fill="rgb(118,118,118)" fill-opacity="0.75" stroke="rgb(169,169,169)" stroke-opacity="0.50" stroke-width="1.4" stroke-linejoin="round"/>
<polygon points="640.2,832.9 638.4,838.6 631.1,839.7 624.2,839.1 621.6,829.2 621.4,824.7 628.4,820.5 636.5,821.6" fill="rgb(101,101,101)" fill-opacity="0.75" stroke="rgb(164,164,164)" stroke-opacity="0.48" stroke-width="1.4" stroke-linejoin="round"/>
<polygon points="749.3,831.0 749.6,840.2 737.6,848.5 724.6,842.8 722.7,831.2 727.2,821.3 744.7,820.2" fill="rgb(100,100,100)" fill-opacity="0.75" stroke="rgb(167,167,167)" stroke-opacity="0.50" stroke-width="1.4" stroke-linejoin="round"/>
<polygon points="854.0,866.3 857.4,875.1 852.5,880.8 842.6,882.0 835.7,876.5 834.5,867.2 837.6,863.7 847.0,860.6" fill="rgb(107,107,107)" fill-opacity="0.75" stroke="rgb(165,165,165)" stroke-opacity="0.48" stroke-width="1.4" stroke-linejoin="round"/>
<polygon points="621.8,838.3 613.2,839.7 607.9,832.0 610.0,822.3 616.4,818.8 622.1,819.5 628.9,826.2 629.2,833.3" fill="rgb(107,107,107)" fill-opacity="0.75" stroke="rgb(164,164,164)" stroke-opacity="0.48" stroke-width="1.4" stroke-linejoin="round"/>
<polygon points="894.3,817.5 897.3,820.2 894.9,826.4 890.4,832.6 879.9,830.7 876.4,825.1 875.6,819.9 883.0,812.9 886.4,811.9" fill="rgb(106,106,106)" fill-opacity="0.75" stroke="rgb(164,164,164)" stroke-opacity="0.48" stroke-width="1.4" stroke-linejoin="round"/>
<polygon points="573.1,1055.2 566.9,1047.7 566.0,1041.1 569.1,1039.0 574.4,1035.7 582.0,1039.2 583.6,1045.6 581.8,1053.1 579.5,1054.0" fill="rgb(98,98,98)" fill-opacity="0.75" stroke="rgb(156,156,156)" stroke-opacity="0.45" stroke-width="1.4" stroke-linejoin="round"/>
<polygon points="686.0,1018.8 680.3,1021.1 672.3,1019.0 668.6,1012.5 669.0,1003.5 677.6,999.1 682.7,999.7 689.5,1003.4 690.4,1009.6" fill="rgb(135,135,135)" fill-opacity="0.75" stroke="rgb(197,197,197)" stroke-opacity="0.63" stroke-width="1.4" stroke-linejoin="round"/>
<polygon points="621.1,934.3 615.5,932.6 612.2,928.4 609.9,922.4 613.1,915.5 620.5,913.7 626.4,918.5 630.2,924.4 625.5,931.6" fill="rgb(145,145,145)" fill-opacity="0.75" stroke="rgb(213,213,213)" stroke-opacity="0.70" stroke-width="1.4" stroke-linejoin="round"/>
<polygon points="696.7,962.5 701.1,963.9 706.7,974.7 707.7,979.1 703.7,987.3 693.8,988.9 683.4,983.6 685.0,970.3 687.3,965.9" fill="rgb(126,126,126)" fill-opacity="0.75" stroke="rgb(196,196,196)" stroke-opacity="0.62" stroke-width="1.4" stroke-linejoin="round"/>
<polygon points="737.9,864.7 739.7,858.1 746.8,852.6 755.1,855.0 757.0,860.7 750.4,868.2 742.6,868.1" fill="rgb(117,117,117)" fill-opacity="0.75" stroke="rgb(189,189,189)" stroke-opacity="0.59" stroke-width="1.4" stroke-linejoin="round"/>
<polygon points="541.1,833.4 540.1,845.9 533.0,854.9 520.6,852.0 515.6,834.8 522.1,827.3 530.8,827.9" fill="rgb(98,98,98)" fill-opacity="0.75" stroke="rgb(164,164,164)" stroke-opacity="0.48" stroke-width="1.4" stroke-linejoin="round"/>
<polygon points="545.9,994.8 558.6,994.7 568.3,1003.6 566.5,1010.4 557.7,1018.4 546.9,1017.3 541.0,1004.0" fill="rgb(112,112,112)" fill-opacity="0.75" stroke="rgb(182,182,182)" stroke-opacity="0.56" stroke-width="1.4" stroke-linejoin="round"/>
<polygon points="575.6,881.2 586.0,877.3 593.4,880.9 593.3,893.9 583.4,900.8 576.7,899.0 570.0,886.4" fill="rgb(126,126,126)" fill-opacity="0.75" stroke="rgb(193,193,193)" stroke-opacity="0.61" stroke-width="1.4" stroke-linejoin="round"/>
<polygon points="478.8,961.0 472.4,957.2 473.0,948.6 476.3,943.4 482.6,940.4 488.4,945.6 490.0,954.2 487.1,958.4" fill="rgb(113,113,113)" fill-opacity="0.75" stroke="rgb(161,161,161)" stroke-opacity="0.47" stroke-width="1.4" stroke-linejoin="round"/>
<polygon points="574.1,958.4 564.4,962.8 553.2,958.2 550.5,945.6 561.8,934.1 574.9,939.0 577.4,946.7" fill="rgb(138,138,138)" fill-opacity="0.75" stroke="rgb(213,213,213)" stroke-opacity="0.70" stroke-width="1.4" stroke-linejoin="round"/>
<polygon points="761.9,869.0 760.4,875.4 746.7,879.6 743.4,874.0 740.9,861.2 747.1,857.4 755.7,858.2" fill="rgb(130,130,130)" fill-opacity="0.75" stroke="rgb(193,193,193)" stroke-opacity="0.61" stroke-width="1.4" stroke-linejoin="round"/>
<polygon points="529.1,835.4 530.8,828.9 536.7,825.4 540.7,827.8 546.2,833.6 545.5,838.9 543.2,842.6 538.2,844.2 530.8,840.8" fill="rgb(109,109,109)" fill-opacity="0.75" stroke="rgb(164,164,164)" stroke-opacity="0.48" stroke-width="1.4" stroke-linejoin="round"/>
<polygon points="777.1,1042.6 771.3,1045.0 761.4,1038.6 759.7,1023.6 769.6,1017.3 780.9,1022.4 784.8,1032.2" fill="rgb(99,99,99)" fill-opacity="0.75" stroke="rgb(154,154,154)" stroke-opacity="0.43" stroke-width="1.4" stroke-linejoin="round"/>
<polygon points="814.1,1093.2 822.8,1087.0 835.9,1092.9 838.7,1096.7 838.1,1108.8 831.0,1116.3 818.3,1115.4 814.9,1102.5" fill="rgb(119,119,119)" fill-opacity="0.75" stroke="rgb(175,175,175)" stroke-opacity="0.53" stroke-width="1.4" stroke-linejoin="round"/>
<polygon points="510.3,985.7 506.1,994.4 497.7,998.9 489.9,996.5 486.7,983.0 493.7,976.4 503.5,975.4" fill="rgb(107,107,107)" fill-opacity="0.75" stroke="rgb(151,151,151)" stroke-opacity="0.42" stroke-width="1.4" stroke-linejoin="round"/>
<polygon points="725.5,865.4 717.7,855.2 721.9,847.8 729.6,843.4 741.8,844.5 747.2,854.3 745.4,862.7 736.7,869.5 733.0,868.2" fill="rgb(104,104,104)" fill-opacity="0.75" stroke="rgb(169,169,169)" stroke-opacity="0.50" stroke-width="1.4" stroke-linejoin="round"/>
<polygon points="716.3,967.6 719.9,962.3 730.4,960.6 739.7,961.9 746.4,975.4 742.8,980.6 732.7,985.8 723.1,983.3 719.5,975.5" fill="rgb(119,119,119)" fill-opacity="0.75" stroke="rgb(198,198,198)" stroke-opacity="0.63" stroke-width="1.4" stroke-linejoin="round"/>
<polygon points="762.7,838.4 757.8,848.7 751.0,850.1 744.0,845.0 741.3,834.8 745.5,831.7 753.6,825.8 762.9,833.8" fill="rgb(127,127,127)" fill-opacity="0.75" stroke="rgb(197,197,197)" stroke-opacity="0.63" stroke-width="1.4" stroke-linejoin="round"/>
<polygon points="776.9,891.3 770.9,899.3 761.0,901.2 755.2,895.2 752.2,893.7 756.4,884.0 762.9,880.2 768.9,880.1 775.8,883.6" fill="rgb(129,129,129)" fill-opacity="0.75" stroke="rgb(199,199,199)" stroke-opacity="0.64" stroke-width="1.4" stroke-linejoin="round"/>
<polygon points="595.1,990.8 591.7,988.3 589.4,981.0 593.3,974.6 601.3,974.5 606.4,979.3 605.3,988.6" fill="rgb(131,131,131)" fill-opacity="0.75" stroke="rgb(213,213,213)" stroke-opacity="0.70" stroke-width="1.4" stroke-linejoin="round"/>
<polygon points="551.6,1027.1 542.2,1033.6 536.1,1029.2 529.6,1023.5 528.4,1015.6 533.7,1007.8 541.0,1007.1 551.4,1011.4 552.3,1019.2" fill="rgb(102,102,102)" fill-opacity="0.75" stroke="rgb(151,151,151)" stroke-opacity="0.42" stroke-width="1.4" stroke-linejoin="round"/>
<polygon points="598.0,823.7 592.7,817.8 595.2,810.1 605.6,805.1 610.1,812.2 609.9,820.8 604.5,825.5" fill="rgb(110,110,110)" fill-opacity="0.75" stroke="rgb(164,164,164)" stroke-opacity="0.48" stroke-width="1.4" stroke-linejoin="round"/>
<polygon points="609.6,899.5 611.4,910.8 607.9,914.9 598.7,916.4 592.8,909.5 594.3,901.5 599.8,897.8" fill="rgb(138,138,138)" fill-opacity="0.75" stroke="rgb(212,212,212)" stroke-opacity="0.70" stroke-width="1.4" stroke-linejoin="round"/>
<polygon points="494.9,839.2 487.7,839.2 480.9,835.2 480.1,827.0 485.2,822.7 493.0,819.5 497.7,825.7 500.3,830.9" fill="rgb(110,110,110)" fill-opacity="0.75" stroke="rgb(164,164,164)" stroke-opacity="0.48" stroke-width="1.4" stroke-linejoin="round"/>
<polygon points="789.4,845.2 794.2,851.1 793.9,856.0 793.2,860.7 786.0,862.5 782.7,860.8 776.6,854.6 780.5,847.1 781.2,844.9" fill="rgb(118,118,118)" fill-opacity="0.75" stroke="rgb(198,198,198)" stroke-opacity="0.63" stroke-width="1.4" stroke-linejoin="round"/>
<polygon points="515.0,877.3 511.6,868.8 519.1,855.4 535.5,857.3 540.2,863.6 534.9,879.7 524.5,885.2" fill="rgb(105,105,105)" fill-opacity="0.75" stroke="rgb(164,164,164)" stroke-opacity="0.48" stroke-width="1.4" stroke-linejoin="round"/>
<polygon points="644.2,919.3 643.5,912.5 648.4,908.1 655.4,907.5 661.1,915.1 658.5,920.5 654.6,925.9 647.7,922.7" fill="rgb(132,132,132)" fill-opacity="0.75" stroke="rgb(212,212,212)" stroke-opacity="0.69" stroke-width="1.4" stroke-linejoin="round"/>
<polygon points="666.0,1018.7 668.7,1012.9 671.1,1009.8 681.7,1011.5 684.5,1014.9 685.3,1024.4 681.8,1026.9 674.5,1031.2 669.0,1028.1" fill="rgb(126,126,126)" fill-opacity="0.75" stroke="rgb(196,196,196)" stroke-opacity="0.62" stroke-width="1.4" stroke-linejoin="round"/>
<polygon points="580.4,862.5 573.2,857.5 565.7,849.3 571.6,838.1 577.1,835.3 588.9,835.7 594.2,842.5 590.1,855.0" fill="rgb(111,111,111)" fill-opacity="0.75" stroke="rgb(164,164,164)" stroke-opacity="0.48" stroke-width="1.4" stroke-linejoin="round"/>
<polygon points="742.0,833.7 733.5,837.0 722.5,828.2 722.4,816.7 729.5,806.6 741.7,811.3 749.0,824.3" fill="rgb(96,96,96)" fill-opacity="0.75" stroke="rgb(155,155,155)" stroke-opacity="0.44" stroke-width="1.4" stroke-linejoin="round"/>
<polygon points="509.4,840.9 491.4,839.2 488.3,829.3 495.0,818.6 507.1,817.1 517.2,824.5 516.0,835.8" fill="rgb(104,104,104)" fill-opacity="0.75" stroke="rgb(164,164,164)" stroke-opacity="0.48" stroke-width="1.4" stroke-linejoin="round"/>
<polygon points="911.5,804.4 914.4,806.0 920.8,811.2 916.4,819.9 912.9,822.9 904.8,821.6 900.2,820.7 898.1,812.6 902.7,806.3" fill="rgb(99,99,99)" fill-opacity="0.75" stroke="rgb(164,164,164)" stroke-opacity="0.48" stroke-width="1.4" stroke-linejoin="round"/>
<polygon points="886.2,894.2 883.1,890.2 882.5,882.6 890.1,878.5 895.4,879.3 899.8,884.7 898.2,889.5 894.6,895.4" fill="rgb(114,114,114)" fill-opacity="0.75" stroke="rgb(164,164,164)" stroke-opacity="0.48" stroke-width="1.4" stroke-linejoin="round"/>
<polygon points="609.8,865.4 606.7,859.7 609.5,851.2 622.2,847.7 628.5,854.1 629.6,863.5 621.3,871.1" fill="rgb(113,113,113)" fill-opacity="0.75" stroke="rgb(164,164,164)" stroke-opacity="0.48" stroke-width="1.4" stroke-linejoin="round"/>
<polygon points="816.6,833.8 814.1,818.2 820.8,809.3 830.1,809.3 840.2,821.3 839.5,828.7 829.9,838.1" fill="rgb(103,103,103)" fill-opacity="0.75" stroke="rgb(164,164,164)" stroke-opacity="0.48" stroke-width="1.4" stroke-linejoin="round"/>
<polygon points="562.6,810.5 557.3,814.4 547.2,812.5 543.3,805.4 545.3,797.8 551.9,794.9 558.4,793.8 564.9,797.7 564.9,802.0" fill="rgb(103,103,103)" fill-opacity="0.75" stroke="rgb(164,164,164)" stroke-opacity="0.48" stroke-width="1.4" stroke-linejoin="round"/>
<polygon points="588.4,1008.5 579.0,999.8 582.5,991.7 592.5,988.1 603.9,992.3 602.5,1001.9 596.1,1010.5" fill="rgb(134,134,134)" fill-opacity="0.75" stroke="rgb(213,213,213)" stroke-opacity="0.70" stroke-width="1.4" stroke-linejoin="round"/>
<polygon points="846.5,911.1 852.0,910.6 858.9,913.4 859.4,916.5 857.9,923.1 849.6,926.5 846.4,926.8 842.7,920.2 840.1,916.3" fill="rgb(116,116,116)" fill-opacity="0.75" stroke="rgb(169,169,169)" stroke-opacity="0.50" stroke-width="1.4" stroke-linejoin="round"/>
<polygon points="469.0,814.0 478.3,808.2 484.8,810.3 491.3,817.4 489.4,828.1 479.5,836.0 474.6,834.6 466.8,826.1" fill="rgb(97,97,97)" fill-opacity="0.75" stroke="rgb(164,164,164)" stroke-opacity="0.48" stroke-width="1.4" stroke-linejoin="round"/>
<polygon points="837.5,1078.2 838.5,1071.8 844.0,1066.6 854.9,1068.7 858.3,1072.4 860.3,1078.8 854.8,1085.8 848.6,1086.1 841.1,1084.1" fill="rgb(118,118,118)" fill-opacity="0.75" stroke="rgb(183,183,183)" stroke-opacity="0.57" stroke-width="1.4" stroke-linejoin="round"/>
<polygon points="785.0,879.9 778.0,888.7 768.9,886.3 764.0,879.4 763.3,872.3 775.1,867.2 781.8,870.7" fill="rgb(121,121,121)" fill-opacity="0.75" stroke="rgb(197,197,197)" stroke-opacity="0.63" stroke-width="1.4" stroke-linejoin="round"/>
<polygon points="850.4,1007.2 852.8,1011.8 851.7,1022.3 851.6,1030.0 834.5,1033.4 832.0,1029.4 826.3,1021.0 829.4,1010.7 837.1,1007.9" fill="rgb(86,86,86)" fill-opacity="0.75" stroke="rgb(135,135,135)" stroke-opacity="0.35" stroke-width="1.4" stroke-linejoin="round"/>
<polygon points="504.5,793.4 513.3,784.8 519.9,783.8 527.7,788.3 530.1,795.6 528.6,802.2 518.7,806.0 510.8,806.3 505.6,799.2" fill="rgb(114,114,114)" fill-opacity="0.75" stroke="rgb(164,164,164)" stroke-opacity="0.48" stroke-width="1.4" stroke-linejoin="round"/>
<polygon points="574.9,860.3 582.2,859.9 587.1,863.4 588.2,872.7 583.0,876.7 575.8,879.6 570.4,872.7 570.0,863.6" fill="rgb(100,100,100)" fill-opacity="0.75" stroke="rgb(166,166,166)" stroke-opacity="0.49" stroke-width="1.4" stroke-linejoin="round"/>
<polygon points="685.6,1036.0 680.4,1026.6 682.5,1016.9 688.6,1013.6 692.6,1011.3 700.2,1017.3 700.7,1028.2 701.2,1031.7 691.9,1035.3" fill="rgb(106,106,106)" fill-opacity="0.75" stroke="rgb(176,176,176)" stroke-opacity="0.54" stroke-width="1.4" stroke-linejoin="round"/>
<polygon points="542.0,995.1 549.1,995.4 555.2,1009.1 550.3,1018.7 537.5,1019.0 528.3,1013.1 530.8,1002.6" fill="rgb(112,112,112)" fill-opacity="0.75" stroke="rgb(162,162,162)" stroke-opacity="0.47" stroke-width="1.4" stroke-linejoin="round"/>
<polygon points="913.7,1001.2 918.7,1008.5 919.5,1012.4 913.5,1018.5 904.4,1020.3 900.6,1013.1 899.2,1006.3 903.9,1001.1" fill="rgb(101,101,101)" fill-opacity="0.75" stroke="rgb(150,150,150)" stroke-opacity="0.42" stroke-width="1.4" stroke-linejoin="round"/>
<polygon points="800.2,1089.4 807.9,1086.9 815.5,1088.3 817.7,1095.5 812.6,1105.4 805.8,1105.4 797.7,1098.3" fill="rgb(119,119,119)" fill-opacity="0.75" stroke="rgb(177,177,177)" stroke-opacity="0.54" stroke-width="1.4" stroke-linejoin="round"/>
<polygon points="862.8,895.9 860.3,887.7 865.8,882.1 874.3,883.8 881.2,888.7 876.2,900.3 867.8,900.6" fill="rgb(101,101,101)" fill-opacity="0.75" stroke="rgb(164,164,164)" stroke-opacity="0.48" stroke-width="1.4" stroke-linejoin="round"/>
<polygon points="872.9,874.0 859.8,885.2 847.3,877.8 846.5,871.4 851.5,857.8 865.2,858.4 873.3,867.4" fill="rgb(96,96,96)" fill-opacity="0.75" stroke="rgb(164,164,164)" stroke-opacity="0.48" stroke-width="1.4" stroke-linejoin="round"/>
<polygon points="797.8,797.9 795.1,804.1 788.1,806.8 781.4,802.1 781.3,796.6 783.1,788.8 787.4,785.6 793.1,786.3 797.6,794.5" fill="rgb(117,117,117)" fill-opacity="0.75" stroke="rgb(168,168,168)" stroke-opacity="0.50" stroke-width="1.4" stroke-linejoin="round"/>
<polygon points="907.2,870.5 906.3,867.8 909.9,858.2 917.8,856.4 921.9,861.2 924.6,865.6 924.2,876.2 917.8,878.8 911.6,876.5" fill="rgb(105,105,105)" fill-opacity="0.75" stroke="rgb(164,164,164)" stroke-opacity="0.48" stroke-width="1.4" stroke-linejoin="round"/>
<polygon points="716.8,1002.2 723.2,1012.0 720.0,1017.3 711.0,1019.0 706.8,1016.4 704.4,1009.0 709.5,1001.3" fill="rgb(126,126,126)" fill-opacity="0.75" stroke="rgb(190,190,190)" stroke-opacity="0.60" stroke-width="1.4" stroke-linejoin="round"/>
<polygon points="799.3,779.9 809.3,782.1 815.6,788.8 818.5,803.0 805.7,806.7 795.4,806.6 789.0,796.3 788.9,789.4" fill="rgb(106,106,106)" fill-opacity="0.75" stroke="rgb(164,164,164)" stroke-opacity="0.48" stroke-width="1.4" stroke-linejoin="round"/>
<polygon points="854.1,801.7 848.1,807.6 839.5,811.4 829.6,802.7 830.4,795.1 841.2,788.7 846.8,791.9" fill="rgb(99,99,99)" fill-opacity="0.75" stroke="rgb(164,164,164)" stroke-opacity="0.48" stroke-width="1.4" stroke-linejoin="round"/>
<polygon points="770.8,923.5 764.9,924.8 758.4,918.6 756.5,909.2 763.5,899.5 771.2,899.8 776.6,903.9 779.8,914.4" fill="rgb(135,135,135)" fill-opacity="0.75" stroke="rgb(207,207,207)" stroke-opacity="0.67" stroke-width="1.4" stroke-linejoin="round"/>
<polygon points="928.6,786.1 929.9,789.8 931.0,798.5 927.3,799.9 922.1,802.9 914.1,797.5 915.1,794.4 914.9,788.4 923.3,783.5" fill="rgb(104,104,104)" fill-opacity="0.75" stroke="rgb(164,164,164)" stroke-opacity="0.48" stroke-width="1.4" stroke-linejoin="round"/>
<polygon points="801.6,1098.2 805.0,1102.6 805.6,1113.9 802.5,1117.9 792.1,1117.9 783.9,1111.7 785.0,1105.7 790.3,1099.0" fill="rgb(106,106,106)" fill-opacity="0.75" stroke="rgb(175,175,175)" stroke-opacity="0.53" stroke-width="1.4" stroke-linejoin="round"/>
<polygon points="719.5,871.5 729.5,864.2 738.2,869.0 740.7,874.3 737.2,881.6 728.6,885.2 721.1,880.5" fill="rgb(111,111,111)" fill-opacity="0.75" stroke="rgb(170,170,170)" stroke-opacity="0.51" stroke-width="1.4" stroke-linejoin="round"/>
<polygon points="890.2,871.6 887.0,876.3 877.2,876.9 872.6,874.5 870.1,864.3 873.0,859.3 880.2,857.9 889.2,859.5 891.3,865.1" fill="rgb(103,103,103)" fill-opacity="0.75" stroke="rgb(164,164,164)" stroke-opacity="0.48" stroke-width="1.4" stroke-linejoin="round"/>
<polygon points="709.6,1095.8 699.2,1090.5 692.2,1084.4 693.3,1076.8 704.8,1069.5 709.5,1066.8 717.6,1076.6 718.8,1087.5 717.8,1092.1" fill="rgb(116,116,116)" fill-opacity="0.75" stroke="rgb(177,177,177)" stroke-opacity="0.54" stroke-width="1.4" stroke-linejoin="round"/>
<polygon points="537.6,974.2 547.0,974.3 558.3,977.5 559.2,987.6 548.9,998.8 543.2,997.2 535.7,989.4" fill="rgb(114,114,114)" fill-opacity="0.75" stroke="rgb(180,180,180)" stroke-opacity="0.55" stroke-width="1.4" stroke-linejoin="round"/>
<polygon points="617.2,952.5 622.9,951.9 633.6,950.9 641.1,962.9 634.3,971.0 626.0,976.6 614.6,972.1 611.2,959.7" fill="rgb(132,132,132)" fill-opacity="0.75" stroke="rgb(213,213,213)" stroke-opacity="0.70" stroke-width="1.4" stroke-linejoin="round"/>
<polygon points="871.0,824.7 885.1,821.4 892.8,827.0 894.4,838.0 885.2,844.7 872.9,842.6 867.9,836.4" fill="rgb(97,97,97)" fill-opacity="0.75" stroke="rgb(164,164,164)" stroke-opacity="0.48" stroke-width="1.4" stroke-linejoin="round"/>
<polygon points="565.3,1015.9 564.0,1024.2 556.9,1028.4 550.4,1026.3 546.8,1020.1 547.9,1013.7 554.8,1008.9 560.2,1008.9" fill="rgb(104,104,104)" fill-opacity="0.75" stroke="rgb(166,166,166)" stroke-opacity="0.49" stroke-width="1.4" stroke-linejoin="round"/>
<polygon points="826.3,1043.8 834.1,1047.1 839.7,1057.2 836.5,1063.1 826.8,1067.5 819.8,1061.3 817.8,1052.2" fill="rgb(132,132,132)" fill-opacity="0.75" stroke="rgb(191,191,191)" stroke-opacity="0.60" stroke-width="1.4" stroke-linejoin="round"/>
<polygon points="783.0,829.8 784.2,824.9 789.7,818.6 794.6,820.0 802.1,827.3 800.1,832.1 794.1,838.2 788.6,838.0" fill="rgb(119,119,119)" fill-opacity="0.75" stroke="rgb(190,190,190)" stroke-opacity="0.60" stroke-width="1.4" stroke-linejoin="round"/>
<polygon points="708.5,945.1 711.3,936.6 717.8,933.2 723.3,932.7 729.9,941.2 727.4,947.7 723.3,954.5 715.3,953.5" fill="rgb(141,141,141)" fill-opacity="0.75" stroke="rgb(205,205,205)" stroke-opacity="0.67" stroke-width="1.4" stroke-linejoin="round"/>
<polygon points="682.1,1046.4 680.3,1040.2 683.2,1034.9 686.4,1032.3 694.4,1032.0 697.4,1038.7 695.7,1044.1 689.9,1049.5" fill="rgb(88,88,88)" fill-opacity="0.75" stroke="rgb(146,146,146)" stroke-opacity="0.40" stroke-width="1.4" stroke-linejoin="round"/>
<polygon points="766.4,1063.9 772.4,1054.6 783.0,1056.9 786.5,1061.9 787.3,1069.0 782.0,1077.9 774.3,1077.9 764.8,1071.0" fill="rgb(120,120,120)" fill-opacity="0.75" stroke="rgb(187,187,187)" stroke-opacity="0.58" stroke-width="1.4" stroke-linejoin="round"/>
<polygon points="782.1,1066.8 787.7,1078.9 785.5,1093.6 771.5,1093.7 763.6,1092.0 761.4,1078.5 771.6,1069.2" fill="rgb(118,118,118)" fill-opacity="0.75" stroke="rgb(178,178,178)" stroke-opacity="0.54" stroke-width="1.4" stroke-linejoin="round"/>
<polygon points="608.0,867.5 615.6,862.5 621.2,865.6 623.9,874.7 620.1,880.0 610.3,880.0 605.8,876.7" fill="rgb(100,100,100)" fill-opacity="0.75" stroke="rgb(167,167,167)" stroke-opacity="0.49" stroke-width="1.4" stroke-linejoin="round"/>
<polygon points="744.8,990.3 755.8,985.4 762.8,991.4 767.7,999.6 765.0,1006.8 754.1,1014.2 747.1,1009.0 742.0,1009.5 741.6,998.4" fill="rgb(101,101,101)" fill-opacity="0.75" stroke="rgb(156,156,156)" stroke-opacity="0.45" stroke-width="1.4" stroke-linejoin="round"/>
<polygon points="512.6,975.1 503.2,974.4 499.7,970.0 501.9,956.8 509.3,955.8 518.3,957.3 519.7,966.0" fill="rgb(113,113,113)" fill-opacity="0.75" stroke="rgb(174,174,174)" stroke-opacity="0.52" stroke-width="1.4" stroke-linejoin="round"/>
<polygon points="746.1,882.8 750.2,881.7 759.2,890.2 759.3,895.3 751.3,901.6 743.0,898.4 738.7,892.0" fill="rgb(135,135,135)" fill-opacity="0.75" stroke="rgb(199,199,199)" stroke-opacity="0.64" stroke-width="1.4" stroke-linejoin="round"/>
<polygon points="868.0,1052.0 858.8,1051.5 854.1,1049.8 853.7,1042.9 856.3,1033.1 863.9,1034.0 867.9,1034.4 873.1,1043.2 871.9,1050.1" fill="rgb(107,107,107)" fill-opacity="0.75" stroke="rgb(163,163,163)" stroke-opacity="0.48" stroke-width="1.4" stroke-linejoin="round"/>
<polygon points="571.7,907.6 577.1,913.1 578.3,917.2 574.8,925.3 569.7,928.8 563.4,925.7 558.5,916.3 558.8,913.8 564.0,909.6" fill="rgb(136,136,136)" fill-opacity="0.75" stroke="rgb(213,213,213)" stroke-opacity="0.70" stroke-width="1.4" stroke-linejoin="round"/>
<polygon points="730.7,884.8 738.6,887.7 742.2,888.7 744.5,897.5 744.1,904.2 734.5,907.5 728.3,903.3 724.2,900.5 725.7,888.4" fill="rgb(137,137,137)" fill-opacity="0.75" stroke="rgb(201,201,201)" stroke-opacity="0.65" stroke-width="1.4" stroke-linejoin="round"/>
<polygon points="666.0,962.3 667.4,971.0 660.8,979.2 653.2,976.7 647.7,968.7 650.2,962.4 657.8,959.1" fill="rgb(134,134,134)" fill-opacity="0.75" stroke="rgb(209,209,209)" stroke-opacity="0.68" stroke-width="1.4" stroke-linejoin="round"/>
<polygon points="695.0,1065.6 703.1,1073.7 704.5,1080.7 698.0,1090.5 683.7,1091.2 679.8,1079.5 680.3,1072.1" fill="rgb(112,112,112)" fill-opacity="0.75" stroke="rgb(185,185,185)" stroke-opacity="0.57" stroke-width="1.4" stroke-linejoin="round"/>
<polygon points="547.5,865.1 547.3,876.9 542.9,881.5 528.8,878.9 528.6,868.0 532.9,859.1 541.7,859.3" fill="rgb(104,104,104)" fill-opacity="0.75" stroke="rgb(164,164,164)" stroke-opacity="0.48" stroke-width="1.4" stroke-linejoin="round"/>
<polygon points="854.0,854.9 853.9,845.1 857.5,839.9 869.7,836.8 877.0,837.9 882.0,849.8 883.0,856.2 873.7,861.5 859.7,861.6" fill="rgb(105,105,105)" fill-opacity="0.75" stroke="rgb(164,164,164)" stroke-opacity="0.48" stroke-width="1.4" stroke-linejoin="round"/>
<polygon points="630.5,1041.1 628.5,1050.5 621.7,1056.5 610.6,1053.8 601.4,1049.6 598.5,1042.7 605.3,1029.9 616.3,1030.4 621.0,1029.6" fill="rgb(123,123,123)" fill-opacity="0.75" stroke="rgb(195,195,195)" stroke-opacity="0.62" stroke-width="1.4" stroke-linejoin="round"/>
<polygon points="546.5,960.2 535.9,958.9 531.1,953.2 530.4,945.1 541.0,935.8 553.5,942.7 555.0,949.9" fill="rgb(138,138,138)" fill-opacity="0.75" stroke="rgb(212,212,212)" stroke-opacity="0.69" stroke-width="1.4" stroke-linejoin="round"/>
<polygon points="898.3,1092.0 898.1,1085.4 902.4,1079.9 912.3,1078.7 915.0,1085.9 915.1,1092.2 911.1,1095.8 904.6,1098.4" fill="rgb(115,115,115)" fill-opacity="0.75" stroke="rgb(172,172,172)" stroke-opacity="0.52" stroke-width="1.4" stroke-linejoin="round"/>
<polygon points="633.7,1043.2 635.8,1036.2 639.4,1034.7 650.5,1036.9 652.2,1042.9 653.5,1051.2 649.3,1055.0 642.3,1056.1 633.3,1052.9" fill="rgb(132,132,132)" fill-opacity="0.75" stroke="rgb(196,196,196)" stroke-opacity="0.62" stroke-width="1.4" stroke-linejoin="round"/>
<polygon points="901.8,1053.1 910.5,1050.3 918.8,1054.9 918.8,1060.0 915.5,1067.2 907.8,1069.9 901.4,1064.1 899.8,1057.1" fill="rgb(118,118,118)" fill-opacity="0.75" stroke="rgb(177,177,177)" stroke-opacity="0.54" stroke-width="1.4" stroke-linejoin="round"/>
<polygon points="529.8,884.1 532.1,890.7 527.1,901.7 512.5,902.5 507.5,895.7 507.3,886.5 509.4,880.2 521.1,878.0" fill="rgb(117,117,117)" fill-opacity="0.75" stroke="rgb(173,173,173)" stroke-opacity="0.52" stroke-width="1.4" stroke-linejoin="round"/>
<polygon points="602.2,1097.8 608.8,1094.4 615.0,1094.7 618.8,1097.0 621.9,1100.8 618.3,1111.2 612.1,1113.3 604.7,1111.1 604.0,1107.3" fill="rgb(108,108,108)" fill-opacity="0.75" stroke="rgb(166,166,166)" stroke-opacity="0.49" stroke-width="1.4" stroke-linejoin="round"/>
<polygon points="624.0,889.4 632.8,893.5 633.8,902.5 630.8,907.2 618.0,907.3 614.5,898.7 613.8,892.8" fill="rgb(128,128,128)" fill-opacity="0.75" stroke="rgb(205,205,205)" stroke-opacity="0.66" stroke-width="1.4" stroke-linejoin="round"/>
<polygon points="641.9,947.6 646.0,938.5 656.6,934.5 662.0,938.9 667.0,949.0 660.1,957.5 651.8,959.2 644.4,958.8" fill="rgb(129,129,129)" fill-opacity="0.75" stroke="rgb(213,213,213)" stroke-opacity="0.70" stroke-width="1.4" stroke-linejoin="round"/>
<polygon points="930.4,1071.5 922.3,1074.3 912.4,1070.0 908.9,1062.4 917.5,1051.4 929.1,1051.0 935.6,1059.8" fill="rgb(112,112,112)" fill-opacity="0.75" stroke="rgb(175,175,175)" stroke-opacity="0.53" stroke-width="1.4" stroke-linejoin="round"/>
<polygon points="560.9,980.0 566.3,977.3 573.8,979.9 576.2,986.7 572.6,992.8 560.9,994.5 558.7,989.8" fill="rgb(144,144,144)" fill-opacity="0.75" stroke="rgb(210,210,210)" stroke-opacity="0.69" stroke-width="1.4" stroke-linejoin="round"/>
<polygon points="753.9,914.4 750.1,911.2 747.8,903.5 755.2,898.6 760.5,899.3 767.2,903.1 767.2,911.1 762.5,913.6" fill="rgb(140,140,140)" fill-opacity="0.75" stroke="rgb(207,207,207)" stroke-opacity="0.67" stroke-width="1.4" stroke-linejoin="round"/>
<polygon points="637.5,807.8 625.9,815.2 618.6,812.5 613.1,806.9 614.4,796.4 620.5,789.8 630.4,788.6 635.8,799.4" fill="rgb(113,113,113)" fill-opacity="0.75" stroke="rgb(164,164,164)" stroke-opacity="0.48" stroke-width="1.4" stroke-linejoin="round"/>
<polygon points="836.8,968.8 844.1,978.3 839.8,988.9 831.7,995.5 824.8,992.3 816.9,984.5 814.3,979.6 822.4,969.7 830.2,968.4" fill="rgb(82,82,82)" fill-opacity="0.75" stroke="rgb(130,130,130)" stroke-opacity="0.33" stroke-width="1.4" stroke-linejoin="round"/>
<polygon points="516.8,1004.3 521.7,997.2 527.8,994.8 531.6,995.1 536.7,1000.0 536.9,1008.2 532.5,1012.1 524.2,1016.2 518.7,1013.6" fill="rgb(89,89,89)" fill-opacity="0.75" stroke="rgb(153,153,153)" stroke-opacity="0.43" stroke-width="1.4" stroke-linejoin="round"/>
<polygon points="581.6,828.8 574.1,823.1 574.2,814.7 577.0,808.0 588.1,809.0 594.3,816.3 591.6,826.5" fill="rgb(113,113,113)" fill-opacity="0.75" stroke="rgb(164,164,164)" stroke-opacity="0.48" stroke-width="1.4" stroke-linejoin="round"/>
<polygon points="742.8,929.5 740.6,936.6 731.7,942.5 725.7,940.6 717.5,933.8 719.6,925.3 727.6,919.7 738.5,921.5" fill="rgb(130,130,130)" fill-opacity="0.75" stroke="rgb(208,208,208)" stroke-opacity="0.68" stroke-width="1.4" stroke-linejoin="round"/>
<polygon points="747.9,1109.1 743.8,1114.3 735.4,1120.1 720.7,1117.1 717.8,1105.9 720.7,1094.3 735.3,1089.5 742.4,1093.4" fill="rgb(111,111,111)" fill-opacity="0.75" stroke="rgb(164,164,164)" stroke-opacity="0.48" stroke-width="1.4" stroke-linejoin="round"/>
<polygon points="513.1,821.3 513.4,814.8 521.5,812.3 528.3,813.7 532.8,821.9 530.4,827.7 526.2,831.3 520.2,831.3 512.9,829.1" fill="rgb(109,109,109)" fill-opacity="0.75" stroke="rgb(164,164,164)" stroke-opacity="0.48" stroke-width="1.4" stroke-linejoin="round"/>
<polygon points="666.5,928.0 665.5,940.5 661.4,943.3 651.0,944.0 646.2,933.9 650.0,923.1 662.0,923.1" fill="rgb(143,143,143)" fill-opacity="0.75" stroke="rgb(213,213,213)" stroke-opacity="0.70" stroke-width="1.4" stroke-linejoin="round"/>
<polygon points="820.1,903.1 826.3,899.1 830.7,897.9 836.3,903.2 838.3,908.3 836.4,916.1 828.3,917.5 820.2,916.0 818.3,908.2" fill="rgb(121,121,121)" fill-opacity="0.75" stroke="rgb(193,193,193)" stroke-opacity="0.61" stroke-width="1.4" stroke-linejoin="round"/>
<polygon points="791.4,1099.9 779.5,1109.5 769.0,1107.8 763.8,1096.8 768.8,1088.3 775.4,1081.5 787.3,1086.9" fill="rgb(103,103,103)" fill-opacity="0.75" stroke="rgb(169,169,169)" stroke-opacity="0.50" stroke-width="1.4" stroke-linejoin="round"/>
<polygon points="549.8,894.4 541.7,896.2 537.5,893.9 534.0,886.2 539.4,876.7 545.7,875.4 555.8,877.3 557.3,881.9 556.0,889.5" fill="rgb(115,115,115)" fill-opacity="0.75" stroke="rgb(180,180,180)" stroke-opacity="0.55" stroke-width="1.4" stroke-linejoin="round"/>
<polygon points="917.7,794.0 916.5,800.8 913.5,802.7 908.1,807.2 900.5,804.3 898.6,796.4 899.5,793.1 906.1,789.3 912.2,788.8" fill="rgb(106,106,106)" fill-opacity="0.75" stroke="rgb(164,164,164)" stroke-opacity="0.48" stroke-width="1.4" stroke-linejoin="round"/>
<polygon points="833.3,1052.9 824.5,1054.1 820.5,1048.0 819.5,1037.8 824.8,1031.8 839.6,1034.5 838.8,1043.4" fill="rgb(119,119,119)" fill-opacity="0.75" stroke="rgb(179,179,179)" stroke-opacity="0.55" stroke-width="1.4" stroke-linejoin="round"/>
<polygon points="654.6,977.4 645.0,984.1 632.7,980.1 628.6,971.1 633.4,961.2 649.9,957.3 657.7,968.4" fill="rgb(133,133,133)" fill-opacity="0.75" stroke="rgb(213,213,213)" stroke-opacity="0.70" stroke-width="1.4" stroke-linejoin="round"/>
<polygon points="506.5,828.5 500.0,831.8 488.2,824.8 485.7,819.0 494.7,810.0 502.9,810.0 509.3,821.5" fill="rgb(101,101,101)" fill-opacity="0.75" stroke="rgb(164,164,164)" stroke-opacity="0.48" stroke-width="1.4" stroke-linejoin="round"/>
<polygon points="473.3,965.3 484.5,956.6 491.3,956.3 500.6,966.2 498.7,977.4 488.3,980.2 481.5,979.0 473.3,970.7" fill="rgb(108,108,108)" fill-opacity="0.75" stroke="rgb(162,162,162)" stroke-opacity="0.47" stroke-width="1.4" stroke-linejoin="round"/>
<polygon points="639.7,841.2 643.9,832.0 650.6,825.5 663.6,832.0 669.1,838.9 668.8,846.4 662.2,852.8 652.6,855.8 643.5,847.9" fill="rgb(103,103,103)" fill-opacity="0.75" stroke="rgb(164,164,164)" stroke-opacity="0.48" stroke-width="1.4" stroke-linejoin="round"/>
<polygon points="570.1,1062.8 560.8,1069.0 547.3,1068.1 541.9,1060.3 546.8,1045.3 559.1,1043.9 567.1,1047.4" fill="rgb(97,97,97)" fill-opacity="0.75" stroke="rgb(136,136,136)" stroke-opacity="0.36" stroke-width="1.4" stroke-linejoin="round"/>
<polygon points="798.6,900.1 809.6,901.2 818.2,910.4 815.6,918.4 808.4,925.2 794.6,918.9 794.8,909.2" fill="rgb(116,116,116)" fill-opacity="0.75" stroke="rgb(190,190,190)" stroke-opacity="0.60" stroke-width="1.4" stroke-linejoin="round"/>
<polygon points="680.7,1057.9 682.8,1063.4 685.6,1071.8 678.4,1079.2 672.9,1082.6 662.1,1075.7 660.2,1070.8 658.2,1062.5 666.9,1057.0" fill="rgb(129,129,129)" fill-opacity="0.75" stroke="rgb(191,191,191)" stroke-opacity="0.60" stroke-width="1.4" stroke-linejoin="round"/>
<polygon points="707.4,981.1 703.6,993.5 695.3,998.5 688.1,990.4 684.8,985.5 694.5,974.5 700.8,975.2" fill="rgb(122,122,122)" fill-opacity="0.75" stroke="rgb(196,196,196)" stroke-opacity="0.62" stroke-width="1.4" stroke-linejoin="round"/>
<polygon points="654.5,780.7 664.0,780.9 671.6,786.4 669.3,798.5 660.2,801.8 653.1,800.6 647.2,789.7" fill="rgb(106,106,106)" fill-opacity="0.75" stroke="rgb(164,164,164)" stroke-opacity="0.48" stroke-width="1.4" stroke-linejoin="round"/>
<polygon points="669.6,1076.3 676.5,1085.1 672.2,1093.7 657.2,1099.2 650.6,1092.3 651.6,1077.5 663.2,1071.4" fill="rgb(112,112,112)" fill-opacity="0.75" stroke="rgb(185,185,185)" stroke-opacity="0.57" stroke-width="1.4" stroke-linejoin="round"/>
<polygon points="906.1,1026.3 913.6,1018.2 925.7,1017.2 932.1,1020.4 934.3,1028.1 932.4,1036.7 922.8,1042.6 911.3,1040.6 907.0,1035.7" fill="rgb(100,100,100)" fill-opacity="0.75" stroke="rgb(163,163,163)" stroke-opacity="0.47" stroke-width="1.4" stroke-linejoin="round"/>
<polygon points="749.2,936.2 739.2,933.6 737.0,930.9 738.5,921.8 741.0,919.7 750.2,918.4 754.6,922.2 753.6,931.1" fill="rgb(139,139,139)" fill-opacity="0.75" stroke="rgb(208,208,208)" stroke-opacity="0.68" stroke-width="1.4" stroke-linejoin="round"/>
<polygon points="520.3,848.8 524.5,851.6 531.2,860.8 528.3,867.0 521.9,870.5 514.5,869.6 508.4,861.7 512.9,852.3" fill="rgb(102,102,102)" fill-opacity="0.75" stroke="rgb(164,164,164)" stroke-opacity="0.48" stroke-width="1.4" stroke-linejoin="round"/>
<polygon points="696.8,1039.6 696.4,1044.0 688.5,1053.0 677.6,1053.1 673.2,1052.6 668.7,1042.7 673.1,1034.7 678.4,1029.2 689.2,1031.9" fill="rgb(110,110,110)" fill-opacity="0.75" stroke="rgb(155,155,155)" stroke-opacity="0.44" stroke-width="1.4" stroke-linejoin="round"/>
<polygon points="740.7,941.8 744.3,935.8 753.1,935.1 757.6,938.0 760.1,947.2 756.4,952.6 749.9,956.7 741.4,950.3" fill="rgb(136,136,136)" fill-opacity="0.75" stroke="rgb(208,208,208)" stroke-opacity="0.68" stroke-width="1.4" stroke-linejoin="round"/>
<polygon points="650.1,1102.1 653.0,1098.9 660.2,1095.0 666.5,1095.7 669.7,1104.6 667.8,1109.1 666.8,1114.3 657.5,1115.9 653.3,1112.6" fill="rgb(115,115,115)" fill-opacity="0.75" stroke="rgb(173,173,173)" stroke-opacity="0.52" stroke-width="1.4" stroke-linejoin="round"/>
<polygon points="920.6,1011.0 912.7,1010.7 909.2,1005.7 907.3,1001.2 911.2,994.1 920.0,994.3 924.0,996.1 925.0,1000.3 923.6,1007.9" fill="rgb(107,107,107)" fill-opacity="0.75" stroke="rgb(152,152,152)" stroke-opacity="0.43" stroke-width="1.4" stroke-linejoin="round"/>
<polygon points="547.9,817.3 550.7,822.7 547.9,826.1 542.5,830.3 539.2,831.2 533.6,824.7 530.8,820.2 533.5,815.1 542.3,812.7" fill="rgb(113,113,113)" fill-opacity="0.75" stroke="rgb(164,164,164)" stroke-opacity="0.48" stroke-width="1.4" stroke-linejoin="round"/>
<polygon points="657.9,988.3 667.0,979.5 677.4,978.7 681.8,984.9 686.8,991.2 679.6,1000.0 666.8,1001.5 658.5,993.8" fill="rgb(135,135,135)" fill-opacity="0.75" stroke="rgb(199,199,199)" stroke-opacity="0.63" stroke-width="1.4" stroke-linejoin="round"/>
<polygon points="566.3,998.7 576.3,990.6 584.3,991.0 593.1,996.3 592.4,1006.7 588.5,1018.8 577.0,1019.6 567.8,1014.4 566.5,1009.0" fill="rgb(139,139,139)" fill-opacity="0.75" stroke="rgb(208,208,208)" stroke-opacity="0.68" stroke-width="1.4" stroke-linejoin="round"/>
<polygon points="649.8,1037.5 661.7,1036.5 665.5,1040.8 666.1,1053.6 656.4,1058.5 651.9,1055.9 646.0,1044.6" fill="rgb(116,116,116)" fill-opacity="0.75" stroke="rgb(194,194,194)" stroke-opacity="0.61" stroke-width="1.4" stroke-linejoin="round"/>
<polygon points="905.1,954.7 907.1,943.3 919.8,940.9 927.8,946.7 930.7,960.6 919.7,968.2 909.5,966.5" fill="rgb(101,101,101)" fill-opacity="0.75" stroke="rgb(158,158,158)" stroke-opacity="0.45" stroke-width="1.4" stroke-linejoin="round"/>
<polygon points="756.8,1106.3 750.0,1106.1 742.2,1102.8 737.7,1094.2 748.8,1086.2 755.7,1085.7 761.3,1092.1" fill="rgb(115,115,115)" fill-opacity="0.75" stroke="rgb(164,164,164)" stroke-opacity="0.48" stroke-width="1.4" stroke-linejoin="round"/>
<polygon points="654.4,995.0 649.1,990.0 651.6,983.4 658.8,979.1 667.5,983.3 668.1,990.4 663.5,996.1" fill="rgb(132,132,132)" fill-opacity="0.75" stroke="rgb(206,206,206)" stroke-opacity="0.67" stroke-width="1.4" stroke-linejoin="round"/>
<polygon points="728.6,790.0 740.2,796.4 741.5,801.4 741.1,811.5 730.9,817.4 718.0,808.1 716.6,800.1 717.8,793.3" fill="rgb(91,91,91)" fill-opacity="0.75" stroke="rgb(149,149,149)" stroke-opacity="0.41" stroke-width="1.4" stroke-linejoin="round"/>
<polygon points="480.9,914.7 490.2,913.9 494.1,919.6 495.6,928.6 492.0,932.7 485.3,934.5 477.0,928.6 475.9,923.8" fill="rgb(84,84,84)" fill-opacity="0.75" stroke="rgb(144,144,144)" stroke-opacity="0.39" stroke-width="1.4" stroke-linejoin="round"/>
<polygon points="750.2,807.7 760.5,807.7 769.0,809.9 773.0,817.0 765.2,828.7 754.5,831.5 750.3,830.6 744.4,819.3" fill="rgb(127,127,127)" fill-opacity="0.75" stroke="rgb(195,195,195)" stroke-opacity="0.62" stroke-width="1.4" stroke-linejoin="round"/>
<polygon points="930.3,956.2 938.3,963.1 933.5,970.7 929.6,974.6 918.8,969.9 916.5,963.5 923.0,955.1" fill="rgb(91,91,91)" fill-opacity="0.75" stroke="rgb(154,154,154)" stroke-opacity="0.43" stroke-width="1.4" stroke-linejoin="round"/>
<polygon points="924.1,852.7 917.0,848.5 917.0,842.5 917.5,835.5 921.8,831.2 929.0,830.8 937.4,836.8 936.4,843.1 932.0,850.7" fill="rgb(114,114,114)" fill-opacity="0.75" stroke="rgb(164,164,164)" stroke-opacity="0.48" stroke-width="1.4" stroke-linejoin="round"/>
<polygon points="776.8,1013.3 783.0,1012.8 788.9,1014.3 793.7,1023.3 794.6,1028.8 787.6,1033.4 776.7,1035.3 774.7,1031.7 772.4,1024.3" fill="rgb(112,112,112)" fill-opacity="0.75" stroke="rgb(160,160,160)" stroke-opacity="0.46" stroke-width="1.4" stroke-linejoin="round"/>
<polygon points="778.0,992.0 778.9,983.6 785.4,976.3 788.9,976.6 796.5,984.2 797.1,987.4 793.7,996.2 789.4,999.0 779.4,995.2" fill="rgb(105,105,105)" fill-opacity="0.75" stroke="rgb(165,165,165)" stroke-opacity="0.48" stroke-width="1.4" stroke-linejoin="round"/>
<polygon points="637.1,911.9 629.6,914.8 624.3,912.6 621.4,907.9 625.1,898.1 630.8,897.4 637.2,898.7 640.4,908.1" fill="rgb(134,134,134)" fill-opacity="0.75" stroke="rgb(211,211,211)" stroke-opacity="0.69" stroke-width="1.4" stroke-linejoin="round"/>
<polygon points="828.2,1013.4 833.0,1023.3 834.3,1029.1 828.9,1033.6 821.8,1037.7 812.8,1033.7 809.3,1022.4 811.1,1017.7 820.0,1013.7" fill="rgb(101,101,101)" fill-opacity="0.75" stroke="rgb(162,162,162)" stroke-opacity="0.47" stroke-width="1.4" stroke-linejoin="round"/>
<polygon points="524.3,944.2 523.5,951.6 517.0,954.5 511.5,950.5 508.0,947.8 509.3,941.8 517.2,936.5 519.9,937.0" fill="rgb(125,125,125)" fill-opacity="0.75" stroke="rgb(204,204,204)" stroke-opacity="0.66" stroke-width="1.4" stroke-linejoin="round"/>
<polygon points="897.5,962.0 893.7,958.9 887.7,952.5 889.4,947.6 893.5,941.8 897.3,942.9 905.4,945.3 905.7,952.5 904.2,960.0" fill="rgb(95,95,95)" fill-opacity="0.75" stroke="rgb(142,142,142)" stroke-opacity="0.38" stroke-width="1.4" stroke-linejoin="round"/>
<polygon points="655.4,804.2 666.1,805.6 668.6,814.0 665.3,819.5 663.6,824.4 656.6,823.4 648.6,817.9 649.1,810.8 651.1,805.3" fill="rgb(103,103,103)" fill-opacity="0.75" stroke="rgb(164,164,164)" stroke-opacity="0.48" stroke-width="1.4" stroke-linejoin="round"/>
<polygon points="755.1,972.2 742.7,974.4 736.5,970.5 732.3,966.1 737.0,952.1 740.9,950.9 750.7,953.4 757.0,965.0" fill="rgb(124,124,124)" fill-opacity="0.75" stroke="rgb(206,206,206)" stroke-opacity="0.67" stroke-width="1.4" stroke-linejoin="round"/>
<polygon points="723.4,877.1 723.1,881.6 714.6,887.7 706.2,886.7 700.7,878.0 701.8,871.7 712.9,866.2 718.3,866.9" fill="rgb(116,116,116)" fill-opacity="0.75" stroke="rgb(166,166,166)" stroke-opacity="0.49" stroke-width="1.4" stroke-linejoin="round"/>
<polygon points="819.9,863.2 815.0,862.0 810.1,851.9 808.5,847.3 813.7,841.7 820.4,839.1 830.4,844.4 832.0,850.9 830.4,856.3" fill="rgb(103,103,103)" fill-opacity="0.75" stroke="rgb(164,164,164)" stroke-opacity="0.48" stroke-width="1.4" stroke-linejoin="round"/>
<polygon points="677.7,825.5 671.5,823.9 666.8,811.4 668.8,804.2 679.8,798.7 686.8,802.3 693.5,808.9 690.3,817.4 687.2,823.0" fill="rgb(102,102,102)" fill-opacity="0.75" stroke="rgb(159,159,159)" stroke-opacity="0.46" stroke-width="1.4" stroke-linejoin="round"/>
<polygon points="792.4,932.6 797.5,940.3 799.9,948.0 792.2,955.0 783.6,956.0 774.5,950.1 770.9,940.1 779.7,930.2" fill="rgb(126,126,126)" fill-opacity="0.75" stroke="rgb(198,198,198)" stroke-opacity="0.63" stroke-width="1.4" stroke-linejoin="round"/>
<polygon points="838.9,885.9 832.4,885.6 820.5,878.8 819.9,866.5 829.3,860.5 838.0,861.2 844.6,861.1 847.2,876.5" fill="rgb(107,107,107)" fill-opacity="0.75" stroke="rgb(167,167,167)" stroke-opacity="0.49" stroke-width="1.4" stroke-linejoin="round"/>
<polygon points="851.7,902.6 841.3,903.6 831.8,896.6 830.7,890.5 832.9,882.2 840.4,875.2 849.4,877.9 855.0,885.9 855.5,890.7" fill="rgb(117,117,117)" fill-opacity="0.75" stroke="rgb(174,174,174)" stroke-opacity="0.52" stroke-width="1.4" stroke-linejoin="round"/>
<polygon points="494.2,950.8 504.9,943.7 519.4,944.7 521.7,956.1 519.9,965.6 501.5,967.5 498.5,962.3" fill="rgb(117,117,117)" fill-opacity="0.75" stroke="rgb(184,184,184)" stroke-opacity="0.57" stroke-width="1.4" stroke-linejoin="round"/>
<polygon points="500.2,845.4 508.1,849.3 512.5,855.3 512.3,861.8 508.0,871.7 498.4,870.4 492.4,863.8 492.1,855.5" fill="rgb(112,112,112)" fill-opacity="0.75" stroke="rgb(164,164,164)" stroke-opacity="0.48" stroke-width="1.4" stroke-linejoin="round"/>
<polygon points="929.0,859.4 923.7,862.5 916.0,859.8 912.5,854.5 918.4,843.6 924.9,843.5 931.4,848.5" fill="rgb(107,107,107)" fill-opacity="0.75" stroke="rgb(164,164,164)" stroke-opacity="0.48" stroke-width="1.4" stroke-linejoin="round"/>
<polygon points="687.2,1074.2 681.5,1068.9 677.7,1060.2 681.7,1048.8 695.5,1047.7 703.3,1053.9 704.3,1059.7 698.6,1070.5" fill="rgb(108,108,108)" fill-opacity="0.75" stroke="rgb(161,161,161)" stroke-opacity="0.46" stroke-width="1.4" stroke-linejoin="round"/>
<polygon points="797.2,880.4 787.6,884.8 775.2,874.6 778.7,867.6 788.3,858.8 796.3,861.0 800.4,873.5" fill="rgb(121,121,121)" fill-opacity="0.75" stroke="rgb(189,189,189)" stroke-opacity="0.59" stroke-width="1.4" stroke-linejoin="round"/>
<polygon points="777.5,937.0 770.3,938.5 756.8,936.6 751.9,926.0 758.9,914.8 765.7,912.1 774.2,913.6 781.9,921.9" fill="rgb(127,127,127)" fill-opacity="0.75" stroke="rgb(208,208,208)" stroke-opacity="0.68" stroke-width="1.4" stroke-linejoin="round"/>
<polygon points="808.4,1036.7 799.0,1028.1 803.2,1017.7 810.4,1013.3 818.8,1014.8 822.0,1023.8 816.6,1035.8" fill="rgb(104,104,104)" fill-opacity="0.75" stroke="rgb(166,166,166)" stroke-opacity="0.49" stroke-width="1.4" stroke-linejoin="round"/>
<polygon points="914.2,859.0 906.4,866.8 899.5,864.7 895.7,856.2 894.5,852.2 900.9,842.9 904.5,843.3 914.9,847.4 918.0,850.7" fill="rgb(107,107,107)" fill-opacity="0.75" stroke="rgb(164,164,164)" stroke-opacity="0.48" stroke-width="1.4" stroke-linejoin="round"/>
<polygon points="811.5,1094.3 803.7,1092.5 803.7,1083.8 810.4,1077.0 815.8,1076.1 821.3,1086.6 816.6,1093.9" fill="rgb(123,123,123)" fill-opacity="0.75" stroke="rgb(187,187,187)" stroke-opacity="0.58" stroke-width="1.4" stroke-linejoin="round"/>
<polygon points="672.0,950.7 680.9,950.5 684.9,957.4 686.9,968.6 679.7,975.3 670.6,974.8 666.7,968.8 664.8,956.6" fill="rgb(137,137,137)" fill-opacity="0.75" stroke="rgb(201,201,201)" stroke-opacity="0.64" stroke-width="1.4" stroke-linejoin="round"/>
<polygon points="842.0,1115.0 837.2,1102.9 843.5,1097.6 853.1,1096.1 861.2,1103.5 864.7,1109.6 859.0,1118.7 845.4,1121.4" fill="rgb(116,116,116)" fill-opacity="0.75" stroke="rgb(167,167,167)" stroke-opacity="0.49" stroke-width="1.4" stroke-linejoin="round"/>
<polygon points="716.5,1050.0 708.0,1052.6 701.2,1050.1 697.7,1044.7 701.9,1037.7 709.3,1032.1 716.9,1036.6 717.2,1040.6" fill="rgb(97,97,97)" fill-opacity="0.75" stroke="rgb(139,139,139)" stroke-opacity="0.37" stroke-width="1.4" stroke-linejoin="round"/>
<polygon points="570.2,905.5 574.9,896.7 584.8,893.3 594.1,894.9 598.0,909.4 591.9,916.6 580.4,919.4 570.7,913.5" fill="rgb(140,140,140)" fill-opacity="0.75" stroke="rgb(212,212,212)" stroke-opacity="0.70" stroke-width="1.4" stroke-linejoin="round"/>
<polygon points="743.2,1055.0 739.3,1058.7 727.6,1059.0 725.3,1047.4 726.6,1038.8 731.4,1036.6 740.4,1038.2 746.5,1045.5" fill="rgb(112,112,112)" fill-opacity="0.75" stroke="rgb(159,159,159)" stroke-opacity="0.46" stroke-width="1.4" stroke-linejoin="round"/>
<polygon points="837.7,825.8 835.6,834.9 827.7,842.9 817.4,840.7 810.0,833.3 812.8,821.8 818.7,818.8 829.2,817.6" fill="rgb(100,100,100)" fill-opacity="0.75" stroke="rgb(164,164,164)" stroke-opacity="0.48" stroke-width="1.4" stroke-linejoin="round"/>
<polygon points="579.5,959.8 566.2,949.3 565.7,943.1 574.3,932.4 582.5,933.1 592.6,942.5 594.4,950.1 586.7,958.2" fill="rgb(130,130,130)" fill-opacity="0.75" stroke="rgb(213,213,213)" stroke-opacity="0.70" stroke-width="1.4" stroke-linejoin="round"/>
<polygon points="646.2,1058.0 649.7,1055.4 659.8,1054.5 665.6,1057.7 666.2,1065.6 663.8,1067.8 656.5,1073.9 648.7,1070.0 645.6,1066.5" fill="rgb(116,116,116)" fill-opacity="0.75" stroke="rgb(195,195,195)" stroke-opacity="0.62" stroke-width="1.4" stroke-linejoin="round"/>
<polygon points="775.7,966.3 766.5,965.1 760.1,952.1 763.3,944.5 771.5,941.7 780.4,941.8 788.2,951.3 781.8,961.9" fill="rgb(124,124,124)" fill-opacity="0.75" stroke="rgb(205,205,205)" stroke-opacity="0.66" stroke-width="1.4" stroke-linejoin="round"/>
<polygon points="806.8,1007.8 811.3,1003.0 821.4,1007.0 824.2,1016.3 820.8,1021.4 812.0,1022.4 804.2,1018.6" fill="rgb(106,106,106)" fill-opacity="0.75" stroke="rgb(158,158,158)" stroke-opacity="0.46" stroke-width="1.4" stroke-linejoin="round"/>
<polygon points="646.4,848.3 651.6,844.4 666.8,846.6 670.1,856.9 664.6,863.6 651.7,866.3 647.7,861.6" fill="rgb(111,111,111)" fill-opacity="0.75" stroke="rgb(164,164,164)" stroke-opacity="0.48" stroke-width="1.4" stroke-linejoin="round"/>
<polygon points="764.4,784.3 772.6,778.8 780.3,782.7 785.6,790.7 780.5,800.8 770.9,802.5 763.7,795.2" fill="rgb(113,113,113)" fill-opacity="0.75" stroke="rgb(170,170,170)" stroke-opacity="0.51" stroke-width="1.4" stroke-linejoin="round"/>
<polygon points="548.2,1048.8 544.4,1041.0 546.3,1033.0 553.6,1030.6 562.7,1032.9 565.4,1040.0 566.2,1047.6 557.8,1052.8" fill="rgb(95,95,95)" fill-opacity="0.75" stroke="rgb(142,142,142)" stroke-opacity="0.38" stroke-width="1.4" stroke-linejoin="round"/>
<polygon points="471.5,858.5 472.8,850.7 487.2,843.1 494.4,848.8 495.6,860.4 490.9,869.2 478.3,869.5" fill="rgb(107,107,107)" fill-opacity="0.75" stroke="rgb(164,164,164)" stroke-opacity="0.48" stroke-width="1.4" stroke-linejoin="round"/>
<polygon points="878.3,835.4 886.8,836.9 892.9,851.6 887.5,861.4 878.6,862.7 866.4,859.1 864.7,847.8 867.9,843.3" fill="rgb(99,99,99)" fill-opacity="0.75" stroke="rgb(164,164,164)" stroke-opacity="0.48" stroke-width="1.4" stroke-linejoin="round"/>
<polygon points="805.1,1053.7 797.6,1049.0 796.8,1040.4 801.3,1036.3 809.7,1035.4 813.3,1045.6 811.7,1050.6" fill="rgb(119,119,119)" fill-opacity="0.75" stroke="rgb(186,186,186)" stroke-opacity="0.58" stroke-width="1.4" stroke-linejoin="round"/>
<polygon points="896.3,1086.6 891.1,1093.7 885.4,1092.9 879.0,1088.5 879.0,1083.0 883.4,1073.7 890.1,1074.8 898.5,1080.1" fill="rgb(108,108,108)" fill-opacity="0.75" stroke="rgb(181,181,181)" stroke-opacity="0.56" stroke-width="1.4" stroke-linejoin="round"/>
<polygon points="856.5,826.6 845.8,819.6 844.0,814.4 851.3,804.3 858.3,803.7 867.2,807.7 869.3,813.3 869.7,822.7 864.9,826.7" fill="rgb(106,106,106)" fill-opacity="0.75" stroke="rgb(164,164,164)" stroke-opacity="0.48" stroke-width="1.4" stroke-linejoin="round"/>
<polygon points="835.9,806.0 846.2,801.5 851.6,805.9 857.9,811.0 853.6,823.1 845.0,825.6 841.1,828.0 831.8,820.9 832.8,810.1" fill="rgb(102,102,102)" fill-opacity="0.75" stroke="rgb(164,164,164)" stroke-opacity="0.48" stroke-width="1.4" stroke-linejoin="round"/>
<polygon points="940.8,813.6 936.7,821.8 926.6,822.4 917.4,817.0 917.1,809.6 922.7,801.8 934.5,801.8 938.9,805.6" fill="rgb(109,109,109)" fill-opacity="0.75" stroke="rgb(164,164,164)" stroke-opacity="0.48" stroke-width="1.4" stroke-linejoin="round"/>
<polygon points="574.6,789.8 581.0,784.2 587.3,785.5 590.3,792.6 588.0,799.3 578.4,801.0 574.3,796.0" fill="rgb(105,105,105)" fill-opacity="0.75" stroke="rgb(164,164,164)" stroke-opacity="0.48" stroke-width="1.4" stroke-linejoin="round"/>
<polygon points="480.9,887.6 483.2,878.3 490.2,875.2 496.7,878.0 504.4,883.1 499.4,895.1 495.0,899.8 482.8,894.5" fill="rgb(100,100,100)" fill-opacity="0.75" stroke="rgb(160,160,160)" stroke-opacity="0.46" stroke-width="1.4" stroke-linejoin="round"/>
<polygon points="737.3,1000.4 743.0,1005.1 745.0,1014.4 738.8,1017.8 730.5,1021.4 724.5,1017.0 721.8,1006.9 727.5,999.9" fill="rgb(112,112,112)" fill-opacity="0.75" stroke="rgb(170,170,170)" stroke-opacity="0.51" stroke-width="1.4" stroke-linejoin="round"/>
<polygon points="680.3,951.6 678.3,957.4 672.4,961.0 662.6,956.1 662.2,948.2 666.3,943.0 672.6,941.9" fill="rgb(137,137,137)" fill-opacity="0.75" stroke="rgb(208,208,208)" stroke-opacity="0.68" stroke-width="1.4" stroke-linejoin="round"/>
<polygon points="908.3,902.8 913.9,906.3 914.9,914.4 908.4,923.7 902.5,925.5 894.0,920.0 890.2,910.9 900.3,903.0" fill="rgb(101,101,101)" fill-opacity="0.75" stroke="rgb(164,164,164)" stroke-opacity="0.48" stroke-width="1.4" stroke-linejoin="round"/>
<polygon points="892.3,926.1 898.5,924.0 907.2,922.7 911.7,936.8 908.7,947.5 900.2,949.8 887.6,945.5 885.1,937.0" fill="rgb(97,97,97)" fill-opacity="0.75" stroke="rgb(160,160,160)" stroke-opacity="0.46" stroke-width="1.4" stroke-linejoin="round"/>
<polygon points="601.1,1046.9 606.0,1048.3 612.5,1050.8 616.1,1056.7 610.5,1066.5 605.3,1068.1 598.5,1064.8 595.2,1062.3 595.2,1052.6" fill="rgb(116,116,116)" fill-opacity="0.75" stroke="rgb(191,191,191)" stroke-opacity="0.60" stroke-width="1.4" stroke-linejoin="round"/>
<polygon points="625.5,1041.3 631.3,1047.5 634.4,1052.6 632.2,1065.4 629.7,1067.1 616.9,1068.5 610.4,1064.1 611.6,1053.3 612.2,1046.3" fill="rgb(133,133,133)" fill-opacity="0.75" stroke="rgb(196,196,196)" stroke-opacity="0.62" stroke-width="1.4" stroke-linejoin="round"/>
<polygon points="737.2,975.9 743.5,979.8 745.6,985.1 741.5,994.1 731.4,993.2 728.5,989.5 729.7,980.9" fill="rgb(132,132,132)" fill-opacity="0.75" stroke="rgb(192,192,192)" stroke-opacity="0.60" stroke-width="1.4" stroke-linejoin="round"/>
<polygon points="794.3,807.9 803.3,817.0 804.2,825.5 793.5,832.5 782.2,827.0 781.2,817.3 786.5,812.2" fill="rgb(126,126,126)" fill-opacity="0.75" stroke="rgb(186,186,186)" stroke-opacity="0.58" stroke-width="1.4" stroke-linejoin="round"/>
<polygon points="585.6,862.8 583.3,858.5 583.3,848.4 591.4,844.2 600.7,843.1 605.5,849.2 604.6,859.0 597.8,864.9" fill="rgb(115,115,115)" fill-opacity="0.75" stroke="rgb(164,164,164)" stroke-opacity="0.48" stroke-width="1.4" stroke-linejoin="round"/>
<polygon points="613.9,941.5 620.8,936.5 627.6,934.3 634.5,942.8 632.5,950.0 628.9,955.4 619.1,954.2" fill="rgb(140,140,140)" fill-opacity="0.75" stroke="rgb(213,213,213)" stroke-opacity="0.70" stroke-width="1.4" stroke-linejoin="round"/>
<polygon points="536.1,916.3 541.2,911.5 552.5,913.9 557.1,928.4 554.1,937.4 546.7,939.8 532.1,936.0 530.9,929.6" fill="rgb(127,127,127)" fill-opacity="0.75" stroke="rgb(213,213,213)" stroke-opacity="0.70" stroke-width="1.4" stroke-linejoin="round"/>
<polygon points="507.8,936.8 496.7,932.8 492.0,931.2 493.9,920.0 503.5,913.7 510.7,915.2 520.6,921.5 518.3,925.5 513.3,935.9" fill="rgb(104,104,104)" fill-opacity="0.75" stroke="rgb(175,175,175)" stroke-opacity="0.53" stroke-width="1.4" stroke-linejoin="round"/>
<polygon points="687.6,841.6 698.3,842.2 707.9,846.8 707.7,855.5 702.8,863.4 692.9,865.8 687.3,864.1 680.9,853.1" fill="rgb(102,102,102)" fill-opacity="0.75" stroke="rgb(158,158,158)" stroke-opacity="0.46" stroke-width="1.4" stroke-linejoin="round"/>
<polygon points="675.5,845.6 669.1,838.4 668.2,831.5 668.8,825.1 679.5,820.6 689.4,823.7 694.3,829.9 690.5,842.2 684.7,847.8" fill="rgb(101,101,101)" fill-opacity="0.75" stroke="rgb(159,159,159)" stroke-opacity="0.46" stroke-width="1.4" stroke-linejoin="round"/>
<polygon points="627.0,980.2 627.5,987.7 620.4,995.6 611.6,997.2 607.3,990.2 605.9,977.9 611.3,974.8 621.4,972.9" fill="rgb(128,128,128)" fill-opacity="0.75" stroke="rgb(213,213,213)" stroke-opacity="0.70" stroke-width="1.4" stroke-linejoin="round"/>
<polygon points="587.1,967.7 591.9,960.3 595.1,959.9 604.7,964.0 604.1,969.0 600.3,974.7 593.8,977.1 587.9,973.8" fill="rgb(137,137,137)" fill-opacity="0.75" stroke="rgb(213,213,213)" stroke-opacity="0.70" stroke-width="1.4" stroke-linejoin="round"/>
<polygon points="873.6,915.4 865.0,917.8 854.3,913.1 851.3,903.4 857.4,893.7 869.0,889.4 879.1,901.6 881.8,910.3" fill="rgb(114,114,114)" fill-opacity="0.75" stroke="rgb(164,164,164)" stroke-opacity="0.48" stroke-width="1.4" stroke-linejoin="round"/>
<polygon points="892.9,935.5 893.7,946.0 889.0,952.6 881.6,955.5 876.2,950.2 871.3,941.5 877.4,935.3 889.3,932.0" fill="rgb(90,90,90)" fill-opacity="0.75" stroke="rgb(141,141,141)" stroke-opacity="0.38" stroke-width="1.4" stroke-linejoin="round"/>
<polygon points="753.7,1001.1 744.3,1002.5 741.0,999.7 739.1,990.2 741.3,985.4 744.4,982.1 757.1,984.3 758.7,991.4 758.5,999.6" fill="rgb(107,107,107)" fill-opacity="0.75" stroke="rgb(170,170,170)" stroke-opacity="0.51" stroke-width="1.4" stroke-linejoin="round"/>
<polygon points="899.5,1107.8 902.3,1095.6 909.4,1095.9 919.5,1098.8 921.5,1111.5 915.3,1118.6 901.6,1116.1" fill="rgb(110,110,110)" fill-opacity="0.75" stroke="rgb(167,167,167)" stroke-opacity="0.49" stroke-width="1.4" stroke-linejoin="round"/>
<polygon points="784.1,815.3 778.8,820.2 771.1,818.7 765.5,811.9 768.9,803.2 773.8,802.9 781.7,806.3" fill="rgb(132,132,132)" fill-opacity="0.75" stroke="rgb(193,193,193)" stroke-opacity="0.61" stroke-width="1.4" stroke-linejoin="round"/>
<polygon points="798.8,898.7 795.2,889.8 805.2,881.4 813.3,879.2 819.1,888.5 819.7,900.4 806.6,906.0" fill="rgb(114,114,114)" fill-opacity="0.75" stroke="rgb(187,187,187)" stroke-opacity="0.58" stroke-width="1.4" stroke-linejoin="round"/>
<polygon points="912.6,902.6 910.2,892.3 921.2,885.8 928.4,887.0 935.4,898.9 928.9,907.2 921.3,910.5" fill="rgb(99,99,99)" fill-opacity="0.75" stroke="rgb(164,164,164)" stroke-opacity="0.48" stroke-width="1.4" stroke-linejoin="round"/>
<polygon points="526.9,942.1 517.9,943.7 510.9,939.9 510.0,932.2 514.5,927.9 519.6,926.3 527.3,932.4 529.7,935.5" fill="rgb(134,134,134)" fill-opacity="0.75" stroke="rgb(207,207,207)" stroke-opacity="0.67" stroke-width="1.4" stroke-linejoin="round"/>
<polygon points="832.5,924.4 829.9,935.0 824.5,939.1 815.7,937.0 810.8,933.5 811.8,922.1 814.8,918.8 822.1,918.2 830.4,922.5" fill="rgb(109,109,109)" fill-opacity="0.75" stroke="rgb(181,181,181)" stroke-opacity="0.55" stroke-width="1.4" stroke-linejoin="round"/>
<polygon points="565.0,925.6 571.4,927.9 576.1,940.1 571.9,946.0 567.1,947.1 556.4,944.9 553.9,940.9 553.4,935.1 558.8,926.8" fill="rgb(145,145,145)" fill-opacity="0.75" stroke="rgb(213,213,213)" stroke-opacity="0.70" stroke-width="1.4" stroke-linejoin="round"/>
<polygon points="505.8,883.3 512.9,891.0 517.2,905.0 508.4,912.2 499.8,913.1 491.4,904.3 487.7,895.4 495.5,887.3" fill="rgb(107,107,107)" fill-opacity="0.75" stroke="rgb(164,164,164)" stroke-opacity="0.48" stroke-width="1.4" stroke-linejoin="round"/>
<polygon points="683.2,896.1 681.7,891.5 684.5,883.6 687.5,882.4 693.2,882.5 698.8,886.7 697.9,890.9 695.3,897.3 688.5,898.2" fill="rgb(98,98,98)" fill-opacity="0.75" stroke="rgb(166,166,166)" stroke-opacity="0.49" stroke-width="1.4" stroke-linejoin="round"/>
<polygon points="836.2,922.1 848.1,915.0 855.5,919.9 860.1,930.3 851.9,941.0 839.4,938.9 834.1,934.2" fill="rgb(100,100,100)" fill-opacity="0.75" stroke="rgb(162,162,162)" stroke-opacity="0.47" stroke-width="1.4" stroke-linejoin="round"/>
<polygon points="687.5,888.6 684.3,886.3 680.4,879.1 680.9,873.5 687.8,867.4 691.0,869.7 696.9,872.6 698.2,880.7 696.6,885.2" fill="rgb(113,113,113)" fill-opacity="0.75" stroke="rgb(164,164,164)" stroke-opacity="0.48" stroke-width="1.4" stroke-linejoin="round"/>
<polygon points="688.1,862.7 679.7,864.6 670.2,861.4 668.8,853.8 670.3,844.3 680.3,843.9 689.4,850.9" fill="rgb(108,108,108)" fill-opacity="0.75" stroke="rgb(163,163,163)" stroke-opacity="0.48" stroke-width="1.4" stroke-linejoin="round"/>
<polygon points="500.2,804.6 490.8,811.0 482.4,808.7 478.6,799.7 485.1,791.0 492.9,792.4 500.6,798.0" fill="rgb(105,105,105)" fill-opacity="0.75" stroke="rgb(164,164,164)" stroke-opacity="0.48" stroke-width="1.4" stroke-linejoin="round"/>
<polygon points="549.6,966.9 551.6,962.9 562.1,963.4 565.2,966.0 566.1,975.1 564.6,979.5 555.8,979.6 551.7,976.4" fill="rgb(134,134,134)" fill-opacity="0.75" stroke="rgb(204,204,204)" stroke-opacity="0.66" stroke-width="1.4" stroke-linejoin="round"/>
<polygon points="837.4,841.8 848.4,836.8 862.6,836.8 864.3,851.3 860.8,860.6 852.3,861.5 840.6,859.2" fill="rgb(111,111,111)" fill-opacity="0.75" stroke="rgb(164,164,164)" stroke-opacity="0.48" stroke-width="1.4" stroke-linejoin="round"/>
</g>
</g></g>
<rect x="481.5" y="771.5" width="433.70000000000005" height="21.100000000000023" fill="#000"/>
<rect x="481.5" y="469.0" width="203.20000000000005" height="92.4" fill="#ffff00"/>
<rect x="800.5" y="469.0" width="114.70000000000005" height="92.4" fill="#ffff00"/>
<rect x="733.3" y="768.1" width="173.5" height="11.6" rx="5.5" fill="#f5f52a"/>
<text x="484.6" y="790.5" font-size="12.44" textLength="161.2" lengthAdjust="spacingAndGlyphs" fill="#d8d8d8" >3.0kV 11.6mm x5.00k SE(M)</text>
<text x="670.3" y="787.8" font-size="18.50" font-weight="bold" textLength="59.7" lengthAdjust="spacingAndGlyphs" fill="#f0f040" >10 µm</text>
<text x="844.0" y="789.3" font-size="11.50" textLength="40.0" lengthAdjust="spacingAndGlyphs" fill="#d0d0d0" >10.0um</text>
<text x="582.2" y="535.6" font-size="54.38" text-anchor="middle" textLength="165.7" lengthAdjust="spacingAndGlyphs" >Li 1.10</text>
<text x="857.4" y="534.6" font-size="57.98" text-anchor="middle" textLength="96.5" lengthAdjust="spacingAndGlyphs" >(c1)</text>
<rect x="481.5" y="1095.3" width="433.70000000000005" height="21.299999999999955" fill="#000"/>
<rect x="481.5" y="793.0" width="203.20000000000005" height="92.4" fill="#ffff00"/>
<rect x="800.5" y="793.0" width="114.70000000000005" height="92.4" fill="#ffff00"/>
<rect x="733.3" y="1091.8999999999999" width="173.5" height="11.6" rx="5.5" fill="#f5f52a"/>
<text x="484.6" y="1113.5" font-size="12.44" textLength="161.2" lengthAdjust="spacingAndGlyphs" fill="#d8d8d8" >3.0kV 11.5mm x5.00k SE(M)</text>
<text x="670.3" y="1110.8" font-size="18.50" font-weight="bold" textLength="59.7" lengthAdjust="spacingAndGlyphs" fill="#f0f040" >10 µm</text>
<text x="844.0" y="1113.1" font-size="11.50" textLength="40.0" lengthAdjust="spacingAndGlyphs" fill="#d0d0d0" >10.0um</text>
<text x="582.2" y="859.5" font-size="55.19" text-anchor="middle" textLength="165.7" lengthAdjust="spacingAndGlyphs" >Li 1.20</text>
<text x="857.1" y="859.1" font-size="57.77" text-anchor="middle" textLength="95.4" lengthAdjust="spacingAndGlyphs" >(c2)</text>
<rect x="991.8" y="481.8" width="823" height="549" fill="none" stroke="#151515" stroke-width="2.6"/>
<line x1="991.8" y1="903.6" x2="1006.5" y2="903.6" stroke="#151515" stroke-width="2.4"/>
<line x1="1814.8" y1="903.6" x2="1800.8" y2="903.6" stroke="#151515" stroke-width="2.4"/>
<line x1="991.8" y1="734.9" x2="1006.5" y2="734.9" stroke="#151515" stroke-width="2.4"/>
<line x1="1814.8" y1="734.9" x2="1800.8" y2="734.9" stroke="#151515" stroke-width="2.4"/>
<line x1="991.8" y1="566.2" x2="1006.5" y2="566.2" stroke="#151515" stroke-width="2.4"/>
<line x1="1814.8" y1="566.2" x2="1800.8" y2="566.2" stroke="#151515" stroke-width="2.4"/>
<line x1="991.8" y1="988.0" x2="1000.5" y2="988.0" stroke="#151515" stroke-width="2.4"/>
<line x1="1814.8" y1="988.0" x2="1806.5" y2="988.0" stroke="#151515" stroke-width="2.4"/>
<line x1="991.8" y1="819.2" x2="1000.5" y2="819.2" stroke="#151515" stroke-width="2.4"/>
<line x1="1814.8" y1="819.2" x2="1806.5" y2="819.2" stroke="#151515" stroke-width="2.4"/>
<line x1="991.8" y1="650.6" x2="1000.5" y2="650.6" stroke="#151515" stroke-width="2.4"/>
<line x1="1814.8" y1="650.6" x2="1806.5" y2="650.6" stroke="#151515" stroke-width="2.4"/>
<line x1="1060.8" y1="482.0" x2="1060.8" y2="496.0" stroke="#151515" stroke-width="2.4"/>
<line x1="1060.8" y1="1030.8" x2="1060.8" y2="1016.8" stroke="#151515" stroke-width="2.4"/>
<line x1="1231.8" y1="482.0" x2="1231.8" y2="496.0" stroke="#151515" stroke-width="2.4"/>
<line x1="1231.8" y1="1030.8" x2="1231.8" y2="1016.8" stroke="#151515" stroke-width="2.4"/>
<line x1="1402.8" y1="482.0" x2="1402.8" y2="496.0" stroke="#151515" stroke-width="2.4"/>
<line x1="1402.8" y1="1030.8" x2="1402.8" y2="1016.8" stroke="#151515" stroke-width="2.4"/>
<line x1="1573.8" y1="482.0" x2="1573.8" y2="496.0" stroke="#151515" stroke-width="2.4"/>
<line x1="1573.8" y1="1030.8" x2="1573.8" y2="1016.8" stroke="#151515" stroke-width="2.4"/>
<line x1="1744.8" y1="482.0" x2="1744.8" y2="496.0" stroke="#151515" stroke-width="2.4"/>
<line x1="1744.8" y1="1030.8" x2="1744.8" y2="1016.8" stroke="#151515" stroke-width="2.4"/>
<text x="978.7" y="913.5" font-size="27.00" font-weight="bold" text-anchor="end" textLength="17.1" lengthAdjust="spacingAndGlyphs" >2</text>
<text x="976.2" y="743.4" font-size="28.75" font-weight="bold" text-anchor="end" textLength="15.5" lengthAdjust="spacingAndGlyphs" >4</text>
<text x="977.1" y="575.1" font-size="28.15" font-weight="bold" text-anchor="end" textLength="17.2" lengthAdjust="spacingAndGlyphs" >6</text>
<text x="1059.8" y="1070.9" font-size="28.74" font-weight="bold" text-anchor="middle" textLength="50.0" lengthAdjust="spacingAndGlyphs" >775</text>
<text x="1231.0" y="1070.9" font-size="28.74" font-weight="bold" text-anchor="middle" textLength="50.0" lengthAdjust="spacingAndGlyphs" >800</text>
<text x="1402.0" y="1070.9" font-size="28.74" font-weight="bold" text-anchor="middle" textLength="51.1" lengthAdjust="spacingAndGlyphs" >825</text>
<text x="1574.5" y="1070.9" font-size="28.74" font-weight="bold" text-anchor="middle" textLength="51.1" lengthAdjust="spacingAndGlyphs" >850</text>
<text x="1745.5" y="1070.9" font-size="28.74" font-weight="bold" text-anchor="middle" textLength="51.1" lengthAdjust="spacingAndGlyphs" >875</text>
<text x="1403.2" y="1107.4" font-size="32.87" font-weight="bold" text-anchor="middle" textLength="412.6" lengthAdjust="spacingAndGlyphs" >Heating Temperature (°C)</text>
<text x="947.5" y="754.3" font-size="33.00" font-weight="bold" text-anchor="middle" textLength="176.6" lengthAdjust="spacingAndGlyphs" transform="rotate(-90 947.5 754.3)" >Ni in Li (%)</text>
<text x="1769.5" y="1003.3" font-size="57.47" text-anchor="middle" textLength="75.6" lengthAdjust="spacingAndGlyphs" >(d)</text>
<polygon points="1060.6,895.6 1043.1,924.4 1078.1,924.4" fill="#000000"/>
<polygon points="1060.6,903.6 1043.1,932.4 1078.1,932.4" fill="#000000"/>
<polygon points="1060.6,911.1 1043.1,939.9 1078.1,939.9" fill="#000000"/>
<polygon points="1574.5,582.4 1557.0,611.2 1592.0,611.2" fill="#000000"/>
<polygon points="1574.5,617.1 1557.0,645.9 1592.0,645.9" fill="#000000"/>
<polygon points="1574.5,659.1 1557.0,687.9 1592.0,687.9" fill="#000000"/>
<polygon points="1060.6,934.6 1043.1,963.4 1078.1,963.4" fill="#ff0000"/>
<polygon points="1231.8,855.6 1214.3,884.4 1249.3,884.4" fill="#ff0000"/>
<polygon points="1231.8,880.0 1214.3,908.8 1249.3,908.8" fill="#ff0000"/>
<polygon points="1402.7,706.7 1385.2,735.5 1420.2,735.5" fill="#ff0000"/>
<polygon points="1402.7,784.6 1385.2,813.4 1420.2,813.4" fill="#ff0000"/>
<polygon points="1574.5,668.3 1557.0,697.1 1592.0,697.1" fill="#ff0000"/>
<polygon points="1745.8,522.2 1728.3,551.0 1763.3,551.0" fill="#ff0000"/>
<polygon points="1060.6,921.6 1043.1,950.4 1078.1,950.4" fill="#0000ff"/>
<polygon points="1060.6,951.6 1043.1,980.4 1078.1,980.4" fill="#0000ff"/>
<polygon points="1060.6,959.6 1043.1,988.4 1078.1,988.4" fill="#0000ff"/>
<polygon points="1231.8,772.6 1214.3,801.4 1249.3,801.4" fill="#0000ff"/>
<polygon points="1231.8,877.1 1214.3,905.9 1249.3,905.9" fill="#0000ff"/>
<polygon points="1402.7,801.6 1385.2,830.4 1420.2,830.4" fill="#0000ff"/>
<polygon points="1574.5,629.6 1557.0,658.4 1592.0,658.4" fill="#0000ff"/>
<polygon points="1060.6,869.8 1043.1,898.6 1078.1,898.6" fill="#00c000"/>
<polygon points="1060.6,939.6 1043.1,968.4 1078.1,968.4" fill="#00c000"/>
<polygon points="1231.8,849.1 1214.3,877.9 1249.3,877.9" fill="#00c000"/>
<polygon points="1402.7,790.9 1385.2,819.7 1420.2,819.7" fill="#00c000"/>
<polygon points="1574.5,681.3 1557.0,710.1 1592.0,710.1" fill="#00c000"/>
<polygon points="1060.6,927.8 1043.1,956.6 1078.1,956.6" fill="#cccc00"/>
<polygon points="1060.6,936.6 1043.1,965.4 1078.1,965.4" fill="#cccc00"/>
<polygon points="1060.6,945.9 1043.1,974.7 1078.1,974.7" fill="#cccc00"/>
<polygon points="1060.6,955.6 1043.1,984.4 1078.1,984.4" fill="#cccc00"/>
<polygon points="1060.6,966.6 1043.1,995.4 1078.1,995.4" fill="#cccc00"/>
<polygon points="1231.8,917.8 1214.3,946.6 1249.3,946.6" fill="#cccc00"/>
<polygon points="1402.7,776.8 1385.2,805.6 1420.2,805.6" fill="#cccc00"/>
<polygon points="1574.5,690.3 1557.0,719.1 1592.0,719.1" fill="#cccc00"/>
<polygon points="1574.5,842.8 1579.6,856.3 1594.0,857.0 1582.7,866.0 1586.5,879.9 1574.5,871.9 1562.5,879.9 1566.3,866.0 1555.0,857.0 1569.4,856.3" fill="#000"/>
<polygon points="1574.5,911.4 1579.6,924.9 1594.0,925.6 1582.7,934.6 1586.5,948.5 1574.5,940.5 1562.5,948.5 1566.3,934.6 1555.0,925.6 1569.4,924.9" fill="#000"/>
<polygon points="1402.7,890.8 1407.8,904.3 1422.2,905.0 1410.9,914.0 1414.7,927.9 1402.7,919.9 1390.7,927.9 1394.5,914.0 1383.2,905.0 1397.6,904.3" fill="#0000ff"/>
<polygon points="1402.7,901.5 1407.8,915.0 1422.2,915.7 1410.9,924.7 1414.7,938.6 1402.7,930.6 1390.7,938.6 1394.5,924.7 1383.2,915.7 1397.6,915.0" fill="#00c000"/>
<polygon points="1027.7,494.0 1016.1,514.0 1039.3,514.0" fill="#000000"/>
<text x="1072.0" y="515.4" font-size="30.90" font-weight="bold" textLength="106.2" lengthAdjust="spacingAndGlyphs" >Li 1.02</text>
<polygon points="1027.7,539.2 1016.1,559.2 1039.3,559.2" fill="#ff0000"/>
<text x="1072.0" y="560.4" font-size="30.90" font-weight="bold" textLength="106.2" lengthAdjust="spacingAndGlyphs" >Li 1.05</text>
<polygon points="1027.7,584.4 1016.1,604.4 1039.3,604.4" fill="#0000ff"/>
<text x="1072.0" y="605.4" font-size="30.90" font-weight="bold" textLength="106.2" lengthAdjust="spacingAndGlyphs" >Li 1.10</text>
<polygon points="1027.7,629.6 1016.1,649.6 1039.3,649.6" fill="#00c000"/>
<text x="1072.0" y="650.4" font-size="30.90" font-weight="bold" textLength="106.2" lengthAdjust="spacingAndGlyphs" >Li 1.20</text>
<polygon points="1027.7,674.8 1016.1,694.8 1039.3,694.8" fill="#cccc00"/>
<text x="1072.0" y="696.4" font-size="30.90" font-weight="bold" textLength="106.2" lengthAdjust="spacingAndGlyphs" >Li 1.30</text>
<polygon points="1027.9,720.1 1031.0,728.3 1039.7,728.7 1032.9,734.1 1035.2,742.5 1027.9,737.7 1020.6,742.5 1022.9,734.1 1016.1,728.7 1024.8,728.3" fill="#000"/>
<text x="1073.9" y="741.0" font-size="32.70" font-weight="bold" textLength="252.4" lengthAdjust="spacingAndGlyphs" >with 750°C step</text>
</svg></body></html>
